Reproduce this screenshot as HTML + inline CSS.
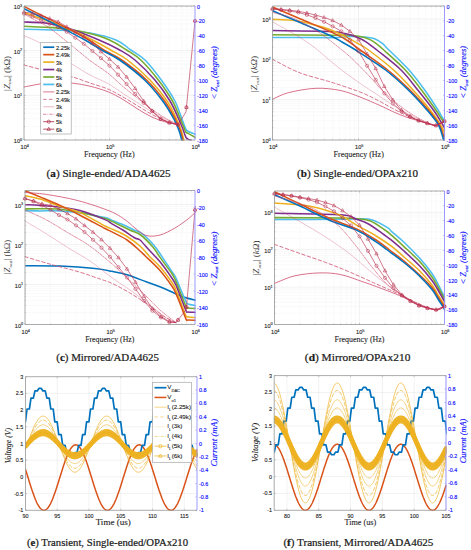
<!DOCTYPE html>
<html><head><meta charset="utf-8"><style>
html,body{margin:0;padding:0;background:#fff;width:471px;height:550px;overflow:hidden}
svg{display:block}
</style></head><body>
<svg width="471" height="550" viewBox="0 0 471 550">
<rect width="471" height="550" fill="#fff"/>
<line x1="49.74" y1="6" x2="49.74" y2="140" stroke="#f4f4f4" stroke-width="0.5"/>
<line x1="64.79" y1="6" x2="64.79" y2="140" stroke="#f4f4f4" stroke-width="0.5"/>
<line x1="75.48" y1="6" x2="75.48" y2="140" stroke="#f4f4f4" stroke-width="0.5"/>
<line x1="83.76" y1="6" x2="83.76" y2="140" stroke="#f4f4f4" stroke-width="0.5"/>
<line x1="90.53" y1="6" x2="90.53" y2="140" stroke="#f4f4f4" stroke-width="0.5"/>
<line x1="96.26" y1="6" x2="96.26" y2="140" stroke="#f4f4f4" stroke-width="0.5"/>
<line x1="101.21" y1="6" x2="101.21" y2="140" stroke="#f4f4f4" stroke-width="0.5"/>
<line x1="105.59" y1="6" x2="105.59" y2="140" stroke="#f4f4f4" stroke-width="0.5"/>
<line x1="135.24" y1="6" x2="135.24" y2="140" stroke="#f4f4f4" stroke-width="0.5"/>
<line x1="150.29" y1="6" x2="150.29" y2="140" stroke="#f4f4f4" stroke-width="0.5"/>
<line x1="160.98" y1="6" x2="160.98" y2="140" stroke="#f4f4f4" stroke-width="0.5"/>
<line x1="169.26" y1="6" x2="169.26" y2="140" stroke="#f4f4f4" stroke-width="0.5"/>
<line x1="176.03" y1="6" x2="176.03" y2="140" stroke="#f4f4f4" stroke-width="0.5"/>
<line x1="181.76" y1="6" x2="181.76" y2="140" stroke="#f4f4f4" stroke-width="0.5"/>
<line x1="186.71" y1="6" x2="186.71" y2="140" stroke="#f4f4f4" stroke-width="0.5"/>
<line x1="191.09" y1="6" x2="191.09" y2="140" stroke="#f4f4f4" stroke-width="0.5"/>
<line x1="24" y1="126.55" x2="195" y2="126.55" stroke="#f4f4f4" stroke-width="0.5"/>
<line x1="24" y1="118.69" x2="195" y2="118.69" stroke="#f4f4f4" stroke-width="0.5"/>
<line x1="24" y1="113.11" x2="195" y2="113.11" stroke="#f4f4f4" stroke-width="0.5"/>
<line x1="24" y1="108.78" x2="195" y2="108.78" stroke="#f4f4f4" stroke-width="0.5"/>
<line x1="24" y1="105.24" x2="195" y2="105.24" stroke="#f4f4f4" stroke-width="0.5"/>
<line x1="24" y1="102.25" x2="195" y2="102.25" stroke="#f4f4f4" stroke-width="0.5"/>
<line x1="24" y1="99.66" x2="195" y2="99.66" stroke="#f4f4f4" stroke-width="0.5"/>
<line x1="24" y1="97.38" x2="195" y2="97.38" stroke="#f4f4f4" stroke-width="0.5"/>
<line x1="24" y1="81.89" x2="195" y2="81.89" stroke="#f4f4f4" stroke-width="0.5"/>
<line x1="24" y1="74.02" x2="195" y2="74.02" stroke="#f4f4f4" stroke-width="0.5"/>
<line x1="24" y1="68.44" x2="195" y2="68.44" stroke="#f4f4f4" stroke-width="0.5"/>
<line x1="24" y1="64.11" x2="195" y2="64.11" stroke="#f4f4f4" stroke-width="0.5"/>
<line x1="24" y1="60.58" x2="195" y2="60.58" stroke="#f4f4f4" stroke-width="0.5"/>
<line x1="24" y1="57.59" x2="195" y2="57.59" stroke="#f4f4f4" stroke-width="0.5"/>
<line x1="24" y1="55" x2="195" y2="55" stroke="#f4f4f4" stroke-width="0.5"/>
<line x1="24" y1="52.71" x2="195" y2="52.71" stroke="#f4f4f4" stroke-width="0.5"/>
<line x1="24" y1="37.22" x2="195" y2="37.22" stroke="#f4f4f4" stroke-width="0.5"/>
<line x1="24" y1="29.36" x2="195" y2="29.36" stroke="#f4f4f4" stroke-width="0.5"/>
<line x1="24" y1="23.77" x2="195" y2="23.77" stroke="#f4f4f4" stroke-width="0.5"/>
<line x1="24" y1="19.45" x2="195" y2="19.45" stroke="#f4f4f4" stroke-width="0.5"/>
<line x1="24" y1="15.91" x2="195" y2="15.91" stroke="#f4f4f4" stroke-width="0.5"/>
<line x1="24" y1="12.92" x2="195" y2="12.92" stroke="#f4f4f4" stroke-width="0.5"/>
<line x1="24" y1="10.33" x2="195" y2="10.33" stroke="#f4f4f4" stroke-width="0.5"/>
<line x1="24" y1="8.04" x2="195" y2="8.04" stroke="#f4f4f4" stroke-width="0.5"/>
<line x1="109.5" y1="6" x2="109.5" y2="140" stroke="#e9e9e9" stroke-width="0.6"/>
<line x1="24" y1="95.33" x2="195" y2="95.33" stroke="#e9e9e9" stroke-width="0.6"/>
<line x1="24" y1="50.67" x2="195" y2="50.67" stroke="#e9e9e9" stroke-width="0.6"/>
<line x1="298.39" y1="6" x2="298.39" y2="140" stroke="#f4f4f4" stroke-width="0.5"/>
<line x1="313.53" y1="6" x2="313.53" y2="140" stroke="#f4f4f4" stroke-width="0.5"/>
<line x1="324.28" y1="6" x2="324.28" y2="140" stroke="#f4f4f4" stroke-width="0.5"/>
<line x1="332.61" y1="6" x2="332.61" y2="140" stroke="#f4f4f4" stroke-width="0.5"/>
<line x1="339.42" y1="6" x2="339.42" y2="140" stroke="#f4f4f4" stroke-width="0.5"/>
<line x1="345.18" y1="6" x2="345.18" y2="140" stroke="#f4f4f4" stroke-width="0.5"/>
<line x1="350.17" y1="6" x2="350.17" y2="140" stroke="#f4f4f4" stroke-width="0.5"/>
<line x1="354.56" y1="6" x2="354.56" y2="140" stroke="#f4f4f4" stroke-width="0.5"/>
<line x1="384.39" y1="6" x2="384.39" y2="140" stroke="#f4f4f4" stroke-width="0.5"/>
<line x1="399.53" y1="6" x2="399.53" y2="140" stroke="#f4f4f4" stroke-width="0.5"/>
<line x1="410.28" y1="6" x2="410.28" y2="140" stroke="#f4f4f4" stroke-width="0.5"/>
<line x1="418.61" y1="6" x2="418.61" y2="140" stroke="#f4f4f4" stroke-width="0.5"/>
<line x1="425.42" y1="6" x2="425.42" y2="140" stroke="#f4f4f4" stroke-width="0.5"/>
<line x1="431.18" y1="6" x2="431.18" y2="140" stroke="#f4f4f4" stroke-width="0.5"/>
<line x1="436.17" y1="6" x2="436.17" y2="140" stroke="#f4f4f4" stroke-width="0.5"/>
<line x1="440.56" y1="6" x2="440.56" y2="140" stroke="#f4f4f4" stroke-width="0.5"/>
<line x1="272.5" y1="127.85" x2="444.5" y2="127.85" stroke="#f4f4f4" stroke-width="0.5"/>
<line x1="272.5" y1="120.74" x2="444.5" y2="120.74" stroke="#f4f4f4" stroke-width="0.5"/>
<line x1="272.5" y1="115.7" x2="444.5" y2="115.7" stroke="#f4f4f4" stroke-width="0.5"/>
<line x1="272.5" y1="111.79" x2="444.5" y2="111.79" stroke="#f4f4f4" stroke-width="0.5"/>
<line x1="272.5" y1="108.59" x2="444.5" y2="108.59" stroke="#f4f4f4" stroke-width="0.5"/>
<line x1="272.5" y1="105.89" x2="444.5" y2="105.89" stroke="#f4f4f4" stroke-width="0.5"/>
<line x1="272.5" y1="103.55" x2="444.5" y2="103.55" stroke="#f4f4f4" stroke-width="0.5"/>
<line x1="272.5" y1="101.49" x2="444.5" y2="101.49" stroke="#f4f4f4" stroke-width="0.5"/>
<line x1="272.5" y1="87.49" x2="444.5" y2="87.49" stroke="#f4f4f4" stroke-width="0.5"/>
<line x1="272.5" y1="80.38" x2="444.5" y2="80.38" stroke="#f4f4f4" stroke-width="0.5"/>
<line x1="272.5" y1="75.34" x2="444.5" y2="75.34" stroke="#f4f4f4" stroke-width="0.5"/>
<line x1="272.5" y1="71.43" x2="444.5" y2="71.43" stroke="#f4f4f4" stroke-width="0.5"/>
<line x1="272.5" y1="68.23" x2="444.5" y2="68.23" stroke="#f4f4f4" stroke-width="0.5"/>
<line x1="272.5" y1="65.53" x2="444.5" y2="65.53" stroke="#f4f4f4" stroke-width="0.5"/>
<line x1="272.5" y1="63.19" x2="444.5" y2="63.19" stroke="#f4f4f4" stroke-width="0.5"/>
<line x1="272.5" y1="61.12" x2="444.5" y2="61.12" stroke="#f4f4f4" stroke-width="0.5"/>
<line x1="272.5" y1="47.13" x2="444.5" y2="47.13" stroke="#f4f4f4" stroke-width="0.5"/>
<line x1="272.5" y1="40.02" x2="444.5" y2="40.02" stroke="#f4f4f4" stroke-width="0.5"/>
<line x1="272.5" y1="34.98" x2="444.5" y2="34.98" stroke="#f4f4f4" stroke-width="0.5"/>
<line x1="272.5" y1="31.07" x2="444.5" y2="31.07" stroke="#f4f4f4" stroke-width="0.5"/>
<line x1="272.5" y1="27.87" x2="444.5" y2="27.87" stroke="#f4f4f4" stroke-width="0.5"/>
<line x1="272.5" y1="25.17" x2="444.5" y2="25.17" stroke="#f4f4f4" stroke-width="0.5"/>
<line x1="272.5" y1="22.83" x2="444.5" y2="22.83" stroke="#f4f4f4" stroke-width="0.5"/>
<line x1="272.5" y1="20.76" x2="444.5" y2="20.76" stroke="#f4f4f4" stroke-width="0.5"/>
<line x1="272.5" y1="6.77" x2="444.5" y2="6.77" stroke="#f4f4f4" stroke-width="0.5"/>
<line x1="358.5" y1="6" x2="358.5" y2="140" stroke="#e9e9e9" stroke-width="0.6"/>
<line x1="272.5" y1="99.64" x2="444.5" y2="99.64" stroke="#e9e9e9" stroke-width="0.6"/>
<line x1="272.5" y1="59.28" x2="444.5" y2="59.28" stroke="#e9e9e9" stroke-width="0.6"/>
<line x1="272.5" y1="18.92" x2="444.5" y2="18.92" stroke="#e9e9e9" stroke-width="0.6"/>
<line x1="50.59" y1="190.5" x2="50.59" y2="324.5" stroke="#f4f4f4" stroke-width="0.5"/>
<line x1="65.56" y1="190.5" x2="65.56" y2="324.5" stroke="#f4f4f4" stroke-width="0.5"/>
<line x1="76.18" y1="190.5" x2="76.18" y2="324.5" stroke="#f4f4f4" stroke-width="0.5"/>
<line x1="84.41" y1="190.5" x2="84.41" y2="324.5" stroke="#f4f4f4" stroke-width="0.5"/>
<line x1="91.14" y1="190.5" x2="91.14" y2="324.5" stroke="#f4f4f4" stroke-width="0.5"/>
<line x1="96.83" y1="190.5" x2="96.83" y2="324.5" stroke="#f4f4f4" stroke-width="0.5"/>
<line x1="101.76" y1="190.5" x2="101.76" y2="324.5" stroke="#f4f4f4" stroke-width="0.5"/>
<line x1="106.11" y1="190.5" x2="106.11" y2="324.5" stroke="#f4f4f4" stroke-width="0.5"/>
<line x1="135.59" y1="190.5" x2="135.59" y2="324.5" stroke="#f4f4f4" stroke-width="0.5"/>
<line x1="150.56" y1="190.5" x2="150.56" y2="324.5" stroke="#f4f4f4" stroke-width="0.5"/>
<line x1="161.18" y1="190.5" x2="161.18" y2="324.5" stroke="#f4f4f4" stroke-width="0.5"/>
<line x1="169.41" y1="190.5" x2="169.41" y2="324.5" stroke="#f4f4f4" stroke-width="0.5"/>
<line x1="176.14" y1="190.5" x2="176.14" y2="324.5" stroke="#f4f4f4" stroke-width="0.5"/>
<line x1="181.83" y1="190.5" x2="181.83" y2="324.5" stroke="#f4f4f4" stroke-width="0.5"/>
<line x1="186.76" y1="190.5" x2="186.76" y2="324.5" stroke="#f4f4f4" stroke-width="0.5"/>
<line x1="191.11" y1="190.5" x2="191.11" y2="324.5" stroke="#f4f4f4" stroke-width="0.5"/>
<line x1="25" y1="312.46" x2="195" y2="312.46" stroke="#f4f4f4" stroke-width="0.5"/>
<line x1="25" y1="305.42" x2="195" y2="305.42" stroke="#f4f4f4" stroke-width="0.5"/>
<line x1="25" y1="300.42" x2="195" y2="300.42" stroke="#f4f4f4" stroke-width="0.5"/>
<line x1="25" y1="296.54" x2="195" y2="296.54" stroke="#f4f4f4" stroke-width="0.5"/>
<line x1="25" y1="293.37" x2="195" y2="293.37" stroke="#f4f4f4" stroke-width="0.5"/>
<line x1="25" y1="290.7" x2="195" y2="290.7" stroke="#f4f4f4" stroke-width="0.5"/>
<line x1="25" y1="288.38" x2="195" y2="288.38" stroke="#f4f4f4" stroke-width="0.5"/>
<line x1="25" y1="286.33" x2="195" y2="286.33" stroke="#f4f4f4" stroke-width="0.5"/>
<line x1="25" y1="272.46" x2="195" y2="272.46" stroke="#f4f4f4" stroke-width="0.5"/>
<line x1="25" y1="265.42" x2="195" y2="265.42" stroke="#f4f4f4" stroke-width="0.5"/>
<line x1="25" y1="260.42" x2="195" y2="260.42" stroke="#f4f4f4" stroke-width="0.5"/>
<line x1="25" y1="256.54" x2="195" y2="256.54" stroke="#f4f4f4" stroke-width="0.5"/>
<line x1="25" y1="253.37" x2="195" y2="253.37" stroke="#f4f4f4" stroke-width="0.5"/>
<line x1="25" y1="250.7" x2="195" y2="250.7" stroke="#f4f4f4" stroke-width="0.5"/>
<line x1="25" y1="248.38" x2="195" y2="248.38" stroke="#f4f4f4" stroke-width="0.5"/>
<line x1="25" y1="246.33" x2="195" y2="246.33" stroke="#f4f4f4" stroke-width="0.5"/>
<line x1="25" y1="232.46" x2="195" y2="232.46" stroke="#f4f4f4" stroke-width="0.5"/>
<line x1="25" y1="225.42" x2="195" y2="225.42" stroke="#f4f4f4" stroke-width="0.5"/>
<line x1="25" y1="220.42" x2="195" y2="220.42" stroke="#f4f4f4" stroke-width="0.5"/>
<line x1="25" y1="216.54" x2="195" y2="216.54" stroke="#f4f4f4" stroke-width="0.5"/>
<line x1="25" y1="213.37" x2="195" y2="213.37" stroke="#f4f4f4" stroke-width="0.5"/>
<line x1="25" y1="210.7" x2="195" y2="210.7" stroke="#f4f4f4" stroke-width="0.5"/>
<line x1="25" y1="208.38" x2="195" y2="208.38" stroke="#f4f4f4" stroke-width="0.5"/>
<line x1="25" y1="206.33" x2="195" y2="206.33" stroke="#f4f4f4" stroke-width="0.5"/>
<line x1="25" y1="192.46" x2="195" y2="192.46" stroke="#f4f4f4" stroke-width="0.5"/>
<line x1="110" y1="190.5" x2="110" y2="324.5" stroke="#e9e9e9" stroke-width="0.6"/>
<line x1="25" y1="284.5" x2="195" y2="284.5" stroke="#e9e9e9" stroke-width="0.6"/>
<line x1="25" y1="244.5" x2="195" y2="244.5" stroke="#e9e9e9" stroke-width="0.6"/>
<line x1="25" y1="204.5" x2="195" y2="204.5" stroke="#e9e9e9" stroke-width="0.6"/>
<line x1="300.09" y1="191" x2="300.09" y2="324.5" stroke="#f4f4f4" stroke-width="0.5"/>
<line x1="315.06" y1="191" x2="315.06" y2="324.5" stroke="#f4f4f4" stroke-width="0.5"/>
<line x1="325.68" y1="191" x2="325.68" y2="324.5" stroke="#f4f4f4" stroke-width="0.5"/>
<line x1="333.91" y1="191" x2="333.91" y2="324.5" stroke="#f4f4f4" stroke-width="0.5"/>
<line x1="340.64" y1="191" x2="340.64" y2="324.5" stroke="#f4f4f4" stroke-width="0.5"/>
<line x1="346.33" y1="191" x2="346.33" y2="324.5" stroke="#f4f4f4" stroke-width="0.5"/>
<line x1="351.26" y1="191" x2="351.26" y2="324.5" stroke="#f4f4f4" stroke-width="0.5"/>
<line x1="355.61" y1="191" x2="355.61" y2="324.5" stroke="#f4f4f4" stroke-width="0.5"/>
<line x1="385.09" y1="191" x2="385.09" y2="324.5" stroke="#f4f4f4" stroke-width="0.5"/>
<line x1="400.06" y1="191" x2="400.06" y2="324.5" stroke="#f4f4f4" stroke-width="0.5"/>
<line x1="410.68" y1="191" x2="410.68" y2="324.5" stroke="#f4f4f4" stroke-width="0.5"/>
<line x1="418.91" y1="191" x2="418.91" y2="324.5" stroke="#f4f4f4" stroke-width="0.5"/>
<line x1="425.64" y1="191" x2="425.64" y2="324.5" stroke="#f4f4f4" stroke-width="0.5"/>
<line x1="431.33" y1="191" x2="431.33" y2="324.5" stroke="#f4f4f4" stroke-width="0.5"/>
<line x1="436.26" y1="191" x2="436.26" y2="324.5" stroke="#f4f4f4" stroke-width="0.5"/>
<line x1="440.61" y1="191" x2="440.61" y2="324.5" stroke="#f4f4f4" stroke-width="0.5"/>
<line x1="274.5" y1="313.24" x2="444.5" y2="313.24" stroke="#f4f4f4" stroke-width="0.5"/>
<line x1="274.5" y1="306.66" x2="444.5" y2="306.66" stroke="#f4f4f4" stroke-width="0.5"/>
<line x1="274.5" y1="301.99" x2="444.5" y2="301.99" stroke="#f4f4f4" stroke-width="0.5"/>
<line x1="274.5" y1="298.36" x2="444.5" y2="298.36" stroke="#f4f4f4" stroke-width="0.5"/>
<line x1="274.5" y1="295.4" x2="444.5" y2="295.4" stroke="#f4f4f4" stroke-width="0.5"/>
<line x1="274.5" y1="292.9" x2="444.5" y2="292.9" stroke="#f4f4f4" stroke-width="0.5"/>
<line x1="274.5" y1="290.73" x2="444.5" y2="290.73" stroke="#f4f4f4" stroke-width="0.5"/>
<line x1="274.5" y1="288.82" x2="444.5" y2="288.82" stroke="#f4f4f4" stroke-width="0.5"/>
<line x1="274.5" y1="275.85" x2="444.5" y2="275.85" stroke="#f4f4f4" stroke-width="0.5"/>
<line x1="274.5" y1="269.26" x2="444.5" y2="269.26" stroke="#f4f4f4" stroke-width="0.5"/>
<line x1="274.5" y1="264.59" x2="444.5" y2="264.59" stroke="#f4f4f4" stroke-width="0.5"/>
<line x1="274.5" y1="260.97" x2="444.5" y2="260.97" stroke="#f4f4f4" stroke-width="0.5"/>
<line x1="274.5" y1="258.01" x2="444.5" y2="258.01" stroke="#f4f4f4" stroke-width="0.5"/>
<line x1="274.5" y1="255.5" x2="444.5" y2="255.5" stroke="#f4f4f4" stroke-width="0.5"/>
<line x1="274.5" y1="253.33" x2="444.5" y2="253.33" stroke="#f4f4f4" stroke-width="0.5"/>
<line x1="274.5" y1="251.42" x2="444.5" y2="251.42" stroke="#f4f4f4" stroke-width="0.5"/>
<line x1="274.5" y1="238.45" x2="444.5" y2="238.45" stroke="#f4f4f4" stroke-width="0.5"/>
<line x1="274.5" y1="231.87" x2="444.5" y2="231.87" stroke="#f4f4f4" stroke-width="0.5"/>
<line x1="274.5" y1="227.2" x2="444.5" y2="227.2" stroke="#f4f4f4" stroke-width="0.5"/>
<line x1="274.5" y1="223.57" x2="444.5" y2="223.57" stroke="#f4f4f4" stroke-width="0.5"/>
<line x1="274.5" y1="220.61" x2="444.5" y2="220.61" stroke="#f4f4f4" stroke-width="0.5"/>
<line x1="274.5" y1="218.11" x2="444.5" y2="218.11" stroke="#f4f4f4" stroke-width="0.5"/>
<line x1="274.5" y1="215.94" x2="444.5" y2="215.94" stroke="#f4f4f4" stroke-width="0.5"/>
<line x1="274.5" y1="214.03" x2="444.5" y2="214.03" stroke="#f4f4f4" stroke-width="0.5"/>
<line x1="274.5" y1="201.06" x2="444.5" y2="201.06" stroke="#f4f4f4" stroke-width="0.5"/>
<line x1="274.5" y1="194.47" x2="444.5" y2="194.47" stroke="#f4f4f4" stroke-width="0.5"/>
<line x1="359.5" y1="191" x2="359.5" y2="324.5" stroke="#e9e9e9" stroke-width="0.6"/>
<line x1="274.5" y1="287.11" x2="444.5" y2="287.11" stroke="#e9e9e9" stroke-width="0.6"/>
<line x1="274.5" y1="249.71" x2="444.5" y2="249.71" stroke="#e9e9e9" stroke-width="0.6"/>
<line x1="274.5" y1="212.32" x2="444.5" y2="212.32" stroke="#e9e9e9" stroke-width="0.6"/>
<line x1="57.26" y1="376.7" x2="57.26" y2="510.3" stroke="#e9e9e9" stroke-width="0.6"/>
<line x1="89.02" y1="376.7" x2="89.02" y2="510.3" stroke="#e9e9e9" stroke-width="0.6"/>
<line x1="120.78" y1="376.7" x2="120.78" y2="510.3" stroke="#e9e9e9" stroke-width="0.6"/>
<line x1="152.54" y1="376.7" x2="152.54" y2="510.3" stroke="#e9e9e9" stroke-width="0.6"/>
<line x1="184.3" y1="376.7" x2="184.3" y2="510.3" stroke="#e9e9e9" stroke-width="0.6"/>
<line x1="25.5" y1="393.4" x2="197" y2="393.4" stroke="#e9e9e9" stroke-width="0.6"/>
<line x1="25.5" y1="410.1" x2="197" y2="410.1" stroke="#e9e9e9" stroke-width="0.6"/>
<line x1="25.5" y1="426.8" x2="197" y2="426.8" stroke="#e9e9e9" stroke-width="0.6"/>
<line x1="25.5" y1="443.5" x2="197" y2="443.5" stroke="#e9e9e9" stroke-width="0.6"/>
<line x1="25.5" y1="460.2" x2="197" y2="460.2" stroke="#e9e9e9" stroke-width="0.6"/>
<line x1="25.5" y1="476.9" x2="197" y2="476.9" stroke="#e9e9e9" stroke-width="0.6"/>
<line x1="25.5" y1="493.6" x2="197" y2="493.6" stroke="#e9e9e9" stroke-width="0.6"/>
<line x1="286.93" y1="375.6" x2="286.93" y2="510.3" stroke="#e9e9e9" stroke-width="0.6"/>
<line x1="318.74" y1="375.6" x2="318.74" y2="510.3" stroke="#e9e9e9" stroke-width="0.6"/>
<line x1="350.56" y1="375.6" x2="350.56" y2="510.3" stroke="#e9e9e9" stroke-width="0.6"/>
<line x1="382.37" y1="375.6" x2="382.37" y2="510.3" stroke="#e9e9e9" stroke-width="0.6"/>
<line x1="414.19" y1="375.6" x2="414.19" y2="510.3" stroke="#e9e9e9" stroke-width="0.6"/>
<line x1="446" y1="375.6" x2="446" y2="510.3" stroke="#e9e9e9" stroke-width="0.6"/>
<line x1="274.2" y1="392.44" x2="446" y2="392.44" stroke="#e9e9e9" stroke-width="0.6"/>
<line x1="274.2" y1="409.28" x2="446" y2="409.28" stroke="#e9e9e9" stroke-width="0.6"/>
<line x1="274.2" y1="426.11" x2="446" y2="426.11" stroke="#e9e9e9" stroke-width="0.6"/>
<line x1="274.2" y1="442.95" x2="446" y2="442.95" stroke="#e9e9e9" stroke-width="0.6"/>
<line x1="274.2" y1="459.79" x2="446" y2="459.79" stroke="#e9e9e9" stroke-width="0.6"/>
<line x1="274.2" y1="476.62" x2="446" y2="476.62" stroke="#e9e9e9" stroke-width="0.6"/>
<line x1="274.2" y1="493.46" x2="446" y2="493.46" stroke="#e9e9e9" stroke-width="0.6"/>
<clipPath id="ca"><rect x="24" y="5.5" width="171.6" height="135"/></clipPath>
<g clip-path="url(#ca)">
<path d="M24 29.2 C27.5 29.3 38 29.58 45 29.8 C52 30.02 58.5 29.97 66 30.5 C73.5 31.03 81.67 31.42 90 33 C98.33 34.58 109.18 37.17 116 40 C122.82 42.83 126.07 46.67 130.9 50 C135.73 53.33 139.93 55 145 60 C150.07 65 156.32 73.17 161.3 80 C166.28 86.83 171.4 94.33 174.9 101 C178.4 107.67 180.58 115.58 182.3 120 C184.02 124.42 184.5 125.83 185.2 127.5 C185.9 129.17 186.03 129.37 186.5 130 C186.97 130.63 186.42 130.55 188 131.3 C189.58 132.05 194.67 133.97 196 134.5" fill="none" stroke="#4DBEEE" stroke-width="1.55" stroke-linejoin="round" stroke-linecap="round" />
<path d="M24 26.3 C27.5 26.45 38 26.75 45 27.2 C52 27.65 58.5 27.95 66 29 C73.5 30.05 82.75 31.67 90 33.5 C97.25 35.33 103.4 37.25 109.5 40 C115.6 42.75 121.38 46.67 126.6 50 C131.82 53.33 135.52 55 140.8 60 C146.08 65 153.02 73.17 158.3 80 C163.58 86.83 168.75 94.33 172.5 101 C176.25 107.67 178.85 115.5 180.8 120 C182.75 124.5 183.37 126 184.2 128 C185.03 130 185.17 131.1 185.8 132 C186.43 132.9 186.3 132.43 188 133.4 C189.7 134.37 194.67 137.07 196 137.8" fill="none" stroke="#77AC30" stroke-width="1.55" stroke-linejoin="round" stroke-linecap="round" />
<path d="M24 22 C27.5 22.17 38 22.07 45 23 C52 23.93 57 24.77 66 27.6 C75 30.43 90.05 36.27 99 40 C107.95 43.73 113.72 46.67 119.7 50 C125.68 53.33 129.03 55 134.9 60 C140.77 65 149.05 73.17 154.9 80 C160.75 86.83 165.97 94.33 170 101 C174.03 107.67 176.9 115.17 179.1 120 C181.3 124.83 182.08 127.15 183.2 130 C184.32 132.85 185 135.58 185.8 137.1 C186.6 138.62 187.13 138.57 188 139.1 C188.87 139.63 190.5 140.1 191 140.3" fill="none" stroke="#7E2F8E" stroke-width="1.55" stroke-linejoin="round" stroke-linecap="round" />
<path d="M24 12.5 C27.5 13.75 38 17.5 45 20 C52 22.5 58.08 24.17 66 27.5 C73.92 30.83 85.05 36.25 92.5 40 C99.95 43.75 104.87 46.67 110.7 50 C116.53 53.33 120.95 55 127.5 60 C134.05 65 143.4 73.17 150 80 C156.6 86.83 162.6 94.33 167.1 101 C171.6 107.67 174.6 115 177 120 C179.4 125 180.33 127.5 181.5 131 C182.67 134.5 183.53 139 184 141 C184.47 143 184.25 142.67 184.3 143" fill="none" stroke="#EDB120" stroke-width="1.55" stroke-linejoin="round" stroke-linecap="round" />
<path d="M24 6.5 C27.5 8.25 38 13.5 45 17 C52 20.5 58.67 23.67 66 27.5 C73.33 31.33 82.7 36.25 89 40 C95.3 43.75 98.35 46.67 103.8 50 C109.25 53.33 114.57 55 121.7 60 C128.83 65 139.45 73.17 146.6 80 C153.75 86.83 159.75 94.33 164.6 101 C169.45 107.67 173.05 115 175.7 120 C178.35 125 179.28 127.5 180.5 131 C181.72 134.5 182.53 139 183 141 C183.47 143 183.25 142.67 183.3 143" fill="none" stroke="#D95319" stroke-width="1.55" stroke-linejoin="round" stroke-linecap="round" />
<path d="M24 8.7 C27.5 10.45 38 15.65 45 19.2 C52 22.75 59.33 26.53 66 30 C72.67 33.47 79.05 36.67 85 40 C90.95 43.33 95.93 46.67 101.7 50 C107.47 53.33 112.45 55 119.6 60 C126.75 65 137.42 73.17 144.6 80 C151.78 86.83 157.73 94.33 162.7 101 C167.67 107.67 171.6 114.83 174.4 120 C177.2 125.17 178.25 128.5 179.5 132 C180.75 135.5 181.45 139.17 181.9 141 C182.35 142.83 182.15 142.67 182.2 143" fill="none" stroke="#0072BD" stroke-width="1.55" stroke-linejoin="round" stroke-linecap="round" />
</g>
<clipPath id="caw"><rect x="21" y="3" width="177" height="140"/></clipPath>
<g clip-path="url(#caw)">
<path d="M24 35.6 C26.77 36.88 34.6 39.9 40.6 43.3 C46.6 46.7 54.65 52.47 60 56 C65.35 59.53 67.7 61.33 72.7 64.5 C77.7 67.67 84.12 71.82 90 75 C95.88 78.18 102.5 80.52 108 83.6 C113.5 86.68 118 90.27 123 93.5 C128 96.73 133.17 99.92 138 103 C142.83 106.08 147.33 109.25 152 112 C156.67 114.75 161.63 117.4 166 119.5 C170.37 121.6 176.17 123.75 178.2 124.6" fill="none" stroke="#cc4466" stroke-width="0.7" stroke-linejoin="round" stroke-linecap="round" opacity="0.45"/>
<path d="M24 87 C26.67 86.5 34.83 84.73 40 84 C45.17 83.27 49.55 82.73 55 82.6 C60.45 82.47 66.87 82.6 72.7 83.2 C78.53 83.8 84.12 84.77 90 86.2 C95.88 87.63 102.5 89.58 108 91.8 C113.5 94.02 118 96.6 123 99.5 C128 102.4 133.17 106.27 138 109.2 C142.83 112.13 147.33 114.93 152 117.1 C156.67 119.27 161.63 120.95 166 122.2 C170.37 123.45 176.17 124.2 178.2 124.6" fill="none" stroke="#cc4466" stroke-width="0.9" stroke-linejoin="round" stroke-linecap="round" opacity="0.85"/>
<path d="M24 65 C26.83 65.75 35 67.92 41 69.5 C47 71.08 54.57 73.2 60 74.5 C65.43 75.8 68.6 75.88 73.6 77.3 C78.6 78.72 84.27 81.03 90 83 C95.73 84.97 102.5 86.77 108 89.1 C113.5 91.43 118 94.18 123 97 C128 99.82 133.17 103.08 138 106 C142.83 108.92 147.33 112 152 114.5 C156.67 117 161.63 119.32 166 121 C170.37 122.68 176.17 124 178.2 124.6" fill="none" stroke="#cc4466" stroke-width="0.9" stroke-linejoin="round" stroke-linecap="round" opacity="0.85" stroke-dasharray="3.4 2.4"/>
<path d="M24 14 C25.83 15 30.75 17.67 35 20 C39.25 22.33 43.22 23.6 49.5 28 C55.78 32.4 65.95 40.98 72.7 46.4 C79.45 51.82 84.12 56.03 90 60.5 C95.88 64.97 102.5 68.87 108 73.2 C113.5 77.53 118 82.28 123 86.5 C128 90.72 133.17 94.67 138 98.5 C142.83 102.33 147.33 106.17 152 109.5 C156.67 112.83 161.63 115.98 166 118.5 C170.37 121.02 176.17 123.58 178.2 124.6" fill="none" stroke="#cc4466" stroke-width="0.8" stroke-linejoin="round" stroke-linecap="round" opacity="0.75" stroke-dasharray="3 1.2 0.8 1.2"/>
<path d="M24 13.6 L32.8 16.7 L41.1 20.3 L49.4 23.7 L57.7 26.9 L66.9 31.9 L75 37.5 L83.6 43.6 L91.8 50.5 L100 57.3 L109.4 65.5 L117.5 74.1 L126.6 84.1 L134.8 93.6 L143.3 102.5 L152 111 L160.4 118.5 L169.3 122.7 L178.2 124.6 L186 111.8 L195 20.9" fill="none" stroke="#b8304f" stroke-width="0.75" stroke-linejoin="round" stroke-linecap="round" opacity="0.85"/>
<path d="M24 12 L33 13.5 L41 15.7 L49.5 18.5 L57.7 21.5 L66.7 26.7 L75 31.9 L83.8 36.8 L92 42.8 L100 50.9 L108.8 58.5 L117.5 66.4 L126.2 76.4 L135.3 88.6 L143.5 100.9 L152 110.6 L160.4 119 L169.3 122.7 L178.2 124.6" fill="none" stroke="#b8304f" stroke-width="0.75" stroke-linejoin="round" stroke-linecap="round" opacity="0.85"/>
<circle cx="24.00" cy="13.60" r="1.6" fill="none" stroke="#b8304f" stroke-width="0.6" opacity="0.9"/>
<circle cx="32.55" cy="16.61" r="1.6" fill="none" stroke="#b8304f" stroke-width="0.6" opacity="0.9"/>
<circle cx="41.10" cy="20.30" r="1.6" fill="none" stroke="#b8304f" stroke-width="0.6" opacity="0.9"/>
<circle cx="49.65" cy="23.80" r="1.6" fill="none" stroke="#b8304f" stroke-width="0.6" opacity="0.9"/>
<circle cx="58.20" cy="27.17" r="1.6" fill="none" stroke="#b8304f" stroke-width="0.6" opacity="0.9"/>
<circle cx="66.75" cy="31.82" r="1.6" fill="none" stroke="#b8304f" stroke-width="0.6" opacity="0.9"/>
<circle cx="75.30" cy="37.71" r="1.6" fill="none" stroke="#b8304f" stroke-width="0.6" opacity="0.9"/>
<circle cx="83.85" cy="43.81" r="1.6" fill="none" stroke="#b8304f" stroke-width="0.6" opacity="0.9"/>
<circle cx="92.40" cy="51.00" r="1.6" fill="none" stroke="#b8304f" stroke-width="0.6" opacity="0.9"/>
<circle cx="100.95" cy="58.13" r="1.6" fill="none" stroke="#b8304f" stroke-width="0.6" opacity="0.9"/>
<circle cx="109.50" cy="65.61" r="1.6" fill="none" stroke="#b8304f" stroke-width="0.6" opacity="0.9"/>
<circle cx="118.05" cy="74.70" r="1.6" fill="none" stroke="#b8304f" stroke-width="0.6" opacity="0.9"/>
<circle cx="126.60" cy="84.10" r="1.6" fill="none" stroke="#b8304f" stroke-width="0.6" opacity="0.9"/>
<circle cx="135.15" cy="93.97" r="1.6" fill="none" stroke="#b8304f" stroke-width="0.6" opacity="0.9"/>
<circle cx="143.70" cy="102.89" r="1.6" fill="none" stroke="#b8304f" stroke-width="0.6" opacity="0.9"/>
<circle cx="152.25" cy="111.22" r="1.6" fill="none" stroke="#b8304f" stroke-width="0.6" opacity="0.9"/>
<circle cx="160.80" cy="118.69" r="1.6" fill="none" stroke="#b8304f" stroke-width="0.6" opacity="0.9"/>
<circle cx="169.35" cy="122.71" r="1.6" fill="none" stroke="#b8304f" stroke-width="0.6" opacity="0.9"/>
<circle cx="177.90" cy="124.54" r="1.6" fill="none" stroke="#b8304f" stroke-width="0.6" opacity="0.9"/>
<circle cx="186.45" cy="107.26" r="1.6" fill="none" stroke="#b8304f" stroke-width="0.6" opacity="0.9"/>
<circle cx="195.00" cy="20.90" r="1.6" fill="none" stroke="#b8304f" stroke-width="0.6" opacity="0.9"/>
<path d="M24.00 10.10 L22.29 13.14 L25.71 13.14 Z" fill="none" stroke="#b8304f" stroke-width="0.6" opacity="0.9"/>
<path d="M32.55 11.52 L30.84 14.56 L34.26 14.56 Z" fill="none" stroke="#b8304f" stroke-width="0.6" opacity="0.9"/>
<path d="M41.10 13.83 L39.39 16.87 L42.81 16.87 Z" fill="none" stroke="#b8304f" stroke-width="0.6" opacity="0.9"/>
<path d="M49.65 16.65 L47.94 19.69 L51.36 19.69 Z" fill="none" stroke="#b8304f" stroke-width="0.6" opacity="0.9"/>
<path d="M58.20 19.89 L56.49 22.93 L59.91 22.93 Z" fill="none" stroke="#b8304f" stroke-width="0.6" opacity="0.9"/>
<path d="M66.75 24.83 L65.04 27.87 L68.46 27.87 Z" fill="none" stroke="#b8304f" stroke-width="0.6" opacity="0.9"/>
<path d="M75.30 30.17 L73.59 33.21 L77.01 33.21 Z" fill="none" stroke="#b8304f" stroke-width="0.6" opacity="0.9"/>
<path d="M83.85 34.94 L82.14 37.98 L85.56 37.98 Z" fill="none" stroke="#b8304f" stroke-width="0.6" opacity="0.9"/>
<path d="M92.40 41.31 L90.69 44.35 L94.11 44.35 Z" fill="none" stroke="#b8304f" stroke-width="0.6" opacity="0.9"/>
<path d="M100.95 49.82 L99.24 52.86 L102.66 52.86 Z" fill="none" stroke="#b8304f" stroke-width="0.6" opacity="0.9"/>
<path d="M109.50 57.24 L107.79 60.28 L111.21 60.28 Z" fill="none" stroke="#b8304f" stroke-width="0.6" opacity="0.9"/>
<path d="M118.05 65.13 L116.34 68.17 L119.76 68.17 Z" fill="none" stroke="#b8304f" stroke-width="0.6" opacity="0.9"/>
<path d="M126.60 75.04 L124.89 78.08 L128.31 78.08 Z" fill="none" stroke="#b8304f" stroke-width="0.6" opacity="0.9"/>
<path d="M135.15 86.50 L133.44 89.54 L136.86 89.54 Z" fill="none" stroke="#b8304f" stroke-width="0.6" opacity="0.9"/>
<path d="M143.70 99.23 L141.99 102.27 L145.41 102.27 Z" fill="none" stroke="#b8304f" stroke-width="0.6" opacity="0.9"/>
<path d="M152.25 108.95 L150.54 111.99 L153.96 111.99 Z" fill="none" stroke="#b8304f" stroke-width="0.6" opacity="0.9"/>
<path d="M160.80 117.27 L159.09 120.31 L162.51 120.31 Z" fill="none" stroke="#b8304f" stroke-width="0.6" opacity="0.9"/>
<path d="M169.35 120.81 L167.64 123.85 L171.06 123.85 Z" fill="none" stroke="#b8304f" stroke-width="0.6" opacity="0.9"/>
<path d="M177.90 122.64 L176.19 125.68 L179.61 125.68 Z" fill="none" stroke="#b8304f" stroke-width="0.6" opacity="0.9"/>
<path d="M186.45 105.36 L184.74 108.40 L188.16 108.40 Z" fill="none" stroke="#b8304f" stroke-width="0.6" opacity="0.9"/>
<path d="M195.00 19.00 L193.29 22.04 L196.71 22.04 Z" fill="none" stroke="#b8304f" stroke-width="0.6" opacity="0.9"/>
</g>
<clipPath id="cb"><rect x="272.5" y="5.5" width="172.6" height="135"/></clipPath>
<g clip-path="url(#cb)">
<path d="M272.5 37.4 C282.08 37.43 317.08 37.73 330 37.6 C342.92 37.47 344.17 36.7 350 36.6 C355.83 36.5 361 36.67 365 37 C369 37.33 371.17 37.57 374 38.6 C376.83 39.63 379.52 41.3 382 43.2 C384.48 45.1 384.4 45.53 388.9 50 C393.4 54.47 403.03 63.33 409 70 C414.97 76.67 419.87 83.33 424.7 90 C429.53 96.67 435.12 105.5 438 110 C440.88 114.5 440.9 115.17 442 117 C443.1 118.83 444.02 120 444.6 121 C445.18 122 445.35 122.67 445.5 123" fill="none" stroke="#4DBEEE" stroke-width="1.55" stroke-linejoin="round" stroke-linecap="round" />
<path d="M272.5 34.7 C282.08 34.78 317.75 35.15 330 35.2 C342.25 35.25 341 34.77 346 35 C351 35.23 356 35.83 360 36.6 C364 37.37 367.17 38.33 370 39.6 C372.83 40.87 374.7 42.47 377 44.2 C379.3 45.93 379.08 45.7 383.8 50 C388.52 54.3 399.02 63.33 405.3 70 C411.58 76.67 416.42 83.33 421.5 90 C426.58 96.67 432.55 105.33 435.8 110 C439.05 114.67 439.55 115.83 441 118 C442.45 120.17 443.75 121.83 444.5 123 C445.25 124.17 445.33 124.67 445.5 125" fill="none" stroke="#77AC30" stroke-width="1.55" stroke-linejoin="round" stroke-linecap="round" />
<path d="M272.5 30.6 C282.08 30.73 317.92 30.9 330 31.4 C342.08 31.9 340.5 32.63 345 33.6 C349.5 34.57 353.5 35.83 357 37.2 C360.5 38.57 362.7 39.67 366 41.8 C369.3 43.93 370.97 45.3 376.8 50 C382.63 54.7 394.17 63.33 401 70 C407.83 76.67 412.4 83.33 417.8 90 C423.2 96.67 429.22 104.17 433.4 110 C437.58 115.83 440.97 121.83 442.9 125 C444.83 128.17 444.57 128.17 445 129 C445.43 129.83 445.42 129.83 445.5 130" fill="none" stroke="#7E2F8E" stroke-width="1.55" stroke-linejoin="round" stroke-linecap="round" />
<path d="M272.5 19.4 C276.33 19.63 288.42 19.87 295.5 20.8 C302.58 21.73 309.25 23.55 315 25 C320.75 26.45 325 27.6 330 29.5 C335 31.4 340.5 34.15 345 36.4 C349.5 38.65 353.08 40.73 357 43 C360.92 45.27 362.4 45.5 368.5 50 C374.6 54.5 386.18 63.33 393.6 70 C401.02 76.67 406.9 83.33 413 90 C419.1 96.67 425.58 104.17 430.2 110 C434.82 115.83 438.23 121 440.7 125 C443.17 129 444.2 132.33 445 134 C445.8 135.67 445.42 134.83 445.5 135" fill="none" stroke="#EDB120" stroke-width="1.55" stroke-linejoin="round" stroke-linecap="round" />
<path d="M272.5 7 C277.08 8.97 290.42 14.72 300 18.8 C309.58 22.88 322.5 28.13 330 31.5 C337.5 34.87 339.97 35.92 345 39 C350.03 42.08 353.08 44.83 360.2 50 C367.32 55.17 379.42 63.33 387.7 70 C395.98 76.67 403.12 83.33 409.9 90 C416.68 96.67 423.48 104.17 428.4 110 C433.32 115.83 436.75 120.33 439.4 125 C442.05 129.67 443.37 135.33 444.3 138 C445.23 140.67 444.88 140.5 445 141" fill="none" stroke="#D95319" stroke-width="1.55" stroke-linejoin="round" stroke-linecap="round" />
<path d="M272.5 10.8 C277.08 12.75 290.42 18.38 300 22.5 C309.58 26.62 323 32.25 330 35.5 C337 38.75 337.72 39.58 342 42 C346.28 44.42 348.43 45.33 355.7 50 C362.97 54.67 376.83 63.33 385.6 70 C394.37 76.67 401.42 83.33 408.3 90 C415.18 96.67 421.87 104.17 426.9 110 C431.93 115.83 435.82 120.33 438.5 125 C441.18 129.67 442.08 135.33 443 138 C443.92 140.67 443.83 140.5 444 141" fill="none" stroke="#0072BD" stroke-width="1.55" stroke-linejoin="round" stroke-linecap="round" />
</g>
<clipPath id="cbw"><rect x="269.5" y="3" width="178.0" height="140"/></clipPath>
<g clip-path="url(#cbw)">
<path d="M272.5 21.8 C276.97 24.35 292.07 32.63 299.3 37.1 C306.53 41.57 310.92 44.78 315.9 48.6 C320.88 52.42 324.75 56.3 329.2 60 C333.65 63.7 337.05 66.63 342.6 70.8 C348.15 74.97 356.27 80.72 362.5 85 C368.73 89.28 374.97 93.17 380 96.5 C385.03 99.83 388.45 102.33 392.7 105 C396.95 107.67 401.25 110.17 405.5 112.5 C409.75 114.83 414.28 117.15 418.2 119 C422.12 120.85 426.03 122.52 429 123.6 C431.97 124.68 433.4 125.93 436 125.5 C438.6 125.07 443.17 121.75 444.6 121" fill="none" stroke="#cc4466" stroke-width="0.7" stroke-linejoin="round" stroke-linecap="round" opacity="0.45"/>
<path d="M272.5 99.2 C275.27 98.08 281.87 94.32 289.1 92.5 C296.33 90.68 307.42 88.65 315.9 88.3 C324.38 87.95 332.65 88.95 340 90.4 C347.35 91.85 353.33 94.48 360 97 C366.67 99.52 374.55 103.08 380 105.5 C385.45 107.92 388.45 109.62 392.7 111.5 C396.95 113.38 401.25 115.27 405.5 116.8 C409.75 118.33 414.28 119.5 418.2 120.7 C422.12 121.9 426.03 123.2 429 124 C431.97 124.8 433.4 126 436 125.5 C438.6 125 443.17 121.75 444.6 121" fill="none" stroke="#cc4466" stroke-width="0.9" stroke-linejoin="round" stroke-linecap="round" opacity="0.85"/>
<path d="M272.5 59.3 C276.87 61.48 289.57 68.78 298.7 72.4 C307.83 76.02 320.42 78.9 327.3 81 C334.18 83.1 334.13 83 340 85 C345.87 87 355.83 90.25 362.5 93 C369.17 95.75 374.97 98.92 380 101.5 C385.03 104.08 388.45 106.25 392.7 108.5 C396.95 110.75 401.25 113.08 405.5 115 C409.75 116.92 414.28 118.53 418.2 120 C422.12 121.47 426.03 122.88 429 123.8 C431.97 124.72 433.4 125.97 436 125.5 C438.6 125.03 443.17 121.75 444.6 121" fill="none" stroke="#cc4466" stroke-width="0.9" stroke-linejoin="round" stroke-linecap="round" opacity="0.85" stroke-dasharray="3.4 2.4"/>
<path d="M272.5 12.5 C275.42 13.25 284.58 15.08 290 17 C295.42 18.92 300 21.33 305 24 C310 26.67 314.67 29.33 320 33 C325.33 36.67 331.42 41.5 337 46 C342.58 50.5 347.37 54.17 353.5 60 C359.63 65.83 369.38 76.3 373.8 81 C378.22 85.7 376.85 85.03 380 88.2 C383.15 91.37 388.45 96.37 392.7 100 C396.95 103.63 401.25 107 405.5 110 C409.75 113 414.28 115.78 418.2 118 C422.12 120.22 426.03 122.05 429 123.3 C431.97 124.55 433.4 125.88 436 125.5 C438.6 125.12 443.17 121.75 444.6 121" fill="none" stroke="#cc4466" stroke-width="0.8" stroke-linejoin="round" stroke-linecap="round" opacity="0.75" stroke-dasharray="3 1.2 0.8 1.2"/>
<path d="M272.5 9.1 L281.5 9.9 L290 11 L298.7 12.5 L307.3 15 L315.9 18.2 L324.5 22 L333.1 26.5 L341.7 31.6 L350.3 40.2 L358.9 51.8 L367 65.6 L376 80.3 L384.6 93.8 L393.3 103.9 L401.9 111.8 L410.9 117.4 L418.8 120.8 L427.8 123.5 L436 125.5 L444.6 121" fill="none" stroke="#b8304f" stroke-width="0.75" stroke-linejoin="round" stroke-linecap="round" opacity="0.85"/>
<path d="M272.5 8.7 L281.5 9.4 L290 10.2 L298.7 11.4 L307.3 13 L315.9 15.2 L324.5 17.6 L333.1 20.7 L341.7 25.3 L350.3 31.6 L358.9 40.2 L367 53.8 L376 69 L384.6 87 L393.3 100.5 L401.9 110.6 L410.9 116.8 L418.8 120.5 L427.8 123.3 L436 125.5 L444.6 121" fill="none" stroke="#b8304f" stroke-width="0.75" stroke-linejoin="round" stroke-linecap="round" opacity="0.85"/>
<circle cx="272.50" cy="9.10" r="1.6" fill="none" stroke="#b8304f" stroke-width="0.6" opacity="0.9"/>
<circle cx="281.10" cy="9.86" r="1.6" fill="none" stroke="#b8304f" stroke-width="0.6" opacity="0.9"/>
<circle cx="289.70" cy="10.96" r="1.6" fill="none" stroke="#b8304f" stroke-width="0.6" opacity="0.9"/>
<circle cx="298.30" cy="12.43" r="1.6" fill="none" stroke="#b8304f" stroke-width="0.6" opacity="0.9"/>
<circle cx="306.90" cy="14.88" r="1.6" fill="none" stroke="#b8304f" stroke-width="0.6" opacity="0.9"/>
<circle cx="315.50" cy="18.05" r="1.6" fill="none" stroke="#b8304f" stroke-width="0.6" opacity="0.9"/>
<circle cx="324.10" cy="21.82" r="1.6" fill="none" stroke="#b8304f" stroke-width="0.6" opacity="0.9"/>
<circle cx="332.70" cy="26.29" r="1.6" fill="none" stroke="#b8304f" stroke-width="0.6" opacity="0.9"/>
<circle cx="341.30" cy="31.36" r="1.6" fill="none" stroke="#b8304f" stroke-width="0.6" opacity="0.9"/>
<circle cx="349.90" cy="39.80" r="1.6" fill="none" stroke="#b8304f" stroke-width="0.6" opacity="0.9"/>
<circle cx="358.50" cy="51.26" r="1.6" fill="none" stroke="#b8304f" stroke-width="0.6" opacity="0.9"/>
<circle cx="367.10" cy="65.76" r="1.6" fill="none" stroke="#b8304f" stroke-width="0.6" opacity="0.9"/>
<circle cx="375.70" cy="79.81" r="1.6" fill="none" stroke="#b8304f" stroke-width="0.6" opacity="0.9"/>
<circle cx="384.30" cy="93.33" r="1.6" fill="none" stroke="#b8304f" stroke-width="0.6" opacity="0.9"/>
<circle cx="392.90" cy="103.44" r="1.6" fill="none" stroke="#b8304f" stroke-width="0.6" opacity="0.9"/>
<circle cx="401.50" cy="111.43" r="1.6" fill="none" stroke="#b8304f" stroke-width="0.6" opacity="0.9"/>
<circle cx="410.10" cy="116.90" r="1.6" fill="none" stroke="#b8304f" stroke-width="0.6" opacity="0.9"/>
<circle cx="418.70" cy="120.76" r="1.6" fill="none" stroke="#b8304f" stroke-width="0.6" opacity="0.9"/>
<circle cx="427.30" cy="123.35" r="1.6" fill="none" stroke="#b8304f" stroke-width="0.6" opacity="0.9"/>
<circle cx="435.90" cy="125.48" r="1.6" fill="none" stroke="#b8304f" stroke-width="0.6" opacity="0.9"/>
<circle cx="444.50" cy="121.05" r="1.6" fill="none" stroke="#b8304f" stroke-width="0.6" opacity="0.9"/>
<path d="M272.50 6.80 L270.79 9.84 L274.21 9.84 Z" fill="none" stroke="#b8304f" stroke-width="0.6" opacity="0.9"/>
<path d="M281.10 7.47 L279.39 10.51 L282.81 10.51 Z" fill="none" stroke="#b8304f" stroke-width="0.6" opacity="0.9"/>
<path d="M289.70 8.27 L287.99 11.31 L291.41 11.31 Z" fill="none" stroke="#b8304f" stroke-width="0.6" opacity="0.9"/>
<path d="M298.30 9.44 L296.59 12.48 L300.01 12.48 Z" fill="none" stroke="#b8304f" stroke-width="0.6" opacity="0.9"/>
<path d="M306.90 11.03 L305.19 14.07 L308.61 14.07 Z" fill="none" stroke="#b8304f" stroke-width="0.6" opacity="0.9"/>
<path d="M315.50 13.20 L313.79 16.24 L317.21 16.24 Z" fill="none" stroke="#b8304f" stroke-width="0.6" opacity="0.9"/>
<path d="M324.10 15.59 L322.39 18.63 L325.81 18.63 Z" fill="none" stroke="#b8304f" stroke-width="0.6" opacity="0.9"/>
<path d="M332.70 18.66 L330.99 21.70 L334.41 21.70 Z" fill="none" stroke="#b8304f" stroke-width="0.6" opacity="0.9"/>
<path d="M341.30 23.19 L339.59 26.23 L343.01 26.23 Z" fill="none" stroke="#b8304f" stroke-width="0.6" opacity="0.9"/>
<path d="M349.90 29.41 L348.19 32.45 L351.61 32.45 Z" fill="none" stroke="#b8304f" stroke-width="0.6" opacity="0.9"/>
<path d="M358.50 37.90 L356.79 40.94 L360.21 40.94 Z" fill="none" stroke="#b8304f" stroke-width="0.6" opacity="0.9"/>
<path d="M367.10 52.07 L365.39 55.11 L368.81 55.11 Z" fill="none" stroke="#b8304f" stroke-width="0.6" opacity="0.9"/>
<path d="M375.70 66.59 L373.99 69.63 L377.41 69.63 Z" fill="none" stroke="#b8304f" stroke-width="0.6" opacity="0.9"/>
<path d="M384.30 84.47 L382.59 87.51 L386.01 87.51 Z" fill="none" stroke="#b8304f" stroke-width="0.6" opacity="0.9"/>
<path d="M392.90 97.98 L391.19 101.02 L394.61 101.02 Z" fill="none" stroke="#b8304f" stroke-width="0.6" opacity="0.9"/>
<path d="M401.50 108.23 L399.79 111.27 L403.21 111.27 Z" fill="none" stroke="#b8304f" stroke-width="0.6" opacity="0.9"/>
<path d="M410.10 114.35 L408.39 117.39 L411.81 117.39 Z" fill="none" stroke="#b8304f" stroke-width="0.6" opacity="0.9"/>
<path d="M418.70 118.55 L416.99 121.59 L420.41 121.59 Z" fill="none" stroke="#b8304f" stroke-width="0.6" opacity="0.9"/>
<path d="M427.30 121.24 L425.59 124.28 L429.01 124.28 Z" fill="none" stroke="#b8304f" stroke-width="0.6" opacity="0.9"/>
<path d="M435.90 123.57 L434.19 126.61 L437.61 126.61 Z" fill="none" stroke="#b8304f" stroke-width="0.6" opacity="0.9"/>
<path d="M444.50 119.15 L442.79 122.19 L446.21 122.19 Z" fill="none" stroke="#b8304f" stroke-width="0.6" opacity="0.9"/>
</g>
<clipPath id="cc"><rect x="25" y="190.0" width="170.6" height="135.0"/></clipPath>
<g clip-path="url(#cc)">
<path d="M25 265.7 C30.83 265.77 48.33 265.63 60 266.1 C71.67 266.57 86.33 267.63 95 268.5 C103.67 269.37 106.65 270.25 112 271.3 C117.35 272.35 121.4 273.05 127.1 274.8 C132.8 276.55 139.83 279.43 146.2 281.8 C152.57 284.17 160.2 286.92 165.3 289 C170.4 291.08 173.35 292.83 176.8 294.3 C180.25 295.77 182.88 296.8 186 297.8 C189.12 298.8 193.92 299.88 195.5 300.3" fill="none" stroke="#0072BD" stroke-width="1.55" stroke-linejoin="round" stroke-linecap="round" />
<path d="M25 210.8 C27.5 210.82 34.17 210.88 40 210.9 C45.83 210.92 53.33 210.55 60 210.9 C66.67 211.25 72.5 211.88 80 213 C87.5 214.12 99.67 216.37 105 217.6 C110.33 218.83 108.67 219.08 112 220.4 C115.33 221.72 121.33 223.9 125 225.5 C128.67 227.1 131.1 228.62 134 230 C136.9 231.38 139.08 231.27 142.4 233.8 C145.72 236.33 150.72 241.5 153.9 245.2 C157.08 248.9 158.48 251.6 161.5 256 C164.52 260.4 169.58 267.93 172 271.6 C174.42 275.27 174.5 274.93 176 278 C177.5 281.07 179.3 286 181 290 C182.7 294 185.03 299.67 186.2 302 C187.37 304.33 186.45 303.4 188 304 C189.55 304.6 194.25 305.33 195.5 305.6" fill="none" stroke="#4DBEEE" stroke-width="1.55" stroke-linejoin="round" stroke-linecap="round" />
<path d="M25 208.9 C27.5 208.88 34.17 208.75 40 208.8 C45.83 208.85 53.33 208.63 60 209.2 C66.67 209.77 72.5 210.65 80 212.2 C87.5 213.75 99.67 216.97 105 218.5 C110.33 220.03 107.88 219.48 112 221.4 C116.12 223.32 125.03 227.82 129.7 230 C134.37 232.18 136.13 231.67 140 234.5 C143.87 237.33 149.57 243.18 152.9 247 C156.23 250.82 156.82 252.93 160 257.4 C163.18 261.87 169.33 269.77 172 273.8 C174.67 277.83 174.5 278.23 176 281.6 C177.5 284.97 179.3 289.8 181 294 C182.7 298.2 185.03 304.47 186.2 306.8 C187.37 309.13 186.45 307.72 188 308 C189.55 308.28 194.25 308.42 195.5 308.5" fill="none" stroke="#77AC30" stroke-width="1.55" stroke-linejoin="round" stroke-linecap="round" />
<path d="M25 204.7 C27.5 204.82 34.17 205 40 205.4 C45.83 205.8 53.33 206.25 60 207.1 C66.67 207.95 72.5 208.42 80 210.5 C87.5 212.58 99.67 217.38 105 219.6 C110.33 221.82 109.03 222.07 112 223.8 C114.97 225.53 118.97 227.63 122.8 230 C126.63 232.37 132.13 236.33 135 238 C137.87 239.67 137.65 238 140 240 C142.35 242 145.77 246.37 149.1 250 C152.43 253.63 156.18 257.1 160 261.8 C163.82 266.5 169.33 274.3 172 278.2 C174.67 282.1 174.5 281.9 176 285.2 C177.5 288.5 179.3 293.7 181 298 C182.7 302.3 185.03 308.67 186.2 311 C187.37 313.33 186.45 311.77 188 312 C189.55 312.23 194.25 312.33 195.5 312.4" fill="none" stroke="#7E2F8E" stroke-width="1.55" stroke-linejoin="round" stroke-linecap="round" />
<path d="M25 195.6 C27.5 196.17 34.17 197.22 40 199 C45.83 200.78 53.33 204.03 60 206.3 C66.67 208.57 72.5 209.32 80 212.6 C87.5 215.88 99.28 223.1 105 226 C110.72 228.9 110.62 228.25 114.3 230 C117.98 231.75 122.82 233.83 127.1 236.5 C131.38 239.17 136.33 242.75 140 246 C143.67 249.25 145.77 252.55 149.1 256 C152.43 259.45 156.18 262.28 160 266.7 C163.82 271.12 169.33 278.62 172 282.5 C174.67 286.38 174.5 286.58 176 290 C177.5 293.42 179.4 298.8 181 303 C182.6 307.2 184.43 312.87 185.6 315.2 C186.77 317.53 186.35 316.6 188 317 C189.65 317.4 194.25 317.5 195.5 317.6" fill="none" stroke="#EDB120" stroke-width="1.55" stroke-linejoin="round" stroke-linecap="round" />
<path d="M25 190.8 C27.5 191.82 34.17 194.47 40 196.9 C45.83 199.33 53.33 202.35 60 205.4 C66.67 208.45 72.5 211.35 80 215.2 C87.5 219.05 99.67 225.72 105 228.5 C110.33 231.28 108.32 229.98 112 231.9 C115.68 233.82 122.52 236.9 127.1 240 C131.68 243.1 136.47 247.83 139.5 250.5 C142.53 253.17 141.88 252.67 145.3 256 C148.72 259.33 155.55 265.45 160 270.5 C164.45 275.55 169.33 282.45 172 286.3 C174.67 290.15 174.5 290.32 176 293.6 C177.5 296.88 179.3 301.7 181 306 C182.7 310.3 185.03 317.07 186.2 319.4 C187.37 321.73 186.45 319.85 188 320 C189.55 320.15 194.25 320.25 195.5 320.3" fill="none" stroke="#D95319" stroke-width="1.55" stroke-linejoin="round" stroke-linecap="round" />
</g>
<clipPath id="ccw"><rect x="22" y="187.5" width="176" height="140.0"/></clipPath>
<g clip-path="url(#ccw)">
<path d="M25 221 C28.33 223 37.5 228.33 45 233 C52.5 237.67 62.5 244.33 70 249 C77.5 253.67 83 256.22 90 261 C97 265.78 105.33 272.87 112 277.7 C118.67 282.53 123.67 285.45 130 290 C136.33 294.55 144.17 300.5 150 305 C155.83 309.5 160.67 314.07 165 317 C169.33 319.93 174.17 321.67 176 322.6" fill="none" stroke="#cc4466" stroke-width="0.7" stroke-linejoin="round" stroke-linecap="round" opacity="0.45"/>
<path d="M25 192.5 C28.53 192.82 37.37 193.05 46.2 194.4 C55.03 195.75 67.37 197.8 78 200.6 C88.63 203.4 102.17 208.02 110 211.2 C117.83 214.38 120.83 216.9 125 219.7 C129.17 222.5 131.5 225.37 135 228 C138.5 230.63 141.83 234.33 146 235.5 C150.17 236.67 155.17 236.25 160 235 C164.83 233.75 170.33 230.67 175 228 C179.67 225.33 184.62 221.58 188 219 C191.38 216.42 194.08 213.58 195.3 212.5" fill="none" stroke="#cc4466" stroke-width="0.9" stroke-linejoin="round" stroke-linecap="round" opacity="0.85"/>
<path d="M25 256.7 C29.28 257.97 41.65 261.75 50.7 264.3 C59.75 266.85 71.08 269.55 79.3 272 C87.52 274.45 94.55 277.1 100 279 C105.45 280.9 107 281.07 112 283.4 C117 285.73 123.67 289.23 130 293 C136.33 296.77 144.17 302 150 306 C155.83 310 160.67 314.23 165 317 C169.33 319.77 174.17 321.67 176 322.6" fill="none" stroke="#cc4466" stroke-width="0.9" stroke-linejoin="round" stroke-linecap="round" opacity="0.85" stroke-dasharray="3.4 2.4"/>
<path d="M25 210 C28.5 211.62 38.92 215.95 46 219.7 C53.08 223.45 60.38 228.25 67.5 232.5 C74.62 236.75 81.62 240.25 88.7 245.2 C95.78 250.15 103.95 257.07 110 262.2 C116.05 267.33 119.17 270.53 125 276 C130.83 281.47 139.17 289.33 145 295 C150.83 300.67 154.83 305.4 160 310 C165.17 314.6 173.33 320.5 176 322.6" fill="none" stroke="#cc4466" stroke-width="0.8" stroke-linejoin="round" stroke-linecap="round" opacity="0.75" stroke-dasharray="3 1.2 0.8 1.2"/>
<path d="M25 198.6 L33.5 201.3 L42.1 205.5 L50.7 209.9 L58.3 214.7 L66.9 219.1 L75.5 225 L84.1 231.7 L92.7 239.5 L101.3 247.5 L109.9 256.7 L118.5 267.2 L127.1 277.7 L135.7 289.2 L144.3 301.2 L152.9 311.2 L161.5 317.8 L169.5 322.2 L176 322.6 L186.3 309.2 L195.3 206.5" fill="none" stroke="#b8304f" stroke-width="0.75" stroke-linejoin="round" stroke-linecap="round" opacity="0.85"/>
<path d="M25 198.5 L33.5 201 L42.1 203.8 L50.7 205.5 L58.3 208.9 L66.9 213.2 L75.5 218.5 L84.1 225.2 L92.7 231.9 L101.3 239.5 L109.9 248.1 L118.5 257.6 L127.1 269.1 L135.7 282.5 L144.3 296.8 L152.9 309.2 L161.5 316.9 L169.5 321.5 L176 322.6" fill="none" stroke="#b8304f" stroke-width="0.75" stroke-linejoin="round" stroke-linecap="round" opacity="0.85"/>
<circle cx="25.00" cy="198.60" r="1.6" fill="none" stroke="#b8304f" stroke-width="0.6" opacity="0.9"/>
<circle cx="33.50" cy="201.30" r="1.6" fill="none" stroke="#b8304f" stroke-width="0.6" opacity="0.9"/>
<circle cx="42.00" cy="205.45" r="1.6" fill="none" stroke="#b8304f" stroke-width="0.6" opacity="0.9"/>
<circle cx="50.50" cy="209.80" r="1.6" fill="none" stroke="#b8304f" stroke-width="0.6" opacity="0.9"/>
<circle cx="59.00" cy="215.06" r="1.6" fill="none" stroke="#b8304f" stroke-width="0.6" opacity="0.9"/>
<circle cx="67.50" cy="219.51" r="1.6" fill="none" stroke="#b8304f" stroke-width="0.6" opacity="0.9"/>
<circle cx="76.00" cy="225.39" r="1.6" fill="none" stroke="#b8304f" stroke-width="0.6" opacity="0.9"/>
<circle cx="84.50" cy="232.06" r="1.6" fill="none" stroke="#b8304f" stroke-width="0.6" opacity="0.9"/>
<circle cx="93.00" cy="239.78" r="1.6" fill="none" stroke="#b8304f" stroke-width="0.6" opacity="0.9"/>
<circle cx="101.50" cy="247.71" r="1.6" fill="none" stroke="#b8304f" stroke-width="0.6" opacity="0.9"/>
<circle cx="110.00" cy="256.82" r="1.6" fill="none" stroke="#b8304f" stroke-width="0.6" opacity="0.9"/>
<circle cx="118.50" cy="267.20" r="1.6" fill="none" stroke="#b8304f" stroke-width="0.6" opacity="0.9"/>
<circle cx="127.00" cy="277.58" r="1.6" fill="none" stroke="#b8304f" stroke-width="0.6" opacity="0.9"/>
<circle cx="135.50" cy="288.93" r="1.6" fill="none" stroke="#b8304f" stroke-width="0.6" opacity="0.9"/>
<circle cx="144.00" cy="300.78" r="1.6" fill="none" stroke="#b8304f" stroke-width="0.6" opacity="0.9"/>
<circle cx="152.50" cy="310.73" r="1.6" fill="none" stroke="#b8304f" stroke-width="0.6" opacity="0.9"/>
<circle cx="161.00" cy="317.42" r="1.6" fill="none" stroke="#b8304f" stroke-width="0.6" opacity="0.9"/>
<circle cx="169.50" cy="322.20" r="1.6" fill="none" stroke="#b8304f" stroke-width="0.6" opacity="0.9"/>
<circle cx="178.00" cy="320.00" r="1.6" fill="none" stroke="#b8304f" stroke-width="0.6" opacity="0.9"/>
<circle cx="186.50" cy="306.92" r="1.6" fill="none" stroke="#b8304f" stroke-width="0.6" opacity="0.9"/>
<circle cx="195.00" cy="209.92" r="1.6" fill="none" stroke="#b8304f" stroke-width="0.6" opacity="0.9"/>
<path d="M25.00 196.60 L23.29 199.64 L26.71 199.64 Z" fill="none" stroke="#b8304f" stroke-width="0.6" opacity="0.9"/>
<path d="M33.50 199.10 L31.79 202.14 L35.21 202.14 Z" fill="none" stroke="#b8304f" stroke-width="0.6" opacity="0.9"/>
<path d="M42.00 201.87 L40.29 204.91 L43.71 204.91 Z" fill="none" stroke="#b8304f" stroke-width="0.6" opacity="0.9"/>
<path d="M50.50 203.56 L48.79 206.60 L52.21 206.60 Z" fill="none" stroke="#b8304f" stroke-width="0.6" opacity="0.9"/>
<path d="M59.00 207.35 L57.29 210.39 L60.71 210.39 Z" fill="none" stroke="#b8304f" stroke-width="0.6" opacity="0.9"/>
<path d="M67.50 211.67 L65.79 214.71 L69.21 214.71 Z" fill="none" stroke="#b8304f" stroke-width="0.6" opacity="0.9"/>
<path d="M76.00 216.99 L74.29 220.03 L77.71 220.03 Z" fill="none" stroke="#b8304f" stroke-width="0.6" opacity="0.9"/>
<path d="M84.50 223.61 L82.79 226.65 L86.21 226.65 Z" fill="none" stroke="#b8304f" stroke-width="0.6" opacity="0.9"/>
<path d="M93.00 230.27 L91.29 233.31 L94.71 233.31 Z" fill="none" stroke="#b8304f" stroke-width="0.6" opacity="0.9"/>
<path d="M101.50 237.80 L99.79 240.84 L103.21 240.84 Z" fill="none" stroke="#b8304f" stroke-width="0.6" opacity="0.9"/>
<path d="M110.00 246.31 L108.29 249.35 L111.71 249.35 Z" fill="none" stroke="#b8304f" stroke-width="0.6" opacity="0.9"/>
<path d="M118.50 255.70 L116.79 258.74 L120.21 258.74 Z" fill="none" stroke="#b8304f" stroke-width="0.6" opacity="0.9"/>
<path d="M127.00 267.07 L125.29 270.11 L128.71 270.11 Z" fill="none" stroke="#b8304f" stroke-width="0.6" opacity="0.9"/>
<path d="M135.50 280.29 L133.79 283.33 L137.21 283.33 Z" fill="none" stroke="#b8304f" stroke-width="0.6" opacity="0.9"/>
<path d="M144.00 294.40 L142.29 297.44 L145.71 297.44 Z" fill="none" stroke="#b8304f" stroke-width="0.6" opacity="0.9"/>
<path d="M152.50 306.72 L150.79 309.76 L154.21 309.76 Z" fill="none" stroke="#b8304f" stroke-width="0.6" opacity="0.9"/>
<path d="M161.00 314.55 L159.29 317.59 L162.71 317.59 Z" fill="none" stroke="#b8304f" stroke-width="0.6" opacity="0.9"/>
<path d="M169.50 319.60 L167.79 322.64 L171.21 322.64 Z" fill="none" stroke="#b8304f" stroke-width="0.6" opacity="0.9"/>
<path d="M178.00 318.10 L176.29 321.14 L179.71 321.14 Z" fill="none" stroke="#b8304f" stroke-width="0.6" opacity="0.9"/>
<path d="M186.50 305.02 L184.79 308.06 L188.21 308.06 Z" fill="none" stroke="#b8304f" stroke-width="0.6" opacity="0.9"/>
<path d="M195.00 208.02 L193.29 211.06 L196.71 211.06 Z" fill="none" stroke="#b8304f" stroke-width="0.6" opacity="0.9"/>
</g>
<clipPath id="cd"><rect x="274.5" y="190.5" width="170.6" height="134.5"/></clipPath>
<g clip-path="url(#cd)">
<path d="M274.5 219.5 C285.42 219.47 326.25 219.42 340 219.3 C353.75 219.18 351.62 218.7 357 218.8 C362.38 218.9 367.2 218.43 372.3 219.9 C377.4 221.37 384.32 225.6 387.6 227.6 C390.88 229.6 389.27 229.45 392 231.9 C394.73 234.35 399.33 237.85 404 242.3 C408.67 246.75 415.33 253.4 420 258.6 C424.67 263.8 429 269.27 432 273.5 C435 277.73 435.92 280.08 438 284 C440.08 287.92 443.17 294.33 444.5 297 C445.83 299.67 445.75 299.5 446 300" fill="none" stroke="#4DBEEE" stroke-width="1.55" stroke-linejoin="round" stroke-linecap="round" />
<path d="M274.5 217.6 C285.42 217.67 326.25 217.8 340 218 C353.75 218.2 351.93 218.3 357 218.8 C362.07 219.3 365.62 219.05 370.4 221 C375.18 222.95 382.1 228.05 385.7 230.5 C389.3 232.95 388.95 233.02 392 235.7 C395.05 238.38 399.33 242.23 404 246.6 C408.67 250.97 415.33 256.83 420 261.9 C424.67 266.97 429 272.82 432 277 C435 281.18 435.92 283.33 438 287 C440.08 290.67 443.17 296.5 444.5 299 C445.83 301.5 445.75 301.5 446 302" fill="none" stroke="#77AC30" stroke-width="1.55" stroke-linejoin="round" stroke-linecap="round" />
<path d="M274.5 213.2 C285.55 213.47 327.05 213.75 340.8 214.8 C354.55 215.85 352.38 217.97 357 219.5 C361.62 221.03 364.03 221.5 368.5 224 C372.97 226.5 379.88 231.73 383.8 234.5 C387.72 237.27 388.63 237.85 392 240.6 C395.37 243.35 399.33 246.72 404 251 C408.67 255.28 415.33 261.38 420 266.3 C424.67 271.22 429 276.55 432 280.5 C435 284.45 435.92 286.5 438 290 C440.08 293.5 443.17 299.17 444.5 301.5 C445.83 303.83 445.75 303.58 446 304" fill="none" stroke="#7E2F8E" stroke-width="1.55" stroke-linejoin="round" stroke-linecap="round" />
<path d="M274.5 202.9 C280.45 203.45 299.47 204.22 310.2 206.2 C320.93 208.18 331.1 211.62 338.9 214.8 C346.7 217.98 350.8 221.77 357 225.3 C363.2 228.83 370.27 232.45 376.1 236 C381.93 239.55 387.35 243.1 392 246.6 C396.65 250.1 399.33 252.9 404 257 C408.67 261.1 415.33 266.53 420 271.2 C424.67 275.87 429 281.03 432 285 C435 288.97 435.92 291.67 438 295 C440.08 298.33 443.17 302.83 444.5 305 C445.83 307.17 445.75 307.5 446 308" fill="none" stroke="#EDB120" stroke-width="1.55" stroke-linejoin="round" stroke-linecap="round" />
<path d="M274.5 191.8 C278.75 193.83 290.75 199.55 300 204 C309.25 208.45 320.5 214.32 330 218.5 C339.5 222.68 349.32 225.52 357 229.1 C364.68 232.68 370.67 236.52 376.1 240 C381.53 243.48 384.95 246.5 389.6 250 C394.25 253.5 398.98 256.83 404 261 C409.02 265.17 415.03 270.58 419.7 275 C424.37 279.42 428.95 283.83 432 287.5 C435.05 291.17 435.92 293.75 438 297 C440.08 300.25 443.17 304.83 444.5 307 C445.83 309.17 445.75 309.5 446 310" fill="none" stroke="#D95319" stroke-width="1.55" stroke-linejoin="round" stroke-linecap="round" />
<path d="M274.5 194.7 C278.75 196.58 290.75 201.7 300 206 C309.25 210.3 320.5 216.43 330 220.5 C339.5 224.57 349.32 226.85 357 230.4 C364.68 233.95 371.03 238.53 376.1 241.8 C381.17 245.07 382.75 246.55 387.4 250 C392.05 253.45 398.83 258.33 404 262.5 C409.17 266.67 413.73 270.5 418.4 275 C423.07 279.5 428.73 285.5 432 289.5 C435.27 293.5 435.92 295.75 438 299 C440.08 302.25 443.17 306.83 444.5 309 C445.83 311.17 445.75 311.5 446 312" fill="none" stroke="#0072BD" stroke-width="1.55" stroke-linejoin="round" stroke-linecap="round" />
</g>
<clipPath id="cdw"><rect x="271.5" y="188" width="176.0" height="139.5"/></clipPath>
<g clip-path="url(#cdw)">
<path d="M274.5 207.1 C278.75 209.53 291.5 216.73 300 221.7 C308.5 226.67 317 231.38 325.5 236.9 C334 242.42 342.52 248.22 351 254.8 C359.48 261.38 368.33 270.03 376.4 276.4 C384.47 282.77 392.47 288.48 399.4 293 C406.33 297.52 411.85 300.7 418 303.5 C424.15 306.3 431.82 309.38 436.3 309.8 C440.78 310.22 443.47 306.63 444.9 306" fill="none" stroke="#cc4466" stroke-width="0.7" stroke-linejoin="round" stroke-linecap="round" opacity="0.45"/>
<path d="M274.5 283.4 C277.9 282.13 287.35 277.55 294.9 275.8 C302.45 274.05 312.15 273.1 319.8 272.9 C327.45 272.7 333.77 273.17 340.8 274.6 C347.83 276.03 356.07 279.5 362 281.5 C367.93 283.5 370.17 284.27 376.4 286.6 C382.63 288.93 392.47 292.52 399.4 295.5 C406.33 298.48 411.85 302.12 418 304.5 C424.15 306.88 431.82 309.55 436.3 309.8 C440.78 310.05 443.47 306.63 444.9 306" fill="none" stroke="#cc4466" stroke-width="0.9" stroke-linejoin="round" stroke-linecap="round" opacity="0.85"/>
<path d="M274.5 244.4 C278.75 245.92 291.5 250.5 300 253.5 C308.5 256.5 317 259.22 325.5 262.4 C334 265.58 342.52 269 351 272.6 C359.48 276.2 368.33 280.38 376.4 284 C384.47 287.62 392.47 290.97 399.4 294.3 C406.33 297.63 411.85 301.42 418 304 C424.15 306.58 431.82 309.47 436.3 309.8 C440.78 310.13 443.47 306.63 444.9 306" fill="none" stroke="#cc4466" stroke-width="0.9" stroke-linejoin="round" stroke-linecap="round" opacity="0.85" stroke-dasharray="3.4 2.4"/>
<path d="M274.5 196 C278.75 197.25 293.25 201.25 300 203.5 C306.75 205.75 310.33 207.12 315 209.5 C319.67 211.88 323.7 214.72 328 217.8 C332.3 220.88 336.13 223.32 340.8 228 C345.47 232.68 350.92 239.53 356 245.9 C361.08 252.27 366.2 259.85 371.3 266.2 C376.4 272.55 381.82 279.37 386.6 284 C391.38 288.63 394.77 290.75 400 294 C405.23 297.25 411.95 300.87 418 303.5 C424.05 306.13 431.82 309.38 436.3 309.8 C440.78 310.22 443.47 306.63 444.9 306" fill="none" stroke="#cc4466" stroke-width="0.8" stroke-linejoin="round" stroke-linecap="round" opacity="0.75" stroke-dasharray="3 1.2 0.8 1.2"/>
<path d="M274.5 193.7 L291.1 195.8 L308.3 199.5 L316.9 202.3 L325.5 206.4 L334.4 211.5 L342 217.8 L351 225.5 L359.9 236.9 L367.5 250 L376.1 265.3 L385.3 278.3 L393.3 288 L401.9 295.5 L410.5 301.2 L419.1 305.8 L427.7 308.3 L436.3 309.8 L444.9 306" fill="none" stroke="#b8304f" stroke-width="0.75" stroke-linejoin="round" stroke-linecap="round" opacity="0.85"/>
<path d="M274.5 193.5 L291.1 195.6 L308.3 198.5 L316.9 200 L325.5 202.5 L333.1 205.1 L342 210.2 L351 216.6 L359.9 225.5 L367.5 238.2 L376.4 253.5 L385.4 271.5 L393.3 284.4 L401.9 294.9 L410.5 301 L419.1 305.5 L427.7 308.2 L436.3 309.8 L444.9 306" fill="none" stroke="#b8304f" stroke-width="0.75" stroke-linejoin="round" stroke-linecap="round" opacity="0.85"/>
<circle cx="274.50" cy="193.70" r="1.6" fill="none" stroke="#b8304f" stroke-width="0.6" opacity="0.9"/>
<circle cx="283.00" cy="194.78" r="1.6" fill="none" stroke="#b8304f" stroke-width="0.6" opacity="0.9"/>
<circle cx="291.50" cy="195.89" r="1.6" fill="none" stroke="#b8304f" stroke-width="0.6" opacity="0.9"/>
<circle cx="300.00" cy="197.71" r="1.6" fill="none" stroke="#b8304f" stroke-width="0.6" opacity="0.9"/>
<circle cx="308.50" cy="199.57" r="1.6" fill="none" stroke="#b8304f" stroke-width="0.6" opacity="0.9"/>
<circle cx="317.00" cy="202.35" r="1.6" fill="none" stroke="#b8304f" stroke-width="0.6" opacity="0.9"/>
<circle cx="325.50" cy="206.40" r="1.6" fill="none" stroke="#b8304f" stroke-width="0.6" opacity="0.9"/>
<circle cx="334.00" cy="211.27" r="1.6" fill="none" stroke="#b8304f" stroke-width="0.6" opacity="0.9"/>
<circle cx="342.50" cy="218.23" r="1.6" fill="none" stroke="#b8304f" stroke-width="0.6" opacity="0.9"/>
<circle cx="351.00" cy="225.50" r="1.6" fill="none" stroke="#b8304f" stroke-width="0.6" opacity="0.9"/>
<circle cx="359.50" cy="236.39" r="1.6" fill="none" stroke="#b8304f" stroke-width="0.6" opacity="0.9"/>
<circle cx="368.00" cy="250.89" r="1.6" fill="none" stroke="#b8304f" stroke-width="0.6" opacity="0.9"/>
<circle cx="376.50" cy="265.87" r="1.6" fill="none" stroke="#b8304f" stroke-width="0.6" opacity="0.9"/>
<circle cx="385.00" cy="277.88" r="1.6" fill="none" stroke="#b8304f" stroke-width="0.6" opacity="0.9"/>
<circle cx="393.50" cy="288.17" r="1.6" fill="none" stroke="#b8304f" stroke-width="0.6" opacity="0.9"/>
<circle cx="402.00" cy="295.57" r="1.6" fill="none" stroke="#b8304f" stroke-width="0.6" opacity="0.9"/>
<circle cx="410.50" cy="301.20" r="1.6" fill="none" stroke="#b8304f" stroke-width="0.6" opacity="0.9"/>
<circle cx="419.00" cy="305.75" r="1.6" fill="none" stroke="#b8304f" stroke-width="0.6" opacity="0.9"/>
<circle cx="427.50" cy="308.24" r="1.6" fill="none" stroke="#b8304f" stroke-width="0.6" opacity="0.9"/>
<circle cx="436.00" cy="309.75" r="1.6" fill="none" stroke="#b8304f" stroke-width="0.6" opacity="0.9"/>
<circle cx="444.50" cy="306.18" r="1.6" fill="none" stroke="#b8304f" stroke-width="0.6" opacity="0.9"/>
<path d="M274.50 191.60 L272.79 194.64 L276.21 194.64 Z" fill="none" stroke="#b8304f" stroke-width="0.6" opacity="0.9"/>
<path d="M283.00 192.68 L281.29 195.72 L284.71 195.72 Z" fill="none" stroke="#b8304f" stroke-width="0.6" opacity="0.9"/>
<path d="M291.50 193.77 L289.79 196.81 L293.21 196.81 Z" fill="none" stroke="#b8304f" stroke-width="0.6" opacity="0.9"/>
<path d="M300.00 195.20 L298.29 198.24 L301.71 198.24 Z" fill="none" stroke="#b8304f" stroke-width="0.6" opacity="0.9"/>
<path d="M308.50 196.63 L306.79 199.67 L310.21 199.67 Z" fill="none" stroke="#b8304f" stroke-width="0.6" opacity="0.9"/>
<path d="M317.00 198.13 L315.29 201.17 L318.71 201.17 Z" fill="none" stroke="#b8304f" stroke-width="0.6" opacity="0.9"/>
<path d="M325.50 200.60 L323.79 203.64 L327.21 203.64 Z" fill="none" stroke="#b8304f" stroke-width="0.6" opacity="0.9"/>
<path d="M334.00 203.72 L332.29 206.76 L335.71 206.76 Z" fill="none" stroke="#b8304f" stroke-width="0.6" opacity="0.9"/>
<path d="M342.50 208.66 L340.79 211.70 L344.21 211.70 Z" fill="none" stroke="#b8304f" stroke-width="0.6" opacity="0.9"/>
<path d="M351.00 214.70 L349.29 217.74 L352.71 217.74 Z" fill="none" stroke="#b8304f" stroke-width="0.6" opacity="0.9"/>
<path d="M359.50 223.20 L357.79 226.24 L361.21 226.24 Z" fill="none" stroke="#b8304f" stroke-width="0.6" opacity="0.9"/>
<path d="M368.00 237.16 L366.29 240.20 L369.71 240.20 Z" fill="none" stroke="#b8304f" stroke-width="0.6" opacity="0.9"/>
<path d="M376.50 251.80 L374.79 254.84 L378.21 254.84 Z" fill="none" stroke="#b8304f" stroke-width="0.6" opacity="0.9"/>
<path d="M385.00 268.80 L383.29 271.84 L386.71 271.84 Z" fill="none" stroke="#b8304f" stroke-width="0.6" opacity="0.9"/>
<path d="M393.50 282.74 L391.79 285.78 L395.21 285.78 Z" fill="none" stroke="#b8304f" stroke-width="0.6" opacity="0.9"/>
<path d="M402.00 293.07 L400.29 296.11 L403.71 296.11 Z" fill="none" stroke="#b8304f" stroke-width="0.6" opacity="0.9"/>
<path d="M410.50 299.10 L408.79 302.14 L412.21 302.14 Z" fill="none" stroke="#b8304f" stroke-width="0.6" opacity="0.9"/>
<path d="M419.00 303.55 L417.29 306.59 L420.71 306.59 Z" fill="none" stroke="#b8304f" stroke-width="0.6" opacity="0.9"/>
<path d="M427.50 306.24 L425.79 309.28 L429.21 309.28 Z" fill="none" stroke="#b8304f" stroke-width="0.6" opacity="0.9"/>
<path d="M436.00 307.84 L434.29 310.88 L437.71 310.88 Z" fill="none" stroke="#b8304f" stroke-width="0.6" opacity="0.9"/>
<path d="M444.50 304.28 L442.79 307.32 L446.21 307.32 Z" fill="none" stroke="#b8304f" stroke-width="0.6" opacity="0.9"/>
</g>
<clipPath id="ce"><rect x="25.5" y="376.2" width="172.1" height="134.60000000000002"/></clipPath>
<g clip-path="url(#ce)">
<path d="M25.5 469.43 L26.14 471.43 L26.77 473.47 L27.41 475.51 L28.04 477.57 L28.68 479.62 L29.31 481.67 L29.95 483.7 L30.58 485.71 L31.22 487.68 L31.85 489.62 L32.49 491.5 L33.12 493.34 L33.76 495.11 L34.39 496.81 L35.03 498.43 L35.66 499.97 L36.3 501.43 L36.93 502.79 L37.57 504.05 L38.2 505.2 L38.84 506.25 L39.47 507.18 L40.11 508 L40.74 508.7 L41.38 509.27 L42.01 509.72 L42.65 510.04 L43.29 510.24 L43.92 510.3 L44.56 510.24 L45.19 510.04 L45.83 509.72 L46.46 509.27 L47.1 508.7 L47.73 508 L48.37 507.18 L49 506.25 L49.64 505.2 L50.27 504.05 L50.91 502.79 L51.54 501.43 L52.18 499.97 L52.81 498.43 L53.45 496.81 L54.08 495.11 L54.72 493.34 L55.35 491.5 L55.99 489.62 L56.62 487.68 L57.26 485.71 L57.89 483.7 L58.53 481.67 L59.16 479.62 L59.8 477.57 L60.44 475.51 L61.07 473.47 L61.71 471.43 L62.34 469.43 L62.98 467.45 L63.61 465.52 L64.25 463.63 L64.88 461.8 L65.52 460.03 L66.15 458.33 L66.79 456.7 L67.42 455.16 L68.06 453.71 L68.69 452.35 L69.33 451.09 L69.96 449.93 L70.6 448.88 L71.23 447.95 L71.87 447.13 L72.5 446.44 L73.14 445.86 L73.77 445.42 L74.41 445.09 L75.04 444.9 L75.68 444.84 L76.31 444.9 L76.95 445.09 L77.59 445.42 L78.22 445.86 L78.86 446.44 L79.49 447.13 L80.13 447.95 L80.76 448.88 L81.4 449.93 L82.03 451.09 L82.67 452.35 L83.3 453.71 L83.94 455.16 L84.57 456.7 L85.21 458.33 L85.84 460.03 L86.48 461.8 L87.11 463.63 L87.75 465.52 L88.38 467.45 L89.02 469.43 L89.65 471.43 L90.29 473.47 L90.92 475.51 L91.56 477.57 L92.19 479.62 L92.83 481.67 L93.46 483.7 L94.1 485.71 L94.74 487.68 L95.37 489.62 L96.01 491.5 L96.64 493.34 L97.28 495.11 L97.91 496.81 L98.55 498.43 L99.18 499.97 L99.82 501.43 L100.45 502.79 L101.09 504.05 L101.72 505.2 L102.36 506.25 L102.99 507.18 L103.63 508 L104.26 508.7 L104.9 509.27 L105.53 509.72 L106.17 510.04 L106.8 510.24 L107.44 510.3 L108.07 510.24 L108.71 510.04 L109.34 509.72 L109.98 509.27 L110.61 508.7 L111.25 508 L111.89 507.18 L112.52 506.25 L113.16 505.2 L113.79 504.05 L114.43 502.79 L115.06 501.43 L115.7 499.97 L116.33 498.43 L116.97 496.81 L117.6 495.11 L118.24 493.34 L118.87 491.5 L119.51 489.62 L120.14 487.68 L120.78 485.71 L121.41 483.7 L122.05 481.67 L122.68 479.62 L123.32 477.57 L123.95 475.51 L124.59 473.47 L125.22 471.43 L125.86 469.43 L126.49 467.45 L127.13 465.52 L127.76 463.63 L128.4 461.8 L129.04 460.03 L129.67 458.33 L130.31 456.7 L130.94 455.16 L131.58 453.71 L132.21 452.35 L132.85 451.09 L133.48 449.93 L134.12 448.88 L134.75 447.95 L135.39 447.13 L136.02 446.44 L136.66 445.86 L137.29 445.42 L137.93 445.09 L138.56 444.9 L139.2 444.84 L139.83 444.9 L140.47 445.09 L141.1 445.42 L141.74 445.86 L142.37 446.44 L143.01 447.13 L143.64 447.95 L144.28 448.88 L144.91 449.93 L145.55 451.09 L146.19 452.35 L146.82 453.71 L147.46 455.16 L148.09 456.7 L148.73 458.33 L149.36 460.03 L150 461.8 L150.63 463.63 L151.27 465.52 L151.9 467.45 L152.54 469.43 L153.17 471.43 L153.81 473.47 L154.44 475.51 L155.08 477.57 L155.71 479.62 L156.35 481.67 L156.98 483.7 L157.62 485.71 L158.25 487.68 L158.89 489.62 L159.52 491.5 L160.16 493.34 L160.79 495.11 L161.43 496.81 L162.06 498.43 L162.7 499.97 L163.34 501.43 L163.97 502.79 L164.61 504.05 L165.24 505.2 L165.88 506.25 L166.51 507.18 L167.15 508 L167.78 508.7 L168.42 509.27 L169.05 509.72 L169.69 510.04 L170.32 510.24 L170.96 510.3 L171.59 510.24 L172.23 510.04 L172.86 509.72 L173.5 509.27 L174.13 508.7 L174.77 508 L175.4 507.18 L176.04 506.25 L176.67 505.2 L177.31 504.05 L177.94 502.79 L178.58 501.43 L179.21 499.97 L179.85 498.43 L180.49 496.81 L181.12 495.11 L181.76 493.34 L182.39 491.5 L183.03 489.62 L183.66 487.68 L184.3 485.71 L184.93 483.7 L185.57 481.67 L186.2 479.62 L186.84 477.57 L187.47 475.51 L188.11 473.47 L188.74 471.43 L189.38 469.43 L190.01 467.45 L190.65 465.52 L191.28 463.63 L191.92 461.8 L192.55 460.03 L193.19 458.33 L193.82 456.7 L194.46 455.16 L195.09 453.71 L195.73 452.35 L196.36 451.09 L197 449.93" fill="none" stroke="#D95319" stroke-width="1.5" stroke-linejoin="round" stroke-linecap="round" />
<path d="M19.07 434.57 L21.45 434.57 L23.04 421.79 L25.42 421.79 L27.01 409.01 L29.39 409.01 L30.98 398.17 L33.36 398.17 L34.95 390.93 L37.33 390.93 L38.92 388.39 L41.3 388.39 L42.89 390.93 L45.27 390.93 L46.86 398.17 L49.24 398.17 L50.83 409.01 L53.21 409.01 L54.8 421.79 L57.18 421.79 L58.77 434.57 L61.15 434.57 L62.74 445.41 L65.12 445.41 L66.71 452.65 L69.09 452.65 L70.68 455.19 L73.06 455.19 L74.65 452.65 L77.03 452.65 L78.62 445.41 L81 445.41 L82.59 434.57 L84.97 434.57 L86.56 421.79 L88.94 421.79 L90.53 409.01 L92.91 409.01 L94.5 398.17 L96.88 398.17 L98.47 390.93 L100.85 390.93 L102.44 388.39 L104.82 388.39 L106.41 390.93 L108.79 390.93 L110.38 398.17 L112.76 398.17 L114.35 409.01 L116.73 409.01 L118.32 421.79 L120.7 421.79 L122.29 434.57 L124.67 434.57 L126.26 445.41 L128.64 445.41 L130.23 452.65 L132.61 452.65 L134.2 455.19 L136.58 455.19 L138.17 452.65 L140.55 452.65 L142.14 445.41 L144.52 445.41 L146.11 434.57 L148.49 434.57 L150.08 421.79 L152.46 421.79 L154.05 409.01 L156.43 409.01 L158.02 398.17 L160.4 398.17 L161.99 390.93 L164.37 390.93 L165.96 388.39 L168.34 388.39 L169.93 390.93 L172.31 390.93 L173.9 398.17 L176.28 398.17 L177.87 409.01 L180.25 409.01 L181.83 421.79 L184.22 421.79 L185.8 434.57 L188.19 434.57 L189.77 445.41 L192.16 445.41 L193.74 452.65 L196.13 452.65 L197.71 455.19 L200.1 455.19 L201.68 452.65 L204.07 452.65" fill="none" stroke="#0072BD" stroke-width="1.7" stroke-linejoin="round" stroke-linecap="round" stroke-linejoin="miter"/>
<path d="M25.5 448.9 L26.14 447.16 L26.77 445.4 L27.41 443.64 L28.04 441.88 L28.68 440.13 L29.31 438.39 L29.95 436.68 L30.58 435 L31.22 433.35 L31.85 431.75 L32.49 430.19 L33.12 428.69 L33.76 427.25 L34.39 425.88 L35.03 424.58 L35.66 423.36 L36.3 422.22 L36.93 421.16 L37.57 420.2 L38.2 419.33 L38.84 418.56 L39.47 417.89 L40.11 417.33 L40.74 416.87 L41.38 416.51 L42.01 416.27 L42.65 416.14 L43.29 416.12 L43.92 416.21 L44.56 416.4 L45.19 416.71 L45.83 417.13 L46.46 417.65 L47.1 418.28 L47.73 419.01 L48.37 419.84 L49 420.77 L49.64 421.79 L50.27 422.89 L50.91 424.08 L51.54 425.35 L52.18 426.7 L52.81 428.11 L53.45 429.58 L54.08 431.12 L54.72 432.7 L55.35 434.33 L55.99 436 L56.62 437.7 L57.26 439.43 L57.89 441.18 L58.53 442.93 L59.16 444.7 L59.8 446.46 L60.44 448.21 L61.07 449.94 L61.71 451.66 L62.34 453.34 L62.98 454.99 L63.61 456.59 L64.25 458.15 L64.88 459.64 L65.52 461.08 L66.15 462.46 L66.79 463.76 L67.42 464.98 L68.06 466.12 L68.69 467.17 L69.33 468.14 L69.96 469 L70.6 469.77 L71.23 470.44 L71.87 471.01 L72.5 471.47 L73.14 471.82 L73.77 472.06 L74.41 472.2 L75.04 472.22 L75.68 472.13 L76.31 471.93 L76.95 471.62 L77.59 471.21 L78.22 470.68 L78.86 470.05 L79.49 469.32 L80.13 468.49 L80.76 467.57 L81.4 466.55 L82.03 465.44 L82.67 464.25 L83.3 462.98 L83.94 461.64 L84.57 460.23 L85.21 458.75 L85.84 457.22 L86.48 455.63 L87.11 454 L87.75 452.33 L88.38 450.63 L89.02 448.9 L89.65 447.16 L90.29 445.4 L90.92 443.64 L91.56 441.88 L92.19 440.13 L92.83 438.39 L93.46 436.68 L94.1 435 L94.74 433.35 L95.37 431.75 L96.01 430.19 L96.64 428.69 L97.28 427.25 L97.91 425.88 L98.55 424.58 L99.18 423.36 L99.82 422.22 L100.45 421.16 L101.09 420.2 L101.72 419.33 L102.36 418.56 L102.99 417.89 L103.63 417.33 L104.26 416.87 L104.9 416.51 L105.53 416.27 L106.17 416.14 L106.8 416.12 L107.44 416.21 L108.07 416.4 L108.71 416.71 L109.34 417.13 L109.98 417.65 L110.61 418.28 L111.25 419.01 L111.89 419.84 L112.52 420.77 L113.16 421.79 L113.79 422.89 L114.43 424.08 L115.06 425.35 L115.7 426.7 L116.33 428.11 L116.97 429.58 L117.6 431.12 L118.24 432.7 L118.87 434.33 L119.51 436 L120.14 437.7 L120.78 439.43 L121.41 441.18 L122.05 442.93 L122.68 444.7 L123.32 446.46 L123.95 448.21 L124.59 449.94 L125.22 451.66 L125.86 453.34 L126.49 454.99 L127.13 456.59 L127.76 458.15 L128.4 459.64 L129.04 461.08 L129.67 462.46 L130.31 463.76 L130.94 464.98 L131.58 466.12 L132.21 467.17 L132.85 468.14 L133.48 469 L134.12 469.77 L134.75 470.44 L135.39 471.01 L136.02 471.47 L136.66 471.82 L137.29 472.06 L137.93 472.2 L138.56 472.22 L139.2 472.13 L139.83 471.93 L140.47 471.62 L141.1 471.21 L141.74 470.68 L142.37 470.05 L143.01 469.32 L143.64 468.49 L144.28 467.57 L144.91 466.55 L145.55 465.44 L146.19 464.25 L146.82 462.98 L147.46 461.64 L148.09 460.23 L148.73 458.75 L149.36 457.22 L150 455.63 L150.63 454 L151.27 452.33 L151.9 450.63 L152.54 448.9 L153.17 447.16 L153.81 445.4 L154.44 443.64 L155.08 441.88 L155.71 440.13 L156.35 438.39 L156.98 436.68 L157.62 435 L158.25 433.35 L158.89 431.75 L159.52 430.19 L160.16 428.69 L160.79 427.25 L161.43 425.88 L162.06 424.58 L162.7 423.36 L163.34 422.22 L163.97 421.16 L164.61 420.2 L165.24 419.33 L165.88 418.56 L166.51 417.89 L167.15 417.33 L167.78 416.87 L168.42 416.51 L169.05 416.27 L169.69 416.14 L170.32 416.12 L170.96 416.21 L171.59 416.4 L172.23 416.71 L172.86 417.13 L173.5 417.65 L174.13 418.28 L174.77 419.01 L175.4 419.84 L176.04 420.77 L176.67 421.79 L177.31 422.89 L177.94 424.08 L178.58 425.35 L179.21 426.7 L179.85 428.11 L180.49 429.58 L181.12 431.12 L181.76 432.7 L182.39 434.33 L183.03 436 L183.66 437.7 L184.3 439.43 L184.93 441.18 L185.57 442.93 L186.2 444.7 L186.84 446.46 L187.47 448.21 L188.11 449.94 L188.74 451.66 L189.38 453.34 L190.01 454.99 L190.65 456.59 L191.28 458.15 L191.92 459.64 L192.55 461.08 L193.19 462.46 L193.82 463.76 L194.46 464.98 L195.09 466.12 L195.73 467.17 L196.36 468.14 L197 469" fill="none" stroke="#EDB120" stroke-width="0.85" stroke-linejoin="round" stroke-linecap="round" opacity="0.8"/>
<path d="M25.5 448.23 L26.14 446.73 L26.77 445.23 L27.41 443.71 L28.04 442.21 L28.68 440.7 L29.31 439.22 L29.95 437.75 L30.58 436.31 L31.22 434.9 L31.85 433.52 L32.49 432.19 L33.12 430.9 L33.76 429.67 L34.39 428.49 L35.03 427.38 L35.66 426.33 L36.3 425.35 L36.93 424.45 L37.57 423.62 L38.2 422.88 L38.84 422.22 L39.47 421.65 L40.11 421.16 L40.74 420.77 L41.38 420.47 L42.01 420.26 L42.65 420.14 L43.29 420.12 L43.92 420.2 L44.56 420.37 L45.19 420.64 L45.83 420.99 L46.46 421.44 L47.1 421.98 L47.73 422.61 L48.37 423.32 L49 424.11 L49.64 424.98 L50.27 425.93 L50.91 426.95 L51.54 428.04 L52.18 429.19 L52.81 430.4 L53.45 431.67 L54.08 432.98 L54.72 434.34 L55.35 435.74 L55.99 437.17 L56.62 438.63 L57.26 440.11 L57.89 441.6 L58.53 443.11 L59.16 444.62 L59.8 446.13 L60.44 447.63 L61.07 449.12 L61.71 450.59 L62.34 452.03 L62.98 453.44 L63.61 454.82 L64.25 456.15 L64.88 457.43 L65.52 458.67 L66.15 459.84 L66.79 460.96 L67.42 462.01 L68.06 462.98 L68.69 463.89 L69.33 464.71 L69.96 465.46 L70.6 466.12 L71.23 466.69 L71.87 467.18 L72.5 467.57 L73.14 467.87 L73.77 468.08 L74.41 468.19 L75.04 468.21 L75.68 468.14 L76.31 467.97 L76.95 467.7 L77.59 467.34 L78.22 466.89 L78.86 466.36 L79.49 465.73 L80.13 465.02 L80.76 464.23 L81.4 463.35 L82.03 462.41 L82.67 461.38 L83.3 460.3 L83.94 459.14 L84.57 457.93 L85.21 456.67 L85.84 455.35 L86.48 454 L87.11 452.6 L87.75 451.17 L88.38 449.71 L89.02 448.23 L89.65 446.73 L90.29 445.23 L90.92 443.71 L91.56 442.21 L92.19 440.7 L92.83 439.22 L93.46 437.75 L94.1 436.31 L94.74 434.9 L95.37 433.52 L96.01 432.19 L96.64 430.9 L97.28 429.67 L97.91 428.49 L98.55 427.38 L99.18 426.33 L99.82 425.35 L100.45 424.45 L101.09 423.62 L101.72 422.88 L102.36 422.22 L102.99 421.65 L103.63 421.16 L104.26 420.77 L104.9 420.47 L105.53 420.26 L106.17 420.14 L106.8 420.12 L107.44 420.2 L108.07 420.37 L108.71 420.64 L109.34 420.99 L109.98 421.44 L110.61 421.98 L111.25 422.61 L111.89 423.32 L112.52 424.11 L113.16 424.98 L113.79 425.93 L114.43 426.95 L115.06 428.04 L115.7 429.19 L116.33 430.4 L116.97 431.67 L117.6 432.98 L118.24 434.34 L118.87 435.74 L119.51 437.17 L120.14 438.63 L120.78 440.11 L121.41 441.6 L122.05 443.11 L122.68 444.62 L123.32 446.13 L123.95 447.63 L124.59 449.12 L125.22 450.59 L125.86 452.03 L126.49 453.44 L127.13 454.82 L127.76 456.15 L128.4 457.43 L129.04 458.67 L129.67 459.84 L130.31 460.96 L130.94 462.01 L131.58 462.98 L132.21 463.89 L132.85 464.71 L133.48 465.46 L134.12 466.12 L134.75 466.69 L135.39 467.18 L136.02 467.57 L136.66 467.87 L137.29 468.08 L137.93 468.19 L138.56 468.21 L139.2 468.14 L139.83 467.97 L140.47 467.7 L141.1 467.34 L141.74 466.89 L142.37 466.36 L143.01 465.73 L143.64 465.02 L144.28 464.23 L144.91 463.35 L145.55 462.41 L146.19 461.38 L146.82 460.3 L147.46 459.14 L148.09 457.93 L148.73 456.67 L149.36 455.35 L150 454 L150.63 452.6 L151.27 451.17 L151.9 449.71 L152.54 448.23 L153.17 446.73 L153.81 445.23 L154.44 443.71 L155.08 442.21 L155.71 440.7 L156.35 439.22 L156.98 437.75 L157.62 436.31 L158.25 434.9 L158.89 433.52 L159.52 432.19 L160.16 430.9 L160.79 429.67 L161.43 428.49 L162.06 427.38 L162.7 426.33 L163.34 425.35 L163.97 424.45 L164.61 423.62 L165.24 422.88 L165.88 422.22 L166.51 421.65 L167.15 421.16 L167.78 420.77 L168.42 420.47 L169.05 420.26 L169.69 420.14 L170.32 420.12 L170.96 420.2 L171.59 420.37 L172.23 420.64 L172.86 420.99 L173.5 421.44 L174.13 421.98 L174.77 422.61 L175.4 423.32 L176.04 424.11 L176.67 424.98 L177.31 425.93 L177.94 426.95 L178.58 428.04 L179.21 429.19 L179.85 430.4 L180.49 431.67 L181.12 432.98 L181.76 434.34 L182.39 435.74 L183.03 437.17 L183.66 438.63 L184.3 440.11 L184.93 441.6 L185.57 443.11 L186.2 444.62 L186.84 446.13 L187.47 447.63 L188.11 449.12 L188.74 450.59 L189.38 452.03 L190.01 453.44 L190.65 454.82 L191.28 456.15 L191.92 457.43 L192.55 458.67 L193.19 459.84 L193.82 460.96 L194.46 462.01 L195.09 462.98 L195.73 463.89 L196.36 464.71 L197 465.46" fill="none" stroke="#EDB120" stroke-width="0.85" stroke-linejoin="round" stroke-linecap="round" opacity="0.8" stroke-dasharray="3.4 2.4"/>
<path d="M25.5 447.44 L26.14 446.23 L26.77 445.02 L27.41 443.8 L28.04 442.59 L28.68 441.38 L29.31 440.18 L29.95 439 L30.58 437.84 L31.22 436.7 L31.85 435.59 L32.49 434.52 L33.12 433.48 L33.76 432.49 L34.39 431.54 L35.03 430.64 L35.66 429.8 L36.3 429.01 L36.93 428.28 L37.57 427.62 L38.2 427.02 L38.84 426.49 L39.47 426.03 L40.11 425.63 L40.74 425.32 L41.38 425.07 L42.01 424.91 L42.65 424.81 L43.29 424.8 L43.92 424.86 L44.56 425 L45.19 425.21 L45.83 425.5 L46.46 425.86 L47.1 426.29 L47.73 426.8 L48.37 427.37 L49 428.01 L49.64 428.71 L50.27 429.48 L50.91 430.3 L51.54 431.18 L52.18 432.1 L52.81 433.08 L53.45 434.1 L54.08 435.16 L54.72 436.25 L55.35 437.38 L55.99 438.53 L56.62 439.7 L57.26 440.9 L57.89 442.1 L58.53 443.32 L59.16 444.53 L59.8 445.75 L60.44 446.96 L61.07 448.16 L61.71 449.34 L62.34 450.5 L62.98 451.64 L63.61 452.75 L64.25 453.82 L64.88 454.85 L65.52 455.85 L66.15 456.8 L66.79 457.69 L67.42 458.54 L68.06 459.32 L68.69 460.05 L69.33 460.72 L69.96 461.32 L70.6 461.85 L71.23 462.31 L71.87 462.7 L72.5 463.02 L73.14 463.26 L73.77 463.43 L74.41 463.52 L75.04 463.54 L75.68 463.48 L76.31 463.34 L76.95 463.13 L77.59 462.84 L78.22 462.48 L78.86 462.04 L79.49 461.54 L80.13 460.96 L80.76 460.33 L81.4 459.62 L82.03 458.86 L82.67 458.04 L83.3 457.16 L83.94 456.23 L84.57 455.26 L85.21 454.24 L85.84 453.18 L86.48 452.08 L87.11 450.96 L87.75 449.81 L88.38 448.63 L89.02 447.44 L89.65 446.23 L90.29 445.02 L90.92 443.8 L91.56 442.59 L92.19 441.38 L92.83 440.18 L93.46 439 L94.1 437.84 L94.74 436.7 L95.37 435.59 L96.01 434.52 L96.64 433.48 L97.28 432.49 L97.91 431.54 L98.55 430.64 L99.18 429.8 L99.82 429.01 L100.45 428.28 L101.09 427.62 L101.72 427.02 L102.36 426.49 L102.99 426.03 L103.63 425.63 L104.26 425.32 L104.9 425.07 L105.53 424.91 L106.17 424.81 L106.8 424.8 L107.44 424.86 L108.07 425 L108.71 425.21 L109.34 425.5 L109.98 425.86 L110.61 426.29 L111.25 426.8 L111.89 427.37 L112.52 428.01 L113.16 428.71 L113.79 429.48 L114.43 430.3 L115.06 431.18 L115.7 432.1 L116.33 433.08 L116.97 434.1 L117.6 435.16 L118.24 436.25 L118.87 437.38 L119.51 438.53 L120.14 439.7 L120.78 440.9 L121.41 442.1 L122.05 443.32 L122.68 444.53 L123.32 445.75 L123.95 446.96 L124.59 448.16 L125.22 449.34 L125.86 450.5 L126.49 451.64 L127.13 452.75 L127.76 453.82 L128.4 454.85 L129.04 455.85 L129.67 456.8 L130.31 457.69 L130.94 458.54 L131.58 459.32 L132.21 460.05 L132.85 460.72 L133.48 461.32 L134.12 461.85 L134.75 462.31 L135.39 462.7 L136.02 463.02 L136.66 463.26 L137.29 463.43 L137.93 463.52 L138.56 463.54 L139.2 463.48 L139.83 463.34 L140.47 463.13 L141.1 462.84 L141.74 462.48 L142.37 462.04 L143.01 461.54 L143.64 460.96 L144.28 460.33 L144.91 459.62 L145.55 458.86 L146.19 458.04 L146.82 457.16 L147.46 456.23 L148.09 455.26 L148.73 454.24 L149.36 453.18 L150 452.08 L150.63 450.96 L151.27 449.81 L151.9 448.63 L152.54 447.44 L153.17 446.23 L153.81 445.02 L154.44 443.8 L155.08 442.59 L155.71 441.38 L156.35 440.18 L156.98 439 L157.62 437.84 L158.25 436.7 L158.89 435.59 L159.52 434.52 L160.16 433.48 L160.79 432.49 L161.43 431.54 L162.06 430.64 L162.7 429.8 L163.34 429.01 L163.97 428.28 L164.61 427.62 L165.24 427.02 L165.88 426.49 L166.51 426.03 L167.15 425.63 L167.78 425.32 L168.42 425.07 L169.05 424.91 L169.69 424.81 L170.32 424.8 L170.96 424.86 L171.59 425 L172.23 425.21 L172.86 425.5 L173.5 425.86 L174.13 426.29 L174.77 426.8 L175.4 427.37 L176.04 428.01 L176.67 428.71 L177.31 429.48 L177.94 430.3 L178.58 431.18 L179.21 432.1 L179.85 433.08 L180.49 434.1 L181.12 435.16 L181.76 436.25 L182.39 437.38 L183.03 438.53 L183.66 439.7 L184.3 440.9 L184.93 442.1 L185.57 443.32 L186.2 444.53 L186.84 445.75 L187.47 446.96 L188.11 448.16 L188.74 449.34 L189.38 450.5 L190.01 451.64 L190.65 452.75 L191.28 453.82 L191.92 454.85 L192.55 455.85 L193.19 456.8 L193.82 457.69 L194.46 458.54 L195.09 459.32 L195.73 460.05 L196.36 460.72 L197 461.32" fill="none" stroke="#EDB120" stroke-width="0.85" stroke-linejoin="round" stroke-linecap="round" opacity="0.7" stroke-dasharray="0.6 0.9"/>
<path d="M25.5 446.65 L26.14 445.73 L26.77 444.81 L27.41 443.89 L28.04 442.97 L28.68 442.05 L29.31 441.14 L29.95 440.25 L30.58 439.36 L31.22 438.5 L31.85 437.66 L32.49 436.85 L33.12 436.06 L33.76 435.31 L34.39 434.59 L35.03 433.91 L35.66 433.27 L36.3 432.67 L36.93 432.12 L37.57 431.61 L38.2 431.16 L38.84 430.76 L39.47 430.4 L40.11 430.11 L40.74 429.87 L41.38 429.68 L42.01 429.56 L42.65 429.49 L43.29 429.47 L43.92 429.52 L44.56 429.63 L45.19 429.79 L45.83 430.01 L46.46 430.28 L47.1 430.61 L47.73 430.99 L48.37 431.43 L49 431.91 L49.64 432.44 L50.27 433.02 L50.91 433.65 L51.54 434.31 L52.18 435.02 L52.81 435.76 L53.45 436.53 L54.08 437.33 L54.72 438.16 L55.35 439.02 L55.99 439.89 L56.62 440.78 L57.26 441.69 L57.89 442.6 L58.53 443.52 L59.16 444.44 L59.8 445.37 L60.44 446.28 L61.07 447.19 L61.71 448.09 L62.34 448.97 L62.98 449.83 L63.61 450.67 L64.25 451.49 L64.88 452.27 L65.52 453.03 L66.15 453.75 L66.79 454.43 L67.42 455.07 L68.06 455.67 L68.69 456.22 L69.33 456.72 L69.96 457.18 L70.6 457.58 L71.23 457.93 L71.87 458.23 L72.5 458.47 L73.14 458.65 L73.77 458.78 L74.41 458.85 L75.04 458.86 L75.68 458.82 L76.31 458.71 L76.95 458.55 L77.59 458.33 L78.22 458.06 L78.86 457.73 L79.49 457.35 L80.13 456.91 L80.76 456.43 L81.4 455.89 L82.03 455.31 L82.67 454.69 L83.3 454.02 L83.94 453.32 L84.57 452.58 L85.21 451.81 L85.84 451 L86.48 450.17 L87.11 449.32 L87.75 448.45 L88.38 447.55 L89.02 446.65 L89.65 445.73 L90.29 444.81 L90.92 443.89 L91.56 442.97 L92.19 442.05 L92.83 441.14 L93.46 440.25 L94.1 439.36 L94.74 438.5 L95.37 437.66 L96.01 436.85 L96.64 436.06 L97.28 435.31 L97.91 434.59 L98.55 433.91 L99.18 433.27 L99.82 432.67 L100.45 432.12 L101.09 431.61 L101.72 431.16 L102.36 430.76 L102.99 430.4 L103.63 430.11 L104.26 429.87 L104.9 429.68 L105.53 429.56 L106.17 429.49 L106.8 429.47 L107.44 429.52 L108.07 429.63 L108.71 429.79 L109.34 430.01 L109.98 430.28 L110.61 430.61 L111.25 430.99 L111.89 431.43 L112.52 431.91 L113.16 432.44 L113.79 433.02 L114.43 433.65 L115.06 434.31 L115.7 435.02 L116.33 435.76 L116.97 436.53 L117.6 437.33 L118.24 438.16 L118.87 439.02 L119.51 439.89 L120.14 440.78 L120.78 441.69 L121.41 442.6 L122.05 443.52 L122.68 444.44 L123.32 445.37 L123.95 446.28 L124.59 447.19 L125.22 448.09 L125.86 448.97 L126.49 449.83 L127.13 450.67 L127.76 451.49 L128.4 452.27 L129.04 453.03 L129.67 453.75 L130.31 454.43 L130.94 455.07 L131.58 455.67 L132.21 456.22 L132.85 456.72 L133.48 457.18 L134.12 457.58 L134.75 457.93 L135.39 458.23 L136.02 458.47 L136.66 458.65 L137.29 458.78 L137.93 458.85 L138.56 458.86 L139.2 458.82 L139.83 458.71 L140.47 458.55 L141.1 458.33 L141.74 458.06 L142.37 457.73 L143.01 457.35 L143.64 456.91 L144.28 456.43 L144.91 455.89 L145.55 455.31 L146.19 454.69 L146.82 454.02 L147.46 453.32 L148.09 452.58 L148.73 451.81 L149.36 451 L150 450.17 L150.63 449.32 L151.27 448.45 L151.9 447.55 L152.54 446.65 L153.17 445.73 L153.81 444.81 L154.44 443.89 L155.08 442.97 L155.71 442.05 L156.35 441.14 L156.98 440.25 L157.62 439.36 L158.25 438.5 L158.89 437.66 L159.52 436.85 L160.16 436.06 L160.79 435.31 L161.43 434.59 L162.06 433.91 L162.7 433.27 L163.34 432.67 L163.97 432.12 L164.61 431.61 L165.24 431.16 L165.88 430.76 L166.51 430.4 L167.15 430.11 L167.78 429.87 L168.42 429.68 L169.05 429.56 L169.69 429.49 L170.32 429.47 L170.96 429.52 L171.59 429.63 L172.23 429.79 L172.86 430.01 L173.5 430.28 L174.13 430.61 L174.77 430.99 L175.4 431.43 L176.04 431.91 L176.67 432.44 L177.31 433.02 L177.94 433.65 L178.58 434.31 L179.21 435.02 L179.85 435.76 L180.49 436.53 L181.12 437.33 L181.76 438.16 L182.39 439.02 L183.03 439.89 L183.66 440.78 L184.3 441.69 L184.93 442.6 L185.57 443.52 L186.2 444.44 L186.84 445.37 L187.47 446.28 L188.11 447.19 L188.74 448.09 L189.38 448.97 L190.01 449.83 L190.65 450.67 L191.28 451.49 L191.92 452.27 L192.55 453.03 L193.19 453.75 L193.82 454.43 L194.46 455.07 L195.09 455.67 L195.73 456.22 L196.36 456.72 L197 457.18" fill="none" stroke="#EDB120" stroke-width="0.85" stroke-linejoin="round" stroke-linecap="round" opacity="0.75" stroke-dasharray="3 1.2 0.8 1.2"/>
<path d="M25.5 446.31 L26.14 445.52 L26.77 444.73 L27.41 443.93 L28.04 443.13 L28.68 442.34 L29.31 441.56 L29.95 440.78 L30.58 440.02 L31.22 439.27 L31.85 438.55 L32.49 437.85 L33.12 437.17 L33.76 436.52 L34.39 435.89 L35.03 435.31 L35.66 434.75 L36.3 434.24 L36.93 433.76 L37.57 433.33 L38.2 432.93 L38.84 432.58 L39.47 432.28 L40.11 432.03 L40.74 431.82 L41.38 431.66 L42.01 431.55 L42.65 431.49 L43.29 431.48 L43.92 431.52 L44.56 431.61 L45.19 431.75 L45.83 431.94 L46.46 432.17 L47.1 432.46 L47.73 432.79 L48.37 433.16 L49 433.58 L49.64 434.04 L50.27 434.54 L50.91 435.08 L51.54 435.66 L52.18 436.26 L52.81 436.9 L53.45 437.57 L54.08 438.26 L54.72 438.98 L55.35 439.72 L55.99 440.47 L56.62 441.24 L57.26 442.03 L57.89 442.81 L58.53 443.61 L59.16 444.41 L59.8 445.2 L60.44 446 L61.07 446.78 L61.71 447.56 L62.34 448.32 L62.98 449.06 L63.61 449.79 L64.25 450.49 L64.88 451.17 L65.52 451.82 L66.15 452.44 L66.79 453.03 L67.42 453.58 L68.06 454.1 L68.69 454.57 L69.33 455.01 L69.96 455.4 L70.6 455.75 L71.23 456.05 L71.87 456.31 L72.5 456.52 L73.14 456.68 L73.77 456.79 L74.41 456.85 L75.04 456.86 L75.68 456.82 L76.31 456.73 L76.95 456.59 L77.59 456.4 L78.22 456.16 L78.86 455.88 L79.49 455.55 L80.13 455.17 L80.76 454.75 L81.4 454.29 L82.03 453.79 L82.67 453.25 L83.3 452.68 L83.94 452.07 L84.57 451.43 L85.21 450.77 L85.84 450.07 L86.48 449.35 L87.11 448.62 L87.75 447.86 L88.38 447.09 L89.02 446.31 L89.65 445.52 L90.29 444.73 L90.92 443.93 L91.56 443.13 L92.19 442.34 L92.83 441.56 L93.46 440.78 L94.1 440.02 L94.74 439.27 L95.37 438.55 L96.01 437.85 L96.64 437.17 L97.28 436.52 L97.91 435.89 L98.55 435.31 L99.18 434.75 L99.82 434.24 L100.45 433.76 L101.09 433.33 L101.72 432.93 L102.36 432.58 L102.99 432.28 L103.63 432.03 L104.26 431.82 L104.9 431.66 L105.53 431.55 L106.17 431.49 L106.8 431.48 L107.44 431.52 L108.07 431.61 L108.71 431.75 L109.34 431.94 L109.98 432.17 L110.61 432.46 L111.25 432.79 L111.89 433.16 L112.52 433.58 L113.16 434.04 L113.79 434.54 L114.43 435.08 L115.06 435.66 L115.7 436.26 L116.33 436.9 L116.97 437.57 L117.6 438.26 L118.24 438.98 L118.87 439.72 L119.51 440.47 L120.14 441.24 L120.78 442.03 L121.41 442.81 L122.05 443.61 L122.68 444.41 L123.32 445.2 L123.95 446 L124.59 446.78 L125.22 447.56 L125.86 448.32 L126.49 449.06 L127.13 449.79 L127.76 450.49 L128.4 451.17 L129.04 451.82 L129.67 452.44 L130.31 453.03 L130.94 453.58 L131.58 454.1 L132.21 454.57 L132.85 455.01 L133.48 455.4 L134.12 455.75 L134.75 456.05 L135.39 456.31 L136.02 456.52 L136.66 456.68 L137.29 456.79 L137.93 456.85 L138.56 456.86 L139.2 456.82 L139.83 456.73 L140.47 456.59 L141.1 456.4 L141.74 456.16 L142.37 455.88 L143.01 455.55 L143.64 455.17 L144.28 454.75 L144.91 454.29 L145.55 453.79 L146.19 453.25 L146.82 452.68 L147.46 452.07 L148.09 451.43 L148.73 450.77 L149.36 450.07 L150 449.35 L150.63 448.62 L151.27 447.86 L151.9 447.09 L152.54 446.31 L153.17 445.52 L153.81 444.73 L154.44 443.93 L155.08 443.13 L155.71 442.34 L156.35 441.56 L156.98 440.78 L157.62 440.02 L158.25 439.27 L158.89 438.55 L159.52 437.85 L160.16 437.17 L160.79 436.52 L161.43 435.89 L162.06 435.31 L162.7 434.75 L163.34 434.24 L163.97 433.76 L164.61 433.33 L165.24 432.93 L165.88 432.58 L166.51 432.28 L167.15 432.03 L167.78 431.82 L168.42 431.66 L169.05 431.55 L169.69 431.49 L170.32 431.48 L170.96 431.52 L171.59 431.61 L172.23 431.75 L172.86 431.94 L173.5 432.17 L174.13 432.46 L174.77 432.79 L175.4 433.16 L176.04 433.58 L176.67 434.04 L177.31 434.54 L177.94 435.08 L178.58 435.66 L179.21 436.26 L179.85 436.9 L180.49 437.57 L181.12 438.26 L181.76 438.98 L182.39 439.72 L183.03 440.47 L183.66 441.24 L184.3 442.03 L184.93 442.81 L185.57 443.61 L186.2 444.41 L186.84 445.2 L187.47 446 L188.11 446.78 L188.74 447.56 L189.38 448.32 L190.01 449.06 L190.65 449.79 L191.28 450.49 L191.92 451.17 L192.55 451.82 L193.19 452.44 L193.82 453.03 L194.46 453.58 L195.09 454.1 L195.73 454.57 L196.36 455.01 L197 455.4" fill="none" stroke="#EDB120" stroke-width="4.6" stroke-linejoin="round" stroke-linecap="round" opacity="0.95"/>
<path d="M25.5 445.88 L26.14 445.25 L26.77 444.61 L27.41 443.98 L28.04 443.34 L28.68 442.71 L29.31 442.08 L29.95 441.46 L30.58 440.85 L31.22 440.25 L31.85 439.67 L32.49 439.11 L33.12 438.57 L33.76 438.05 L34.39 437.55 L35.03 437.08 L35.66 436.64 L36.3 436.22 L36.93 435.84 L37.57 435.49 L38.2 435.18 L38.84 434.9 L39.47 434.66 L40.11 434.45 L40.74 434.29 L41.38 434.16 L42.01 434.07 L42.65 434.02 L43.29 434.02 L43.92 434.05 L44.56 434.12 L45.19 434.23 L45.83 434.38 L46.46 434.57 L47.1 434.8 L47.73 435.06 L48.37 435.36 L49 435.7 L49.64 436.07 L50.27 436.47 L50.91 436.9 L51.54 437.36 L52.18 437.84 L52.81 438.36 L53.45 438.89 L54.08 439.45 L54.72 440.02 L55.35 440.61 L55.99 441.21 L56.62 441.83 L57.26 442.45 L57.89 443.09 L58.53 443.72 L59.16 444.36 L59.8 445 L60.44 445.63 L61.07 446.26 L61.71 446.88 L62.34 447.49 L62.98 448.08 L63.61 448.66 L64.25 449.23 L64.88 449.77 L65.52 450.29 L66.15 450.79 L66.79 451.26 L67.42 451.7 L68.06 452.11 L68.69 452.49 L69.33 452.84 L69.96 453.16 L70.6 453.44 L71.23 453.68 L71.87 453.88 L72.5 454.05 L73.14 454.18 L73.77 454.26 L74.41 454.31 L75.04 454.32 L75.68 454.29 L76.31 454.22 L76.95 454.1 L77.59 453.95 L78.22 453.76 L78.86 453.54 L79.49 453.27 L80.13 452.97 L80.76 452.64 L81.4 452.27 L82.03 451.87 L82.67 451.44 L83.3 450.98 L83.94 450.49 L84.57 449.98 L85.21 449.45 L85.84 448.89 L86.48 448.32 L87.11 447.73 L87.75 447.12 L88.38 446.51 L89.02 445.88 L89.65 445.25 L90.29 444.61 L90.92 443.98 L91.56 443.34 L92.19 442.71 L92.83 442.08 L93.46 441.46 L94.1 440.85 L94.74 440.25 L95.37 439.67 L96.01 439.11 L96.64 438.57 L97.28 438.05 L97.91 437.55 L98.55 437.08 L99.18 436.64 L99.82 436.22 L100.45 435.84 L101.09 435.49 L101.72 435.18 L102.36 434.9 L102.99 434.66 L103.63 434.45 L104.26 434.29 L104.9 434.16 L105.53 434.07 L106.17 434.02 L106.8 434.02 L107.44 434.05 L108.07 434.12 L108.71 434.23 L109.34 434.38 L109.98 434.57 L110.61 434.8 L111.25 435.06 L111.89 435.36 L112.52 435.7 L113.16 436.07 L113.79 436.47 L114.43 436.9 L115.06 437.36 L115.7 437.84 L116.33 438.36 L116.97 438.89 L117.6 439.45 L118.24 440.02 L118.87 440.61 L119.51 441.21 L120.14 441.83 L120.78 442.45 L121.41 443.09 L122.05 443.72 L122.68 444.36 L123.32 445 L123.95 445.63 L124.59 446.26 L125.22 446.88 L125.86 447.49 L126.49 448.08 L127.13 448.66 L127.76 449.23 L128.4 449.77 L129.04 450.29 L129.67 450.79 L130.31 451.26 L130.94 451.7 L131.58 452.11 L132.21 452.49 L132.85 452.84 L133.48 453.16 L134.12 453.44 L134.75 453.68 L135.39 453.88 L136.02 454.05 L136.66 454.18 L137.29 454.26 L137.93 454.31 L138.56 454.32 L139.2 454.29 L139.83 454.22 L140.47 454.1 L141.1 453.95 L141.74 453.76 L142.37 453.54 L143.01 453.27 L143.64 452.97 L144.28 452.64 L144.91 452.27 L145.55 451.87 L146.19 451.44 L146.82 450.98 L147.46 450.49 L148.09 449.98 L148.73 449.45 L149.36 448.89 L150 448.32 L150.63 447.73 L151.27 447.12 L151.9 446.51 L152.54 445.88 L153.17 445.25 L153.81 444.61 L154.44 443.98 L155.08 443.34 L155.71 442.71 L156.35 442.08 L156.98 441.46 L157.62 440.85 L158.25 440.25 L158.89 439.67 L159.52 439.11 L160.16 438.57 L160.79 438.05 L161.43 437.55 L162.06 437.08 L162.7 436.64 L163.34 436.22 L163.97 435.84 L164.61 435.49 L165.24 435.18 L165.88 434.9 L166.51 434.66 L167.15 434.45 L167.78 434.29 L168.42 434.16 L169.05 434.07 L169.69 434.02 L170.32 434.02 L170.96 434.05 L171.59 434.12 L172.23 434.23 L172.86 434.38 L173.5 434.57 L174.13 434.8 L174.77 435.06 L175.4 435.36 L176.04 435.7 L176.67 436.07 L177.31 436.47 L177.94 436.9 L178.58 437.36 L179.21 437.84 L179.85 438.36 L180.49 438.89 L181.12 439.45 L181.76 440.02 L182.39 440.61 L183.03 441.21 L183.66 441.83 L184.3 442.45 L184.93 443.09 L185.57 443.72 L186.2 444.36 L186.84 445 L187.47 445.63 L188.11 446.26 L188.74 446.88 L189.38 447.49 L190.01 448.08 L190.65 448.66 L191.28 449.23 L191.92 449.77 L192.55 450.29 L193.19 450.79 L193.82 451.26 L194.46 451.7 L195.09 452.11 L195.73 452.49 L196.36 452.84 L197 453.16" fill="none" stroke="#EDB120" stroke-width="4.6" stroke-linejoin="round" stroke-linecap="round" opacity="0.95"/>
</g>
<clipPath id="cf"><rect x="274.2" y="375.1" width="172.4" height="135.7"/></clipPath>
<g clip-path="url(#cf)">
<path d="M274.2 444.36 L274.84 444.56 L275.47 444.88 L276.11 445.33 L276.75 445.91 L277.38 446.61 L278.02 447.44 L278.65 448.38 L279.29 449.43 L279.93 450.6 L280.56 451.87 L281.2 453.24 L281.84 454.71 L282.47 456.26 L283.11 457.9 L283.74 459.62 L284.38 461.4 L285.02 463.25 L285.65 465.15 L286.29 467.1 L286.93 469.09 L287.56 471.11 L288.2 473.16 L288.83 475.23 L289.47 477.3 L290.11 479.37 L290.74 481.43 L291.38 483.48 L292.02 485.51 L292.65 487.5 L293.29 489.45 L293.93 491.35 L294.56 493.2 L295.2 494.98 L295.83 496.7 L296.47 498.33 L297.11 499.89 L297.74 501.36 L298.38 502.73 L299.02 504 L299.65 505.16 L300.29 506.22 L300.92 507.16 L301.56 507.98 L302.2 508.68 L302.83 509.26 L303.47 509.72 L304.11 510.04 L304.74 510.23 L305.38 510.3 L306.01 510.23 L306.65 510.04 L307.29 509.72 L307.92 509.26 L308.56 508.68 L309.2 507.98 L309.83 507.16 L310.47 506.22 L311.11 505.16 L311.74 504 L312.38 502.73 L313.01 501.36 L313.65 499.89 L314.29 498.33 L314.92 496.7 L315.56 494.98 L316.2 493.2 L316.83 491.35 L317.47 489.45 L318.1 487.5 L318.74 485.51 L319.38 483.48 L320.01 481.43 L320.65 479.37 L321.29 477.3 L321.92 475.23 L322.56 473.16 L323.19 471.11 L323.83 469.09 L324.47 467.1 L325.1 465.15 L325.74 463.25 L326.38 461.4 L327.01 459.62 L327.65 457.9 L328.29 456.26 L328.92 454.71 L329.56 453.24 L330.19 451.87 L330.83 450.6 L331.47 449.43 L332.1 448.38 L332.74 447.44 L333.38 446.61 L334.01 445.91 L334.65 445.33 L335.28 444.88 L335.92 444.56 L336.56 444.36 L337.19 444.3 L337.83 444.36 L338.47 444.56 L339.1 444.88 L339.74 445.33 L340.37 445.91 L341.01 446.61 L341.65 447.44 L342.28 448.38 L342.92 449.43 L343.56 450.6 L344.19 451.87 L344.83 453.24 L345.47 454.71 L346.1 456.26 L346.74 457.9 L347.37 459.62 L348.01 461.4 L348.65 463.25 L349.28 465.15 L349.92 467.1 L350.56 469.09 L351.19 471.11 L351.83 473.16 L352.46 475.23 L353.1 477.3 L353.74 479.37 L354.37 481.43 L355.01 483.48 L355.65 485.51 L356.28 487.5 L356.92 489.45 L357.55 491.35 L358.19 493.2 L358.83 494.98 L359.46 496.7 L360.1 498.33 L360.74 499.89 L361.37 501.36 L362.01 502.73 L362.65 504 L363.28 505.16 L363.92 506.22 L364.55 507.16 L365.19 507.98 L365.83 508.68 L366.46 509.26 L367.1 509.72 L367.74 510.04 L368.37 510.23 L369.01 510.3 L369.64 510.23 L370.28 510.04 L370.92 509.72 L371.55 509.26 L372.19 508.68 L372.83 507.98 L373.46 507.16 L374.1 506.22 L374.73 505.16 L375.37 504 L376.01 502.73 L376.64 501.36 L377.28 499.89 L377.92 498.33 L378.55 496.7 L379.19 494.98 L379.83 493.2 L380.46 491.35 L381.1 489.45 L381.73 487.5 L382.37 485.51 L383.01 483.48 L383.64 481.43 L384.28 479.37 L384.92 477.3 L385.55 475.23 L386.19 473.16 L386.82 471.11 L387.46 469.09 L388.1 467.1 L388.73 465.15 L389.37 463.25 L390.01 461.4 L390.64 459.62 L391.28 457.9 L391.91 456.26 L392.55 454.71 L393.19 453.24 L393.82 451.87 L394.46 450.6 L395.1 449.43 L395.73 448.38 L396.37 447.44 L397.01 446.61 L397.64 445.91 L398.28 445.33 L398.91 444.88 L399.55 444.56 L400.19 444.36 L400.82 444.3 L401.46 444.36 L402.1 444.56 L402.73 444.88 L403.37 445.33 L404 445.91 L404.64 446.61 L405.28 447.44 L405.91 448.38 L406.55 449.43 L407.19 450.6 L407.82 451.87 L408.46 453.24 L409.09 454.71 L409.73 456.26 L410.37 457.9 L411 459.62 L411.64 461.4 L412.28 463.25 L412.91 465.15 L413.55 467.1 L414.19 469.09 L414.82 471.11 L415.46 473.16 L416.09 475.23 L416.73 477.3 L417.37 479.37 L418 481.43 L418.64 483.48 L419.28 485.51 L419.91 487.5 L420.55 489.45 L421.18 491.35 L421.82 493.2 L422.46 494.98 L423.09 496.7 L423.73 498.33 L424.37 499.89 L425 501.36 L425.64 502.73 L426.27 504 L426.91 505.16 L427.55 506.22 L428.18 507.16 L428.82 507.98 L429.46 508.68 L430.09 509.26 L430.73 509.72 L431.37 510.04 L432 510.23 L432.64 510.3 L433.27 510.23 L433.91 510.04 L434.55 509.72 L435.18 509.26 L435.82 508.68 L436.46 507.98 L437.09 507.16 L437.73 506.22 L438.36 505.16 L439 504 L439.64 502.73 L440.27 501.36 L440.91 499.89 L441.55 498.33 L442.18 496.7 L442.82 494.98 L443.45 493.2 L444.09 491.35 L444.73 489.45 L445.36 487.5 L446 485.51" fill="none" stroke="#D95319" stroke-width="1.5" stroke-linejoin="round" stroke-linecap="round" />
<path d="M267.92 454.74 L270.3 454.74 L271.89 452.17 L274.28 452.17 L275.87 444.87 L278.26 444.87 L279.85 433.95 L282.23 433.95 L283.82 421.06 L286.21 421.06 L287.8 408.17 L290.19 408.17 L291.78 397.25 L294.16 397.25 L295.75 389.95 L298.14 389.95 L299.73 387.39 L302.12 387.39 L303.71 389.95 L306.09 389.95 L307.69 397.25 L310.07 397.25 L311.66 408.17 L314.05 408.17 L315.64 421.06 L318.02 421.06 L319.62 433.95 L322 433.95 L323.59 444.87 L325.98 444.87 L327.57 452.17 L329.96 452.17 L331.55 454.74 L333.93 454.74 L335.52 452.17 L337.91 452.17 L339.5 444.87 L341.89 444.87 L343.48 433.95 L345.86 433.95 L347.45 421.06 L349.84 421.06 L351.43 408.17 L353.82 408.17 L355.41 397.25 L357.79 397.25 L359.38 389.95 L361.77 389.95 L363.36 387.39 L365.75 387.39 L367.34 389.95 L369.72 389.95 L371.31 397.25 L373.7 397.25 L375.29 408.17 L377.68 408.17 L379.27 421.06 L381.65 421.06 L383.25 433.95 L385.63 433.95 L387.22 444.87 L389.61 444.87 L391.2 452.17 L393.59 452.17 L395.18 454.74 L397.56 454.74 L399.15 452.17 L401.54 452.17 L403.13 444.87 L405.52 444.87 L407.11 433.95 L409.49 433.95 L411.08 421.06 L413.47 421.06 L415.06 408.17 L417.45 408.17 L419.04 397.25 L421.42 397.25 L423.01 389.95 L425.4 389.95 L426.99 387.39 L429.38 387.39 L430.97 389.95 L433.35 389.95 L434.94 397.25 L437.33 397.25 L438.92 408.17 L441.31 408.17 L442.9 421.06 L445.28 421.06 L446.87 433.95 L449.26 433.95 L450.85 444.87 L453.24 444.87" fill="none" stroke="#0072BD" stroke-width="1.7" stroke-linejoin="round" stroke-linecap="round" stroke-linejoin="miter"/>
<path d="M274.2 383.13 L274.84 383.48 L275.47 384.07 L276.11 384.89 L276.75 385.94 L277.38 387.22 L278.02 388.71 L278.65 390.42 L279.29 392.34 L279.93 394.46 L280.56 396.76 L281.2 399.25 L281.84 401.92 L282.47 404.74 L283.11 407.72 L283.74 410.83 L284.38 414.07 L285.02 417.43 L285.65 420.88 L286.29 424.43 L286.93 428.04 L287.56 431.72 L288.2 435.44 L288.83 439.19 L289.47 442.95 L290.11 446.71 L290.74 450.46 L291.38 454.18 L292.02 457.86 L292.65 461.47 L293.29 465.02 L293.93 468.47 L294.56 471.83 L295.2 475.07 L295.83 478.18 L296.47 481.16 L297.11 483.98 L297.74 486.65 L298.38 489.14 L299.02 491.44 L299.65 493.56 L300.29 495.48 L300.92 497.19 L301.56 498.68 L302.2 499.96 L302.83 501.01 L303.47 501.83 L304.11 502.42 L304.74 502.77 L305.38 502.89 L306.01 502.77 L306.65 502.42 L307.29 501.83 L307.92 501.01 L308.56 499.96 L309.2 498.68 L309.83 497.19 L310.47 495.48 L311.11 493.56 L311.74 491.44 L312.38 489.14 L313.01 486.65 L313.65 483.98 L314.29 481.16 L314.92 478.18 L315.56 475.07 L316.2 471.83 L316.83 468.47 L317.47 465.02 L318.1 461.47 L318.74 457.86 L319.38 454.18 L320.01 450.46 L320.65 446.71 L321.29 442.95 L321.92 439.19 L322.56 435.44 L323.19 431.72 L323.83 428.04 L324.47 424.43 L325.1 420.88 L325.74 417.43 L326.38 414.07 L327.01 410.83 L327.65 407.72 L328.29 404.74 L328.92 401.92 L329.56 399.25 L330.19 396.76 L330.83 394.46 L331.47 392.34 L332.1 390.42 L332.74 388.71 L333.38 387.22 L334.01 385.94 L334.65 384.89 L335.28 384.07 L335.92 383.48 L336.56 383.13 L337.19 383.01 L337.83 383.13 L338.47 383.48 L339.1 384.07 L339.74 384.89 L340.37 385.94 L341.01 387.22 L341.65 388.71 L342.28 390.42 L342.92 392.34 L343.56 394.46 L344.19 396.76 L344.83 399.25 L345.47 401.92 L346.1 404.74 L346.74 407.72 L347.37 410.83 L348.01 414.07 L348.65 417.43 L349.28 420.88 L349.92 424.43 L350.56 428.04 L351.19 431.72 L351.83 435.44 L352.46 439.19 L353.1 442.95 L353.74 446.71 L354.37 450.46 L355.01 454.18 L355.65 457.86 L356.28 461.47 L356.92 465.02 L357.55 468.47 L358.19 471.83 L358.83 475.07 L359.46 478.18 L360.1 481.16 L360.74 483.98 L361.37 486.65 L362.01 489.14 L362.65 491.44 L363.28 493.56 L363.92 495.48 L364.55 497.19 L365.19 498.68 L365.83 499.96 L366.46 501.01 L367.1 501.83 L367.74 502.42 L368.37 502.77 L369.01 502.89 L369.64 502.77 L370.28 502.42 L370.92 501.83 L371.55 501.01 L372.19 499.96 L372.83 498.68 L373.46 497.19 L374.1 495.48 L374.73 493.56 L375.37 491.44 L376.01 489.14 L376.64 486.65 L377.28 483.98 L377.92 481.16 L378.55 478.18 L379.19 475.07 L379.83 471.83 L380.46 468.47 L381.1 465.02 L381.73 461.47 L382.37 457.86 L383.01 454.18 L383.64 450.46 L384.28 446.71 L384.92 442.95 L385.55 439.19 L386.19 435.44 L386.82 431.72 L387.46 428.04 L388.1 424.43 L388.73 420.88 L389.37 417.43 L390.01 414.07 L390.64 410.83 L391.28 407.72 L391.91 404.74 L392.55 401.92 L393.19 399.25 L393.82 396.76 L394.46 394.46 L395.1 392.34 L395.73 390.42 L396.37 388.71 L397.01 387.22 L397.64 385.94 L398.28 384.89 L398.91 384.07 L399.55 383.48 L400.19 383.13 L400.82 383.01 L401.46 383.13 L402.1 383.48 L402.73 384.07 L403.37 384.89 L404 385.94 L404.64 387.22 L405.28 388.71 L405.91 390.42 L406.55 392.34 L407.19 394.46 L407.82 396.76 L408.46 399.25 L409.09 401.92 L409.73 404.74 L410.37 407.72 L411 410.83 L411.64 414.07 L412.28 417.43 L412.91 420.88 L413.55 424.43 L414.19 428.04 L414.82 431.72 L415.46 435.44 L416.09 439.19 L416.73 442.95 L417.37 446.71 L418 450.46 L418.64 454.18 L419.28 457.86 L419.91 461.47 L420.55 465.02 L421.18 468.47 L421.82 471.83 L422.46 475.07 L423.09 478.18 L423.73 481.16 L424.37 483.98 L425 486.65 L425.64 489.14 L426.27 491.44 L426.91 493.56 L427.55 495.48 L428.18 497.19 L428.82 498.68 L429.46 499.96 L430.09 501.01 L430.73 501.83 L431.37 502.42 L432 502.77 L432.64 502.89 L433.27 502.77 L433.91 502.42 L434.55 501.83 L435.18 501.01 L435.82 499.96 L436.46 498.68 L437.09 497.19 L437.73 495.48 L438.36 493.56 L439 491.44 L439.64 489.14 L440.27 486.65 L440.91 483.98 L441.55 481.16 L442.18 478.18 L442.82 475.07 L443.45 471.83 L444.09 468.47 L444.73 465.02 L445.36 461.47 L446 457.86" fill="none" stroke="#EDB120" stroke-width="0.85" stroke-linejoin="round" stroke-linecap="round" opacity="0.8"/>
<path d="M274.2 390.52 L274.84 390.83 L275.47 391.35 L276.11 392.07 L276.75 392.99 L277.38 394.11 L278.02 395.42 L278.65 396.91 L279.29 398.59 L279.93 400.45 L280.56 402.47 L281.2 404.66 L281.84 406.99 L282.47 409.46 L283.11 412.07 L283.74 414.8 L284.38 417.64 L285.02 420.58 L285.65 423.61 L286.29 426.72 L286.93 429.89 L287.56 433.11 L288.2 436.37 L288.83 439.65 L289.47 442.95 L290.11 446.25 L290.74 449.53 L291.38 452.79 L292.02 456.01 L292.65 459.18 L293.29 462.29 L293.93 465.32 L294.56 468.26 L295.2 471.1 L295.83 473.83 L296.47 476.44 L297.11 478.91 L297.74 481.24 L298.38 483.43 L299.02 485.45 L299.65 487.31 L300.29 488.99 L300.92 490.48 L301.56 491.79 L302.2 492.91 L302.83 493.83 L303.47 494.55 L304.11 495.07 L304.74 495.38 L305.38 495.48 L306.01 495.38 L306.65 495.07 L307.29 494.55 L307.92 493.83 L308.56 492.91 L309.2 491.79 L309.83 490.48 L310.47 488.99 L311.11 487.31 L311.74 485.45 L312.38 483.43 L313.01 481.24 L313.65 478.91 L314.29 476.44 L314.92 473.83 L315.56 471.1 L316.2 468.26 L316.83 465.32 L317.47 462.29 L318.1 459.18 L318.74 456.01 L319.38 452.79 L320.01 449.53 L320.65 446.25 L321.29 442.95 L321.92 439.65 L322.56 436.37 L323.19 433.11 L323.83 429.89 L324.47 426.72 L325.1 423.61 L325.74 420.58 L326.38 417.64 L327.01 414.8 L327.65 412.07 L328.29 409.46 L328.92 406.99 L329.56 404.66 L330.19 402.47 L330.83 400.45 L331.47 398.59 L332.1 396.91 L332.74 395.42 L333.38 394.11 L334.01 392.99 L334.65 392.07 L335.28 391.35 L335.92 390.83 L336.56 390.52 L337.19 390.42 L337.83 390.52 L338.47 390.83 L339.1 391.35 L339.74 392.07 L340.37 392.99 L341.01 394.11 L341.65 395.42 L342.28 396.91 L342.92 398.59 L343.56 400.45 L344.19 402.47 L344.83 404.66 L345.47 406.99 L346.1 409.46 L346.74 412.07 L347.37 414.8 L348.01 417.64 L348.65 420.58 L349.28 423.61 L349.92 426.72 L350.56 429.89 L351.19 433.11 L351.83 436.37 L352.46 439.65 L353.1 442.95 L353.74 446.25 L354.37 449.53 L355.01 452.79 L355.65 456.01 L356.28 459.18 L356.92 462.29 L357.55 465.32 L358.19 468.26 L358.83 471.1 L359.46 473.83 L360.1 476.44 L360.74 478.91 L361.37 481.24 L362.01 483.43 L362.65 485.45 L363.28 487.31 L363.92 488.99 L364.55 490.48 L365.19 491.79 L365.83 492.91 L366.46 493.83 L367.1 494.55 L367.74 495.07 L368.37 495.38 L369.01 495.48 L369.64 495.38 L370.28 495.07 L370.92 494.55 L371.55 493.83 L372.19 492.91 L372.83 491.79 L373.46 490.48 L374.1 488.99 L374.73 487.31 L375.37 485.45 L376.01 483.43 L376.64 481.24 L377.28 478.91 L377.92 476.44 L378.55 473.83 L379.19 471.1 L379.83 468.26 L380.46 465.32 L381.1 462.29 L381.73 459.18 L382.37 456.01 L383.01 452.79 L383.64 449.53 L384.28 446.25 L384.92 442.95 L385.55 439.65 L386.19 436.37 L386.82 433.11 L387.46 429.89 L388.1 426.72 L388.73 423.61 L389.37 420.58 L390.01 417.64 L390.64 414.8 L391.28 412.07 L391.91 409.46 L392.55 406.99 L393.19 404.66 L393.82 402.47 L394.46 400.45 L395.1 398.59 L395.73 396.91 L396.37 395.42 L397.01 394.11 L397.64 392.99 L398.28 392.07 L398.91 391.35 L399.55 390.83 L400.19 390.52 L400.82 390.42 L401.46 390.52 L402.1 390.83 L402.73 391.35 L403.37 392.07 L404 392.99 L404.64 394.11 L405.28 395.42 L405.91 396.91 L406.55 398.59 L407.19 400.45 L407.82 402.47 L408.46 404.66 L409.09 406.99 L409.73 409.46 L410.37 412.07 L411 414.8 L411.64 417.64 L412.28 420.58 L412.91 423.61 L413.55 426.72 L414.19 429.89 L414.82 433.11 L415.46 436.37 L416.09 439.65 L416.73 442.95 L417.37 446.25 L418 449.53 L418.64 452.79 L419.28 456.01 L419.91 459.18 L420.55 462.29 L421.18 465.32 L421.82 468.26 L422.46 471.1 L423.09 473.83 L423.73 476.44 L424.37 478.91 L425 481.24 L425.64 483.43 L426.27 485.45 L426.91 487.31 L427.55 488.99 L428.18 490.48 L428.82 491.79 L429.46 492.91 L430.09 493.83 L430.73 494.55 L431.37 495.07 L432 495.38 L432.64 495.48 L433.27 495.38 L433.91 495.07 L434.55 494.55 L435.18 493.83 L435.82 492.91 L436.46 491.79 L437.09 490.48 L437.73 488.99 L438.36 487.31 L439 485.45 L439.64 483.43 L440.27 481.24 L440.91 478.91 L441.55 476.44 L442.18 473.83 L442.82 471.1 L443.45 468.26 L444.09 465.32 L444.73 462.29 L445.36 459.18 L446 456.01" fill="none" stroke="#EDB120" stroke-width="0.85" stroke-linejoin="round" stroke-linecap="round" opacity="0.8" stroke-dasharray="3.4 2.4"/>
<path d="M274.2 399.93 L274.84 400.19 L275.47 400.61 L276.11 401.2 L276.75 401.96 L277.38 402.87 L278.02 403.95 L278.65 405.18 L279.29 406.56 L279.93 408.08 L280.56 409.74 L281.2 411.53 L281.84 413.44 L282.47 415.47 L283.11 417.61 L283.74 419.85 L284.38 422.18 L285.02 424.6 L285.65 427.08 L286.29 429.63 L286.93 432.23 L287.56 434.87 L288.2 437.55 L288.83 440.24 L289.47 442.95 L290.11 445.66 L290.74 448.35 L291.38 451.03 L292.02 453.67 L292.65 456.27 L293.29 458.82 L293.93 461.3 L294.56 463.72 L295.2 466.05 L295.83 468.29 L296.47 470.43 L297.11 472.46 L297.74 474.37 L298.38 476.16 L299.02 477.82 L299.65 479.34 L300.29 480.72 L300.92 481.95 L301.56 483.03 L302.2 483.94 L302.83 484.7 L303.47 485.29 L304.11 485.71 L304.74 485.97 L305.38 486.05 L306.01 485.97 L306.65 485.71 L307.29 485.29 L307.92 484.7 L308.56 483.94 L309.2 483.03 L309.83 481.95 L310.47 480.72 L311.11 479.34 L311.74 477.82 L312.38 476.16 L313.01 474.37 L313.65 472.46 L314.29 470.43 L314.92 468.29 L315.56 466.05 L316.2 463.72 L316.83 461.3 L317.47 458.82 L318.1 456.27 L318.74 453.67 L319.38 451.03 L320.01 448.35 L320.65 445.66 L321.29 442.95 L321.92 440.24 L322.56 437.55 L323.19 434.87 L323.83 432.23 L324.47 429.63 L325.1 427.08 L325.74 424.6 L326.38 422.18 L327.01 419.85 L327.65 417.61 L328.29 415.47 L328.92 413.44 L329.56 411.53 L330.19 409.74 L330.83 408.08 L331.47 406.56 L332.1 405.18 L332.74 403.95 L333.38 402.87 L334.01 401.96 L334.65 401.2 L335.28 400.61 L335.92 400.19 L336.56 399.93 L337.19 399.85 L337.83 399.93 L338.47 400.19 L339.1 400.61 L339.74 401.2 L340.37 401.96 L341.01 402.87 L341.65 403.95 L342.28 405.18 L342.92 406.56 L343.56 408.08 L344.19 409.74 L344.83 411.53 L345.47 413.44 L346.1 415.47 L346.74 417.61 L347.37 419.85 L348.01 422.18 L348.65 424.6 L349.28 427.08 L349.92 429.63 L350.56 432.23 L351.19 434.87 L351.83 437.55 L352.46 440.24 L353.1 442.95 L353.74 445.66 L354.37 448.35 L355.01 451.03 L355.65 453.67 L356.28 456.27 L356.92 458.82 L357.55 461.3 L358.19 463.72 L358.83 466.05 L359.46 468.29 L360.1 470.43 L360.74 472.46 L361.37 474.37 L362.01 476.16 L362.65 477.82 L363.28 479.34 L363.92 480.72 L364.55 481.95 L365.19 483.03 L365.83 483.94 L366.46 484.7 L367.1 485.29 L367.74 485.71 L368.37 485.97 L369.01 486.05 L369.64 485.97 L370.28 485.71 L370.92 485.29 L371.55 484.7 L372.19 483.94 L372.83 483.03 L373.46 481.95 L374.1 480.72 L374.73 479.34 L375.37 477.82 L376.01 476.16 L376.64 474.37 L377.28 472.46 L377.92 470.43 L378.55 468.29 L379.19 466.05 L379.83 463.72 L380.46 461.3 L381.1 458.82 L381.73 456.27 L382.37 453.67 L383.01 451.03 L383.64 448.35 L384.28 445.66 L384.92 442.95 L385.55 440.24 L386.19 437.55 L386.82 434.87 L387.46 432.23 L388.1 429.63 L388.73 427.08 L389.37 424.6 L390.01 422.18 L390.64 419.85 L391.28 417.61 L391.91 415.47 L392.55 413.44 L393.19 411.53 L393.82 409.74 L394.46 408.08 L395.1 406.56 L395.73 405.18 L396.37 403.95 L397.01 402.87 L397.64 401.96 L398.28 401.2 L398.91 400.61 L399.55 400.19 L400.19 399.93 L400.82 399.85 L401.46 399.93 L402.1 400.19 L402.73 400.61 L403.37 401.2 L404 401.96 L404.64 402.87 L405.28 403.95 L405.91 405.18 L406.55 406.56 L407.19 408.08 L407.82 409.74 L408.46 411.53 L409.09 413.44 L409.73 415.47 L410.37 417.61 L411 419.85 L411.64 422.18 L412.28 424.6 L412.91 427.08 L413.55 429.63 L414.19 432.23 L414.82 434.87 L415.46 437.55 L416.09 440.24 L416.73 442.95 L417.37 445.66 L418 448.35 L418.64 451.03 L419.28 453.67 L419.91 456.27 L420.55 458.82 L421.18 461.3 L421.82 463.72 L422.46 466.05 L423.09 468.29 L423.73 470.43 L424.37 472.46 L425 474.37 L425.64 476.16 L426.27 477.82 L426.91 479.34 L427.55 480.72 L428.18 481.95 L428.82 483.03 L429.46 483.94 L430.09 484.7 L430.73 485.29 L431.37 485.71 L432 485.97 L432.64 486.05 L433.27 485.97 L433.91 485.71 L434.55 485.29 L435.18 484.7 L435.82 483.94 L436.46 483.03 L437.09 481.95 L437.73 480.72 L438.36 479.34 L439 477.82 L439.64 476.16 L440.27 474.37 L440.91 472.46 L441.55 470.43 L442.18 468.29 L442.82 466.05 L443.45 463.72 L444.09 461.3 L444.73 458.82 L445.36 456.27 L446 453.67" fill="none" stroke="#EDB120" stroke-width="0.85" stroke-linejoin="round" stroke-linecap="round" opacity="0.7" stroke-dasharray="0.6 0.9"/>
<path d="M274.2 408 L274.84 408.2 L275.47 408.55 L276.11 409.03 L276.75 409.64 L277.38 410.39 L278.02 411.26 L278.65 412.26 L279.29 413.38 L279.93 414.62 L280.56 415.97 L281.2 417.42 L281.84 418.98 L282.47 420.63 L283.11 422.36 L283.74 424.18 L284.38 426.08 L285.02 428.04 L285.65 430.06 L286.29 432.13 L286.93 434.24 L287.56 436.39 L288.2 438.56 L288.83 440.75 L289.47 442.95 L290.11 445.15 L290.74 447.34 L291.38 449.51 L292.02 451.66 L292.65 453.77 L293.29 455.84 L293.93 457.86 L294.56 459.82 L295.2 461.72 L295.83 463.54 L296.47 465.27 L297.11 466.92 L297.74 468.48 L298.38 469.93 L299.02 471.28 L299.65 472.52 L300.29 473.64 L300.92 474.64 L301.56 475.51 L302.2 476.26 L302.83 476.87 L303.47 477.35 L304.11 477.7 L304.74 477.9 L305.38 477.97 L306.01 477.9 L306.65 477.7 L307.29 477.35 L307.92 476.87 L308.56 476.26 L309.2 475.51 L309.83 474.64 L310.47 473.64 L311.11 472.52 L311.74 471.28 L312.38 469.93 L313.01 468.48 L313.65 466.92 L314.29 465.27 L314.92 463.54 L315.56 461.72 L316.2 459.82 L316.83 457.86 L317.47 455.84 L318.1 453.77 L318.74 451.66 L319.38 449.51 L320.01 447.34 L320.65 445.15 L321.29 442.95 L321.92 440.75 L322.56 438.56 L323.19 436.39 L323.83 434.24 L324.47 432.13 L325.1 430.06 L325.74 428.04 L326.38 426.08 L327.01 424.18 L327.65 422.36 L328.29 420.63 L328.92 418.98 L329.56 417.42 L330.19 415.97 L330.83 414.62 L331.47 413.38 L332.1 412.26 L332.74 411.26 L333.38 410.39 L334.01 409.64 L334.65 409.03 L335.28 408.55 L335.92 408.2 L336.56 408 L337.19 407.93 L337.83 408 L338.47 408.2 L339.1 408.55 L339.74 409.03 L340.37 409.64 L341.01 410.39 L341.65 411.26 L342.28 412.26 L342.92 413.38 L343.56 414.62 L344.19 415.97 L344.83 417.42 L345.47 418.98 L346.1 420.63 L346.74 422.36 L347.37 424.18 L348.01 426.08 L348.65 428.04 L349.28 430.06 L349.92 432.13 L350.56 434.24 L351.19 436.39 L351.83 438.56 L352.46 440.75 L353.1 442.95 L353.74 445.15 L354.37 447.34 L355.01 449.51 L355.65 451.66 L356.28 453.77 L356.92 455.84 L357.55 457.86 L358.19 459.82 L358.83 461.72 L359.46 463.54 L360.1 465.27 L360.74 466.92 L361.37 468.48 L362.01 469.93 L362.65 471.28 L363.28 472.52 L363.92 473.64 L364.55 474.64 L365.19 475.51 L365.83 476.26 L366.46 476.87 L367.1 477.35 L367.74 477.7 L368.37 477.9 L369.01 477.97 L369.64 477.9 L370.28 477.7 L370.92 477.35 L371.55 476.87 L372.19 476.26 L372.83 475.51 L373.46 474.64 L374.1 473.64 L374.73 472.52 L375.37 471.28 L376.01 469.93 L376.64 468.48 L377.28 466.92 L377.92 465.27 L378.55 463.54 L379.19 461.72 L379.83 459.82 L380.46 457.86 L381.1 455.84 L381.73 453.77 L382.37 451.66 L383.01 449.51 L383.64 447.34 L384.28 445.15 L384.92 442.95 L385.55 440.75 L386.19 438.56 L386.82 436.39 L387.46 434.24 L388.1 432.13 L388.73 430.06 L389.37 428.04 L390.01 426.08 L390.64 424.18 L391.28 422.36 L391.91 420.63 L392.55 418.98 L393.19 417.42 L393.82 415.97 L394.46 414.62 L395.1 413.38 L395.73 412.26 L396.37 411.26 L397.01 410.39 L397.64 409.64 L398.28 409.03 L398.91 408.55 L399.55 408.2 L400.19 408 L400.82 407.93 L401.46 408 L402.1 408.2 L402.73 408.55 L403.37 409.03 L404 409.64 L404.64 410.39 L405.28 411.26 L405.91 412.26 L406.55 413.38 L407.19 414.62 L407.82 415.97 L408.46 417.42 L409.09 418.98 L409.73 420.63 L410.37 422.36 L411 424.18 L411.64 426.08 L412.28 428.04 L412.91 430.06 L413.55 432.13 L414.19 434.24 L414.82 436.39 L415.46 438.56 L416.09 440.75 L416.73 442.95 L417.37 445.15 L418 447.34 L418.64 449.51 L419.28 451.66 L419.91 453.77 L420.55 455.84 L421.18 457.86 L421.82 459.82 L422.46 461.72 L423.09 463.54 L423.73 465.27 L424.37 466.92 L425 468.48 L425.64 469.93 L426.27 471.28 L426.91 472.52 L427.55 473.64 L428.18 474.64 L428.82 475.51 L429.46 476.26 L430.09 476.87 L430.73 477.35 L431.37 477.7 L432 477.9 L432.64 477.97 L433.27 477.9 L433.91 477.7 L434.55 477.35 L435.18 476.87 L435.82 476.26 L436.46 475.51 L437.09 474.64 L437.73 473.64 L438.36 472.52 L439 471.28 L439.64 469.93 L440.27 468.48 L440.91 466.92 L441.55 465.27 L442.18 463.54 L442.82 461.72 L443.45 459.82 L444.09 457.86 L444.73 455.84 L445.36 453.77 L446 451.66" fill="none" stroke="#EDB120" stroke-width="0.85" stroke-linejoin="round" stroke-linecap="round" opacity="0.75" stroke-dasharray="3 1.2 0.8 1.2"/>
<path d="M274.2 417.74 L274.84 417.89 L275.47 418.14 L276.11 418.49 L276.75 418.93 L277.38 419.47 L278.02 420.1 L278.65 420.82 L279.29 421.63 L279.93 422.52 L280.56 423.49 L281.2 424.54 L281.84 425.66 L282.47 426.85 L283.11 428.1 L283.74 429.42 L284.38 430.78 L285.02 432.2 L285.65 433.65 L286.29 435.15 L286.93 436.67 L287.56 438.22 L288.2 439.78 L288.83 441.36 L289.47 442.95 L290.11 444.54 L290.74 446.12 L291.38 447.68 L292.02 449.23 L292.65 450.75 L293.29 452.25 L293.93 453.7 L294.56 455.12 L295.2 456.48 L295.83 457.8 L296.47 459.05 L297.11 460.24 L297.74 461.36 L298.38 462.41 L299.02 463.38 L299.65 464.27 L300.29 465.08 L300.92 465.8 L301.56 466.43 L302.2 466.97 L302.83 467.41 L303.47 467.76 L304.11 468.01 L304.74 468.16 L305.38 468.21 L306.01 468.16 L306.65 468.01 L307.29 467.76 L307.92 467.41 L308.56 466.97 L309.2 466.43 L309.83 465.8 L310.47 465.08 L311.11 464.27 L311.74 463.38 L312.38 462.41 L313.01 461.36 L313.65 460.24 L314.29 459.05 L314.92 457.8 L315.56 456.48 L316.2 455.12 L316.83 453.7 L317.47 452.25 L318.1 450.75 L318.74 449.23 L319.38 447.68 L320.01 446.12 L320.65 444.54 L321.29 442.95 L321.92 441.36 L322.56 439.78 L323.19 438.22 L323.83 436.67 L324.47 435.15 L325.1 433.65 L325.74 432.2 L326.38 430.78 L327.01 429.42 L327.65 428.1 L328.29 426.85 L328.92 425.66 L329.56 424.54 L330.19 423.49 L330.83 422.52 L331.47 421.63 L332.1 420.82 L332.74 420.1 L333.38 419.47 L334.01 418.93 L334.65 418.49 L335.28 418.14 L335.92 417.89 L336.56 417.74 L337.19 417.69 L337.83 417.74 L338.47 417.89 L339.1 418.14 L339.74 418.49 L340.37 418.93 L341.01 419.47 L341.65 420.1 L342.28 420.82 L342.92 421.63 L343.56 422.52 L344.19 423.49 L344.83 424.54 L345.47 425.66 L346.1 426.85 L346.74 428.1 L347.37 429.42 L348.01 430.78 L348.65 432.2 L349.28 433.65 L349.92 435.15 L350.56 436.67 L351.19 438.22 L351.83 439.78 L352.46 441.36 L353.1 442.95 L353.74 444.54 L354.37 446.12 L355.01 447.68 L355.65 449.23 L356.28 450.75 L356.92 452.25 L357.55 453.7 L358.19 455.12 L358.83 456.48 L359.46 457.8 L360.1 459.05 L360.74 460.24 L361.37 461.36 L362.01 462.41 L362.65 463.38 L363.28 464.27 L363.92 465.08 L364.55 465.8 L365.19 466.43 L365.83 466.97 L366.46 467.41 L367.1 467.76 L367.74 468.01 L368.37 468.16 L369.01 468.21 L369.64 468.16 L370.28 468.01 L370.92 467.76 L371.55 467.41 L372.19 466.97 L372.83 466.43 L373.46 465.8 L374.1 465.08 L374.73 464.27 L375.37 463.38 L376.01 462.41 L376.64 461.36 L377.28 460.24 L377.92 459.05 L378.55 457.8 L379.19 456.48 L379.83 455.12 L380.46 453.7 L381.1 452.25 L381.73 450.75 L382.37 449.23 L383.01 447.68 L383.64 446.12 L384.28 444.54 L384.92 442.95 L385.55 441.36 L386.19 439.78 L386.82 438.22 L387.46 436.67 L388.1 435.15 L388.73 433.65 L389.37 432.2 L390.01 430.78 L390.64 429.42 L391.28 428.1 L391.91 426.85 L392.55 425.66 L393.19 424.54 L393.82 423.49 L394.46 422.52 L395.1 421.63 L395.73 420.82 L396.37 420.1 L397.01 419.47 L397.64 418.93 L398.28 418.49 L398.91 418.14 L399.55 417.89 L400.19 417.74 L400.82 417.69 L401.46 417.74 L402.1 417.89 L402.73 418.14 L403.37 418.49 L404 418.93 L404.64 419.47 L405.28 420.1 L405.91 420.82 L406.55 421.63 L407.19 422.52 L407.82 423.49 L408.46 424.54 L409.09 425.66 L409.73 426.85 L410.37 428.1 L411 429.42 L411.64 430.78 L412.28 432.2 L412.91 433.65 L413.55 435.15 L414.19 436.67 L414.82 438.22 L415.46 439.78 L416.09 441.36 L416.73 442.95 L417.37 444.54 L418 446.12 L418.64 447.68 L419.28 449.23 L419.91 450.75 L420.55 452.25 L421.18 453.7 L421.82 455.12 L422.46 456.48 L423.09 457.8 L423.73 459.05 L424.37 460.24 L425 461.36 L425.64 462.41 L426.27 463.38 L426.91 464.27 L427.55 465.08 L428.18 465.8 L428.82 466.43 L429.46 466.97 L430.09 467.41 L430.73 467.76 L431.37 468.01 L432 468.16 L432.64 468.21 L433.27 468.16 L433.91 468.01 L434.55 467.76 L435.18 467.41 L435.82 466.97 L436.46 466.43 L437.09 465.8 L437.73 465.08 L438.36 464.27 L439 463.38 L439.64 462.41 L440.27 461.36 L440.91 460.24 L441.55 459.05 L442.18 457.8 L442.82 456.48 L443.45 455.12 L444.09 453.7 L444.73 452.25 L445.36 450.75 L446 449.23" fill="none" stroke="#EDB120" stroke-width="4.6" stroke-linejoin="round" stroke-linecap="round" opacity="0.95"/>
<path d="M274.2 421.1 L274.84 421.23 L275.47 421.45 L276.11 421.75 L276.75 422.13 L277.38 422.6 L278.02 423.14 L278.65 423.77 L279.29 424.47 L279.93 425.24 L280.56 426.08 L281.2 426.99 L281.84 427.97 L282.47 429 L283.11 430.08 L283.74 431.22 L284.38 432.41 L285.02 433.63 L285.65 434.89 L286.29 436.19 L286.93 437.51 L287.56 438.85 L288.2 440.21 L288.83 441.58 L289.47 442.95 L290.11 444.32 L290.74 445.69 L291.38 447.05 L292.02 448.39 L292.65 449.71 L293.29 451.01 L293.93 452.27 L294.56 453.49 L295.2 454.68 L295.83 455.82 L296.47 456.9 L297.11 457.93 L297.74 458.91 L298.38 459.82 L299.02 460.66 L299.65 461.43 L300.29 462.13 L300.92 462.76 L301.56 463.3 L302.2 463.77 L302.83 464.15 L303.47 464.45 L304.11 464.67 L304.74 464.8 L305.38 464.84 L306.01 464.8 L306.65 464.67 L307.29 464.45 L307.92 464.15 L308.56 463.77 L309.2 463.3 L309.83 462.76 L310.47 462.13 L311.11 461.43 L311.74 460.66 L312.38 459.82 L313.01 458.91 L313.65 457.93 L314.29 456.9 L314.92 455.82 L315.56 454.68 L316.2 453.49 L316.83 452.27 L317.47 451.01 L318.1 449.71 L318.74 448.39 L319.38 447.05 L320.01 445.69 L320.65 444.32 L321.29 442.95 L321.92 441.58 L322.56 440.21 L323.19 438.85 L323.83 437.51 L324.47 436.19 L325.1 434.89 L325.74 433.63 L326.38 432.41 L327.01 431.22 L327.65 430.08 L328.29 429 L328.92 427.97 L329.56 426.99 L330.19 426.08 L330.83 425.24 L331.47 424.47 L332.1 423.77 L332.74 423.14 L333.38 422.6 L334.01 422.13 L334.65 421.75 L335.28 421.45 L335.92 421.23 L336.56 421.1 L337.19 421.06 L337.83 421.1 L338.47 421.23 L339.1 421.45 L339.74 421.75 L340.37 422.13 L341.01 422.6 L341.65 423.14 L342.28 423.77 L342.92 424.47 L343.56 425.24 L344.19 426.08 L344.83 426.99 L345.47 427.97 L346.1 429 L346.74 430.08 L347.37 431.22 L348.01 432.41 L348.65 433.63 L349.28 434.89 L349.92 436.19 L350.56 437.51 L351.19 438.85 L351.83 440.21 L352.46 441.58 L353.1 442.95 L353.74 444.32 L354.37 445.69 L355.01 447.05 L355.65 448.39 L356.28 449.71 L356.92 451.01 L357.55 452.27 L358.19 453.49 L358.83 454.68 L359.46 455.82 L360.1 456.9 L360.74 457.93 L361.37 458.91 L362.01 459.82 L362.65 460.66 L363.28 461.43 L363.92 462.13 L364.55 462.76 L365.19 463.3 L365.83 463.77 L366.46 464.15 L367.1 464.45 L367.74 464.67 L368.37 464.8 L369.01 464.84 L369.64 464.8 L370.28 464.67 L370.92 464.45 L371.55 464.15 L372.19 463.77 L372.83 463.3 L373.46 462.76 L374.1 462.13 L374.73 461.43 L375.37 460.66 L376.01 459.82 L376.64 458.91 L377.28 457.93 L377.92 456.9 L378.55 455.82 L379.19 454.68 L379.83 453.49 L380.46 452.27 L381.1 451.01 L381.73 449.71 L382.37 448.39 L383.01 447.05 L383.64 445.69 L384.28 444.32 L384.92 442.95 L385.55 441.58 L386.19 440.21 L386.82 438.85 L387.46 437.51 L388.1 436.19 L388.73 434.89 L389.37 433.63 L390.01 432.41 L390.64 431.22 L391.28 430.08 L391.91 429 L392.55 427.97 L393.19 426.99 L393.82 426.08 L394.46 425.24 L395.1 424.47 L395.73 423.77 L396.37 423.14 L397.01 422.6 L397.64 422.13 L398.28 421.75 L398.91 421.45 L399.55 421.23 L400.19 421.1 L400.82 421.06 L401.46 421.1 L402.1 421.23 L402.73 421.45 L403.37 421.75 L404 422.13 L404.64 422.6 L405.28 423.14 L405.91 423.77 L406.55 424.47 L407.19 425.24 L407.82 426.08 L408.46 426.99 L409.09 427.97 L409.73 429 L410.37 430.08 L411 431.22 L411.64 432.41 L412.28 433.63 L412.91 434.89 L413.55 436.19 L414.19 437.51 L414.82 438.85 L415.46 440.21 L416.09 441.58 L416.73 442.95 L417.37 444.32 L418 445.69 L418.64 447.05 L419.28 448.39 L419.91 449.71 L420.55 451.01 L421.18 452.27 L421.82 453.49 L422.46 454.68 L423.09 455.82 L423.73 456.9 L424.37 457.93 L425 458.91 L425.64 459.82 L426.27 460.66 L426.91 461.43 L427.55 462.13 L428.18 462.76 L428.82 463.3 L429.46 463.77 L430.09 464.15 L430.73 464.45 L431.37 464.67 L432 464.8 L432.64 464.84 L433.27 464.8 L433.91 464.67 L434.55 464.45 L435.18 464.15 L435.82 463.77 L436.46 463.3 L437.09 462.76 L437.73 462.13 L438.36 461.43 L439 460.66 L439.64 459.82 L440.27 458.91 L440.91 457.93 L441.55 456.9 L442.18 455.82 L442.82 454.68 L443.45 453.49 L444.09 452.27 L444.73 451.01 L445.36 449.71 L446 448.39" fill="none" stroke="#EDB120" stroke-width="4.6" stroke-linejoin="round" stroke-linecap="round" opacity="0.95"/>
</g>
<line x1="24" y1="140" x2="24" y2="138.4" stroke="#969696" stroke-width="0.5"/>
<line x1="24" y1="6" x2="24" y2="7.6" stroke="#969696" stroke-width="0.5"/>
<line x1="49.74" y1="140" x2="49.74" y2="139.04" stroke="#969696" stroke-width="0.5"/>
<line x1="49.74" y1="6" x2="49.74" y2="6.96" stroke="#969696" stroke-width="0.5"/>
<line x1="64.79" y1="140" x2="64.79" y2="139.04" stroke="#969696" stroke-width="0.5"/>
<line x1="64.79" y1="6" x2="64.79" y2="6.96" stroke="#969696" stroke-width="0.5"/>
<line x1="75.48" y1="140" x2="75.48" y2="139.04" stroke="#969696" stroke-width="0.5"/>
<line x1="75.48" y1="6" x2="75.48" y2="6.96" stroke="#969696" stroke-width="0.5"/>
<line x1="83.76" y1="140" x2="83.76" y2="139.04" stroke="#969696" stroke-width="0.5"/>
<line x1="83.76" y1="6" x2="83.76" y2="6.96" stroke="#969696" stroke-width="0.5"/>
<line x1="90.53" y1="140" x2="90.53" y2="139.04" stroke="#969696" stroke-width="0.5"/>
<line x1="90.53" y1="6" x2="90.53" y2="6.96" stroke="#969696" stroke-width="0.5"/>
<line x1="96.26" y1="140" x2="96.26" y2="139.04" stroke="#969696" stroke-width="0.5"/>
<line x1="96.26" y1="6" x2="96.26" y2="6.96" stroke="#969696" stroke-width="0.5"/>
<line x1="101.21" y1="140" x2="101.21" y2="139.04" stroke="#969696" stroke-width="0.5"/>
<line x1="101.21" y1="6" x2="101.21" y2="6.96" stroke="#969696" stroke-width="0.5"/>
<line x1="105.59" y1="140" x2="105.59" y2="139.04" stroke="#969696" stroke-width="0.5"/>
<line x1="105.59" y1="6" x2="105.59" y2="6.96" stroke="#969696" stroke-width="0.5"/>
<line x1="109.5" y1="140" x2="109.5" y2="138.4" stroke="#969696" stroke-width="0.5"/>
<line x1="109.5" y1="6" x2="109.5" y2="7.6" stroke="#969696" stroke-width="0.5"/>
<line x1="135.24" y1="140" x2="135.24" y2="139.04" stroke="#969696" stroke-width="0.5"/>
<line x1="135.24" y1="6" x2="135.24" y2="6.96" stroke="#969696" stroke-width="0.5"/>
<line x1="150.29" y1="140" x2="150.29" y2="139.04" stroke="#969696" stroke-width="0.5"/>
<line x1="150.29" y1="6" x2="150.29" y2="6.96" stroke="#969696" stroke-width="0.5"/>
<line x1="160.98" y1="140" x2="160.98" y2="139.04" stroke="#969696" stroke-width="0.5"/>
<line x1="160.98" y1="6" x2="160.98" y2="6.96" stroke="#969696" stroke-width="0.5"/>
<line x1="169.26" y1="140" x2="169.26" y2="139.04" stroke="#969696" stroke-width="0.5"/>
<line x1="169.26" y1="6" x2="169.26" y2="6.96" stroke="#969696" stroke-width="0.5"/>
<line x1="176.03" y1="140" x2="176.03" y2="139.04" stroke="#969696" stroke-width="0.5"/>
<line x1="176.03" y1="6" x2="176.03" y2="6.96" stroke="#969696" stroke-width="0.5"/>
<line x1="181.76" y1="140" x2="181.76" y2="139.04" stroke="#969696" stroke-width="0.5"/>
<line x1="181.76" y1="6" x2="181.76" y2="6.96" stroke="#969696" stroke-width="0.5"/>
<line x1="186.71" y1="140" x2="186.71" y2="139.04" stroke="#969696" stroke-width="0.5"/>
<line x1="186.71" y1="6" x2="186.71" y2="6.96" stroke="#969696" stroke-width="0.5"/>
<line x1="191.09" y1="140" x2="191.09" y2="139.04" stroke="#969696" stroke-width="0.5"/>
<line x1="191.09" y1="6" x2="191.09" y2="6.96" stroke="#969696" stroke-width="0.5"/>
<line x1="24" y1="140" x2="25.6" y2="140" stroke="#969696" stroke-width="0.5"/>
<line x1="24" y1="126.55" x2="24.96" y2="126.55" stroke="#969696" stroke-width="0.5"/>
<line x1="24" y1="118.69" x2="24.96" y2="118.69" stroke="#969696" stroke-width="0.5"/>
<line x1="24" y1="113.11" x2="24.96" y2="113.11" stroke="#969696" stroke-width="0.5"/>
<line x1="24" y1="108.78" x2="24.96" y2="108.78" stroke="#969696" stroke-width="0.5"/>
<line x1="24" y1="105.24" x2="24.96" y2="105.24" stroke="#969696" stroke-width="0.5"/>
<line x1="24" y1="102.25" x2="24.96" y2="102.25" stroke="#969696" stroke-width="0.5"/>
<line x1="24" y1="99.66" x2="24.96" y2="99.66" stroke="#969696" stroke-width="0.5"/>
<line x1="24" y1="97.38" x2="24.96" y2="97.38" stroke="#969696" stroke-width="0.5"/>
<line x1="24" y1="95.33" x2="25.6" y2="95.33" stroke="#969696" stroke-width="0.5"/>
<line x1="24" y1="81.89" x2="24.96" y2="81.89" stroke="#969696" stroke-width="0.5"/>
<line x1="24" y1="74.02" x2="24.96" y2="74.02" stroke="#969696" stroke-width="0.5"/>
<line x1="24" y1="68.44" x2="24.96" y2="68.44" stroke="#969696" stroke-width="0.5"/>
<line x1="24" y1="64.11" x2="24.96" y2="64.11" stroke="#969696" stroke-width="0.5"/>
<line x1="24" y1="60.58" x2="24.96" y2="60.58" stroke="#969696" stroke-width="0.5"/>
<line x1="24" y1="57.59" x2="24.96" y2="57.59" stroke="#969696" stroke-width="0.5"/>
<line x1="24" y1="55" x2="24.96" y2="55" stroke="#969696" stroke-width="0.5"/>
<line x1="24" y1="52.71" x2="24.96" y2="52.71" stroke="#969696" stroke-width="0.5"/>
<line x1="24" y1="50.67" x2="25.6" y2="50.67" stroke="#969696" stroke-width="0.5"/>
<line x1="24" y1="37.22" x2="24.96" y2="37.22" stroke="#969696" stroke-width="0.5"/>
<line x1="24" y1="29.36" x2="24.96" y2="29.36" stroke="#969696" stroke-width="0.5"/>
<line x1="24" y1="23.77" x2="24.96" y2="23.77" stroke="#969696" stroke-width="0.5"/>
<line x1="24" y1="19.45" x2="24.96" y2="19.45" stroke="#969696" stroke-width="0.5"/>
<line x1="24" y1="15.91" x2="24.96" y2="15.91" stroke="#969696" stroke-width="0.5"/>
<line x1="24" y1="12.92" x2="24.96" y2="12.92" stroke="#969696" stroke-width="0.5"/>
<line x1="24" y1="10.33" x2="24.96" y2="10.33" stroke="#969696" stroke-width="0.5"/>
<line x1="24" y1="8.04" x2="24.96" y2="8.04" stroke="#969696" stroke-width="0.5"/>
<line x1="24" y1="6" x2="25.6" y2="6" stroke="#969696" stroke-width="0.5"/>
<line x1="193.4" y1="6" x2="195" y2="6" stroke="#9090ff" stroke-width="0.5"/>
<line x1="193.4" y1="20.89" x2="195" y2="20.89" stroke="#9090ff" stroke-width="0.5"/>
<line x1="193.4" y1="35.78" x2="195" y2="35.78" stroke="#9090ff" stroke-width="0.5"/>
<line x1="193.4" y1="50.67" x2="195" y2="50.67" stroke="#9090ff" stroke-width="0.5"/>
<line x1="193.4" y1="65.56" x2="195" y2="65.56" stroke="#9090ff" stroke-width="0.5"/>
<line x1="193.4" y1="80.44" x2="195" y2="80.44" stroke="#9090ff" stroke-width="0.5"/>
<line x1="193.4" y1="95.33" x2="195" y2="95.33" stroke="#9090ff" stroke-width="0.5"/>
<line x1="193.4" y1="110.22" x2="195" y2="110.22" stroke="#9090ff" stroke-width="0.5"/>
<line x1="193.4" y1="125.11" x2="195" y2="125.11" stroke="#9090ff" stroke-width="0.5"/>
<line x1="193.4" y1="140" x2="195" y2="140" stroke="#9090ff" stroke-width="0.5"/>
<line x1="24" y1="6" x2="195" y2="6" stroke="#969696" stroke-width="0.8"/>
<line x1="24" y1="140" x2="195" y2="140" stroke="#969696" stroke-width="0.8"/>
<line x1="24" y1="6" x2="24" y2="140" stroke="#969696" stroke-width="0.8"/>
<line x1="195" y1="6" x2="195" y2="140" stroke="#9090ff" stroke-width="0.9"/>
<text x="22.2" y="143" font-family="Liberation Sans" font-size="5.6" fill="#262626" stroke="#262626" stroke-width="0.12" text-anchor="end">10<tspan font-size="3.8" dy="-2.3">0</tspan></text>
<text x="22.2" y="98.33" font-family="Liberation Sans" font-size="5.6" fill="#262626" stroke="#262626" stroke-width="0.12" text-anchor="end">10<tspan font-size="3.8" dy="-2.3">1</tspan></text>
<text x="22.2" y="53.67" font-family="Liberation Sans" font-size="5.6" fill="#262626" stroke="#262626" stroke-width="0.12" text-anchor="end">10<tspan font-size="3.8" dy="-2.3">2</tspan></text>
<text x="22.2" y="9" font-family="Liberation Sans" font-size="5.6" fill="#262626" stroke="#262626" stroke-width="0.12" text-anchor="end">10<tspan font-size="3.8" dy="-2.3">3</tspan></text>
<text x="24.8" y="149.4" font-family="Liberation Sans" font-size="5.6" fill="#262626" stroke="#262626" stroke-width="0.12" text-anchor="middle">10<tspan font-size="3.8" dy="-2.3">4</tspan></text>
<text x="110.3" y="149.4" font-family="Liberation Sans" font-size="5.6" fill="#262626" stroke="#262626" stroke-width="0.12" text-anchor="middle">10<tspan font-size="3.8" dy="-2.3">5</tspan></text>
<text x="195.8" y="149.4" font-family="Liberation Sans" font-size="5.6" fill="#262626" stroke="#262626" stroke-width="0.12" text-anchor="middle">10<tspan font-size="3.8" dy="-2.3">6</tspan></text>
<text x="197" y="8.5" font-family="Liberation Sans" font-size="5.4" fill="#1010ff" stroke="#1010ff" stroke-width="0.15" text-anchor="start">0</text>
<text x="197" y="23.39" font-family="Liberation Sans" font-size="5.4" fill="#1010ff" stroke="#1010ff" stroke-width="0.15" text-anchor="start">-20</text>
<text x="197" y="38.28" font-family="Liberation Sans" font-size="5.4" fill="#1010ff" stroke="#1010ff" stroke-width="0.15" text-anchor="start">-40</text>
<text x="197" y="53.17" font-family="Liberation Sans" font-size="5.4" fill="#1010ff" stroke="#1010ff" stroke-width="0.15" text-anchor="start">-60</text>
<text x="197" y="68.06" font-family="Liberation Sans" font-size="5.4" fill="#1010ff" stroke="#1010ff" stroke-width="0.15" text-anchor="start">-80</text>
<text x="197" y="82.94" font-family="Liberation Sans" font-size="5.4" fill="#1010ff" stroke="#1010ff" stroke-width="0.15" text-anchor="start">-100</text>
<text x="197" y="97.83" font-family="Liberation Sans" font-size="5.4" fill="#1010ff" stroke="#1010ff" stroke-width="0.15" text-anchor="start">-120</text>
<text x="197" y="112.72" font-family="Liberation Sans" font-size="5.4" fill="#1010ff" stroke="#1010ff" stroke-width="0.15" text-anchor="start">-140</text>
<text x="197" y="127.61" font-family="Liberation Sans" font-size="5.4" fill="#1010ff" stroke="#1010ff" stroke-width="0.15" text-anchor="start">-160</text>
<text x="197" y="142.5" font-family="Liberation Sans" font-size="5.4" fill="#1010ff" stroke="#1010ff" stroke-width="0.15" text-anchor="start">-180</text>
<text transform="translate(9.5 73.4) rotate(-90)" font-family="Liberation Serif" font-size="7.9" fill="#3a3a3a" text-anchor="middle" textLength="35" lengthAdjust="spacingAndGlyphs">|<tspan font-style="italic">Z</tspan><tspan font-size="5" dy="1.6" font-style="italic">out</tspan><tspan dy="-1.6">| (</tspan><tspan>k&#937;</tspan>)</text>
<text transform="translate(216.9 72.9) rotate(-90)" font-family="Liberation Serif" font-size="7.9" fill="#1010ff" stroke="#1a1aff" stroke-width="0.15" text-anchor="middle" font-style="italic" textLength="53.4" lengthAdjust="spacingAndGlyphs">&lt; Z<tspan font-size="5" dy="1.6">out</tspan><tspan dy="-1.6"> (degrees)</tspan></text>
<text x="109.3" y="157" font-family="Liberation Serif" font-size="7.3" fill="#262626" stroke="#262626" stroke-width="0.1" text-anchor="middle" textLength="50.6" lengthAdjust="spacingAndGlyphs">Frequency (Hz)</text>
<line x1="272.5" y1="140" x2="272.5" y2="138.4" stroke="#969696" stroke-width="0.5"/>
<line x1="272.5" y1="6" x2="272.5" y2="7.6" stroke="#969696" stroke-width="0.5"/>
<line x1="298.39" y1="140" x2="298.39" y2="139.04" stroke="#969696" stroke-width="0.5"/>
<line x1="298.39" y1="6" x2="298.39" y2="6.96" stroke="#969696" stroke-width="0.5"/>
<line x1="313.53" y1="140" x2="313.53" y2="139.04" stroke="#969696" stroke-width="0.5"/>
<line x1="313.53" y1="6" x2="313.53" y2="6.96" stroke="#969696" stroke-width="0.5"/>
<line x1="324.28" y1="140" x2="324.28" y2="139.04" stroke="#969696" stroke-width="0.5"/>
<line x1="324.28" y1="6" x2="324.28" y2="6.96" stroke="#969696" stroke-width="0.5"/>
<line x1="332.61" y1="140" x2="332.61" y2="139.04" stroke="#969696" stroke-width="0.5"/>
<line x1="332.61" y1="6" x2="332.61" y2="6.96" stroke="#969696" stroke-width="0.5"/>
<line x1="339.42" y1="140" x2="339.42" y2="139.04" stroke="#969696" stroke-width="0.5"/>
<line x1="339.42" y1="6" x2="339.42" y2="6.96" stroke="#969696" stroke-width="0.5"/>
<line x1="345.18" y1="140" x2="345.18" y2="139.04" stroke="#969696" stroke-width="0.5"/>
<line x1="345.18" y1="6" x2="345.18" y2="6.96" stroke="#969696" stroke-width="0.5"/>
<line x1="350.17" y1="140" x2="350.17" y2="139.04" stroke="#969696" stroke-width="0.5"/>
<line x1="350.17" y1="6" x2="350.17" y2="6.96" stroke="#969696" stroke-width="0.5"/>
<line x1="354.56" y1="140" x2="354.56" y2="139.04" stroke="#969696" stroke-width="0.5"/>
<line x1="354.56" y1="6" x2="354.56" y2="6.96" stroke="#969696" stroke-width="0.5"/>
<line x1="358.5" y1="140" x2="358.5" y2="138.4" stroke="#969696" stroke-width="0.5"/>
<line x1="358.5" y1="6" x2="358.5" y2="7.6" stroke="#969696" stroke-width="0.5"/>
<line x1="384.39" y1="140" x2="384.39" y2="139.04" stroke="#969696" stroke-width="0.5"/>
<line x1="384.39" y1="6" x2="384.39" y2="6.96" stroke="#969696" stroke-width="0.5"/>
<line x1="399.53" y1="140" x2="399.53" y2="139.04" stroke="#969696" stroke-width="0.5"/>
<line x1="399.53" y1="6" x2="399.53" y2="6.96" stroke="#969696" stroke-width="0.5"/>
<line x1="410.28" y1="140" x2="410.28" y2="139.04" stroke="#969696" stroke-width="0.5"/>
<line x1="410.28" y1="6" x2="410.28" y2="6.96" stroke="#969696" stroke-width="0.5"/>
<line x1="418.61" y1="140" x2="418.61" y2="139.04" stroke="#969696" stroke-width="0.5"/>
<line x1="418.61" y1="6" x2="418.61" y2="6.96" stroke="#969696" stroke-width="0.5"/>
<line x1="425.42" y1="140" x2="425.42" y2="139.04" stroke="#969696" stroke-width="0.5"/>
<line x1="425.42" y1="6" x2="425.42" y2="6.96" stroke="#969696" stroke-width="0.5"/>
<line x1="431.18" y1="140" x2="431.18" y2="139.04" stroke="#969696" stroke-width="0.5"/>
<line x1="431.18" y1="6" x2="431.18" y2="6.96" stroke="#969696" stroke-width="0.5"/>
<line x1="436.17" y1="140" x2="436.17" y2="139.04" stroke="#969696" stroke-width="0.5"/>
<line x1="436.17" y1="6" x2="436.17" y2="6.96" stroke="#969696" stroke-width="0.5"/>
<line x1="440.56" y1="140" x2="440.56" y2="139.04" stroke="#969696" stroke-width="0.5"/>
<line x1="440.56" y1="6" x2="440.56" y2="6.96" stroke="#969696" stroke-width="0.5"/>
<line x1="272.5" y1="140" x2="274.1" y2="140" stroke="#969696" stroke-width="0.5"/>
<line x1="272.5" y1="127.85" x2="273.46" y2="127.85" stroke="#969696" stroke-width="0.5"/>
<line x1="272.5" y1="120.74" x2="273.46" y2="120.74" stroke="#969696" stroke-width="0.5"/>
<line x1="272.5" y1="115.7" x2="273.46" y2="115.7" stroke="#969696" stroke-width="0.5"/>
<line x1="272.5" y1="111.79" x2="273.46" y2="111.79" stroke="#969696" stroke-width="0.5"/>
<line x1="272.5" y1="108.59" x2="273.46" y2="108.59" stroke="#969696" stroke-width="0.5"/>
<line x1="272.5" y1="105.89" x2="273.46" y2="105.89" stroke="#969696" stroke-width="0.5"/>
<line x1="272.5" y1="103.55" x2="273.46" y2="103.55" stroke="#969696" stroke-width="0.5"/>
<line x1="272.5" y1="101.49" x2="273.46" y2="101.49" stroke="#969696" stroke-width="0.5"/>
<line x1="272.5" y1="99.64" x2="274.1" y2="99.64" stroke="#969696" stroke-width="0.5"/>
<line x1="272.5" y1="87.49" x2="273.46" y2="87.49" stroke="#969696" stroke-width="0.5"/>
<line x1="272.5" y1="80.38" x2="273.46" y2="80.38" stroke="#969696" stroke-width="0.5"/>
<line x1="272.5" y1="75.34" x2="273.46" y2="75.34" stroke="#969696" stroke-width="0.5"/>
<line x1="272.5" y1="71.43" x2="273.46" y2="71.43" stroke="#969696" stroke-width="0.5"/>
<line x1="272.5" y1="68.23" x2="273.46" y2="68.23" stroke="#969696" stroke-width="0.5"/>
<line x1="272.5" y1="65.53" x2="273.46" y2="65.53" stroke="#969696" stroke-width="0.5"/>
<line x1="272.5" y1="63.19" x2="273.46" y2="63.19" stroke="#969696" stroke-width="0.5"/>
<line x1="272.5" y1="61.12" x2="273.46" y2="61.12" stroke="#969696" stroke-width="0.5"/>
<line x1="272.5" y1="59.28" x2="274.1" y2="59.28" stroke="#969696" stroke-width="0.5"/>
<line x1="272.5" y1="47.13" x2="273.46" y2="47.13" stroke="#969696" stroke-width="0.5"/>
<line x1="272.5" y1="40.02" x2="273.46" y2="40.02" stroke="#969696" stroke-width="0.5"/>
<line x1="272.5" y1="34.98" x2="273.46" y2="34.98" stroke="#969696" stroke-width="0.5"/>
<line x1="272.5" y1="31.07" x2="273.46" y2="31.07" stroke="#969696" stroke-width="0.5"/>
<line x1="272.5" y1="27.87" x2="273.46" y2="27.87" stroke="#969696" stroke-width="0.5"/>
<line x1="272.5" y1="25.17" x2="273.46" y2="25.17" stroke="#969696" stroke-width="0.5"/>
<line x1="272.5" y1="22.83" x2="273.46" y2="22.83" stroke="#969696" stroke-width="0.5"/>
<line x1="272.5" y1="20.76" x2="273.46" y2="20.76" stroke="#969696" stroke-width="0.5"/>
<line x1="272.5" y1="18.92" x2="274.1" y2="18.92" stroke="#969696" stroke-width="0.5"/>
<line x1="272.5" y1="6.77" x2="273.46" y2="6.77" stroke="#969696" stroke-width="0.5"/>
<line x1="442.9" y1="6" x2="444.5" y2="6" stroke="#9090ff" stroke-width="0.5"/>
<line x1="442.9" y1="20.89" x2="444.5" y2="20.89" stroke="#9090ff" stroke-width="0.5"/>
<line x1="442.9" y1="35.78" x2="444.5" y2="35.78" stroke="#9090ff" stroke-width="0.5"/>
<line x1="442.9" y1="50.67" x2="444.5" y2="50.67" stroke="#9090ff" stroke-width="0.5"/>
<line x1="442.9" y1="65.56" x2="444.5" y2="65.56" stroke="#9090ff" stroke-width="0.5"/>
<line x1="442.9" y1="80.44" x2="444.5" y2="80.44" stroke="#9090ff" stroke-width="0.5"/>
<line x1="442.9" y1="95.33" x2="444.5" y2="95.33" stroke="#9090ff" stroke-width="0.5"/>
<line x1="442.9" y1="110.22" x2="444.5" y2="110.22" stroke="#9090ff" stroke-width="0.5"/>
<line x1="442.9" y1="125.11" x2="444.5" y2="125.11" stroke="#9090ff" stroke-width="0.5"/>
<line x1="442.9" y1="140" x2="444.5" y2="140" stroke="#9090ff" stroke-width="0.5"/>
<line x1="272.5" y1="6" x2="444.5" y2="6" stroke="#969696" stroke-width="0.8"/>
<line x1="272.5" y1="140" x2="444.5" y2="140" stroke="#969696" stroke-width="0.8"/>
<line x1="272.5" y1="6" x2="272.5" y2="140" stroke="#969696" stroke-width="0.8"/>
<line x1="444.5" y1="6" x2="444.5" y2="140" stroke="#9090ff" stroke-width="0.9"/>
<text x="270.7" y="143" font-family="Liberation Sans" font-size="5.6" fill="#262626" stroke="#262626" stroke-width="0.12" text-anchor="end">10<tspan font-size="3.8" dy="-2.3">0</tspan></text>
<text x="270.7" y="102.64" font-family="Liberation Sans" font-size="5.6" fill="#262626" stroke="#262626" stroke-width="0.12" text-anchor="end">10<tspan font-size="3.8" dy="-2.3">1</tspan></text>
<text x="270.7" y="62.28" font-family="Liberation Sans" font-size="5.6" fill="#262626" stroke="#262626" stroke-width="0.12" text-anchor="end">10<tspan font-size="3.8" dy="-2.3">2</tspan></text>
<text x="270.7" y="21.92" font-family="Liberation Sans" font-size="5.6" fill="#262626" stroke="#262626" stroke-width="0.12" text-anchor="end">10<tspan font-size="3.8" dy="-2.3">3</tspan></text>
<text x="273.3" y="149.4" font-family="Liberation Sans" font-size="5.6" fill="#262626" stroke="#262626" stroke-width="0.12" text-anchor="middle">10<tspan font-size="3.8" dy="-2.3">4</tspan></text>
<text x="359.3" y="149.4" font-family="Liberation Sans" font-size="5.6" fill="#262626" stroke="#262626" stroke-width="0.12" text-anchor="middle">10<tspan font-size="3.8" dy="-2.3">5</tspan></text>
<text x="445.3" y="149.4" font-family="Liberation Sans" font-size="5.6" fill="#262626" stroke="#262626" stroke-width="0.12" text-anchor="middle">10<tspan font-size="3.8" dy="-2.3">6</tspan></text>
<text x="446.5" y="8.5" font-family="Liberation Sans" font-size="5.4" fill="#1010ff" stroke="#1010ff" stroke-width="0.15" text-anchor="start">0</text>
<text x="446.5" y="23.39" font-family="Liberation Sans" font-size="5.4" fill="#1010ff" stroke="#1010ff" stroke-width="0.15" text-anchor="start">-20</text>
<text x="446.5" y="38.28" font-family="Liberation Sans" font-size="5.4" fill="#1010ff" stroke="#1010ff" stroke-width="0.15" text-anchor="start">-40</text>
<text x="446.5" y="53.17" font-family="Liberation Sans" font-size="5.4" fill="#1010ff" stroke="#1010ff" stroke-width="0.15" text-anchor="start">-60</text>
<text x="446.5" y="68.06" font-family="Liberation Sans" font-size="5.4" fill="#1010ff" stroke="#1010ff" stroke-width="0.15" text-anchor="start">-80</text>
<text x="446.5" y="82.94" font-family="Liberation Sans" font-size="5.4" fill="#1010ff" stroke="#1010ff" stroke-width="0.15" text-anchor="start">-100</text>
<text x="446.5" y="97.83" font-family="Liberation Sans" font-size="5.4" fill="#1010ff" stroke="#1010ff" stroke-width="0.15" text-anchor="start">-120</text>
<text x="446.5" y="112.72" font-family="Liberation Sans" font-size="5.4" fill="#1010ff" stroke="#1010ff" stroke-width="0.15" text-anchor="start">-140</text>
<text x="446.5" y="127.61" font-family="Liberation Sans" font-size="5.4" fill="#1010ff" stroke="#1010ff" stroke-width="0.15" text-anchor="start">-160</text>
<text x="446.5" y="142.5" font-family="Liberation Sans" font-size="5.4" fill="#1010ff" stroke="#1010ff" stroke-width="0.15" text-anchor="start">-180</text>
<text transform="translate(256.9 74) rotate(-90)" font-family="Liberation Serif" font-size="7.9" fill="#3a3a3a" text-anchor="middle" textLength="36.3" lengthAdjust="spacingAndGlyphs">|<tspan font-style="italic">Z</tspan><tspan font-size="5" dy="1.6" font-style="italic">out</tspan><tspan dy="-1.6">| (</tspan><tspan font-style="italic">k&#937;</tspan>)</text>
<text transform="translate(466.1 72.3) rotate(-90)" font-family="Liberation Serif" font-size="7.9" fill="#1010ff" stroke="#1a1aff" stroke-width="0.15" text-anchor="middle" font-style="italic" textLength="52.6" lengthAdjust="spacingAndGlyphs">&lt; Z<tspan font-size="5" dy="1.6">out</tspan><tspan dy="-1.6"> (degrees)</tspan></text>
<text x="358.7" y="157.2" font-family="Liberation Serif" font-size="7.3" fill="#262626" stroke="#262626" stroke-width="0.1" text-anchor="middle" textLength="50.2" lengthAdjust="spacingAndGlyphs">Frequency (Hz)</text>
<line x1="25" y1="324.5" x2="25" y2="322.9" stroke="#969696" stroke-width="0.5"/>
<line x1="25" y1="190.5" x2="25" y2="192.1" stroke="#969696" stroke-width="0.5"/>
<line x1="50.59" y1="324.5" x2="50.59" y2="323.54" stroke="#969696" stroke-width="0.5"/>
<line x1="50.59" y1="190.5" x2="50.59" y2="191.46" stroke="#969696" stroke-width="0.5"/>
<line x1="65.56" y1="324.5" x2="65.56" y2="323.54" stroke="#969696" stroke-width="0.5"/>
<line x1="65.56" y1="190.5" x2="65.56" y2="191.46" stroke="#969696" stroke-width="0.5"/>
<line x1="76.18" y1="324.5" x2="76.18" y2="323.54" stroke="#969696" stroke-width="0.5"/>
<line x1="76.18" y1="190.5" x2="76.18" y2="191.46" stroke="#969696" stroke-width="0.5"/>
<line x1="84.41" y1="324.5" x2="84.41" y2="323.54" stroke="#969696" stroke-width="0.5"/>
<line x1="84.41" y1="190.5" x2="84.41" y2="191.46" stroke="#969696" stroke-width="0.5"/>
<line x1="91.14" y1="324.5" x2="91.14" y2="323.54" stroke="#969696" stroke-width="0.5"/>
<line x1="91.14" y1="190.5" x2="91.14" y2="191.46" stroke="#969696" stroke-width="0.5"/>
<line x1="96.83" y1="324.5" x2="96.83" y2="323.54" stroke="#969696" stroke-width="0.5"/>
<line x1="96.83" y1="190.5" x2="96.83" y2="191.46" stroke="#969696" stroke-width="0.5"/>
<line x1="101.76" y1="324.5" x2="101.76" y2="323.54" stroke="#969696" stroke-width="0.5"/>
<line x1="101.76" y1="190.5" x2="101.76" y2="191.46" stroke="#969696" stroke-width="0.5"/>
<line x1="106.11" y1="324.5" x2="106.11" y2="323.54" stroke="#969696" stroke-width="0.5"/>
<line x1="106.11" y1="190.5" x2="106.11" y2="191.46" stroke="#969696" stroke-width="0.5"/>
<line x1="110" y1="324.5" x2="110" y2="322.9" stroke="#969696" stroke-width="0.5"/>
<line x1="110" y1="190.5" x2="110" y2="192.1" stroke="#969696" stroke-width="0.5"/>
<line x1="135.59" y1="324.5" x2="135.59" y2="323.54" stroke="#969696" stroke-width="0.5"/>
<line x1="135.59" y1="190.5" x2="135.59" y2="191.46" stroke="#969696" stroke-width="0.5"/>
<line x1="150.56" y1="324.5" x2="150.56" y2="323.54" stroke="#969696" stroke-width="0.5"/>
<line x1="150.56" y1="190.5" x2="150.56" y2="191.46" stroke="#969696" stroke-width="0.5"/>
<line x1="161.18" y1="324.5" x2="161.18" y2="323.54" stroke="#969696" stroke-width="0.5"/>
<line x1="161.18" y1="190.5" x2="161.18" y2="191.46" stroke="#969696" stroke-width="0.5"/>
<line x1="169.41" y1="324.5" x2="169.41" y2="323.54" stroke="#969696" stroke-width="0.5"/>
<line x1="169.41" y1="190.5" x2="169.41" y2="191.46" stroke="#969696" stroke-width="0.5"/>
<line x1="176.14" y1="324.5" x2="176.14" y2="323.54" stroke="#969696" stroke-width="0.5"/>
<line x1="176.14" y1="190.5" x2="176.14" y2="191.46" stroke="#969696" stroke-width="0.5"/>
<line x1="181.83" y1="324.5" x2="181.83" y2="323.54" stroke="#969696" stroke-width="0.5"/>
<line x1="181.83" y1="190.5" x2="181.83" y2="191.46" stroke="#969696" stroke-width="0.5"/>
<line x1="186.76" y1="324.5" x2="186.76" y2="323.54" stroke="#969696" stroke-width="0.5"/>
<line x1="186.76" y1="190.5" x2="186.76" y2="191.46" stroke="#969696" stroke-width="0.5"/>
<line x1="191.11" y1="324.5" x2="191.11" y2="323.54" stroke="#969696" stroke-width="0.5"/>
<line x1="191.11" y1="190.5" x2="191.11" y2="191.46" stroke="#969696" stroke-width="0.5"/>
<line x1="25" y1="324.5" x2="26.6" y2="324.5" stroke="#969696" stroke-width="0.5"/>
<line x1="25" y1="312.46" x2="25.96" y2="312.46" stroke="#969696" stroke-width="0.5"/>
<line x1="25" y1="305.42" x2="25.96" y2="305.42" stroke="#969696" stroke-width="0.5"/>
<line x1="25" y1="300.42" x2="25.96" y2="300.42" stroke="#969696" stroke-width="0.5"/>
<line x1="25" y1="296.54" x2="25.96" y2="296.54" stroke="#969696" stroke-width="0.5"/>
<line x1="25" y1="293.37" x2="25.96" y2="293.37" stroke="#969696" stroke-width="0.5"/>
<line x1="25" y1="290.7" x2="25.96" y2="290.7" stroke="#969696" stroke-width="0.5"/>
<line x1="25" y1="288.38" x2="25.96" y2="288.38" stroke="#969696" stroke-width="0.5"/>
<line x1="25" y1="286.33" x2="25.96" y2="286.33" stroke="#969696" stroke-width="0.5"/>
<line x1="25" y1="284.5" x2="26.6" y2="284.5" stroke="#969696" stroke-width="0.5"/>
<line x1="25" y1="272.46" x2="25.96" y2="272.46" stroke="#969696" stroke-width="0.5"/>
<line x1="25" y1="265.42" x2="25.96" y2="265.42" stroke="#969696" stroke-width="0.5"/>
<line x1="25" y1="260.42" x2="25.96" y2="260.42" stroke="#969696" stroke-width="0.5"/>
<line x1="25" y1="256.54" x2="25.96" y2="256.54" stroke="#969696" stroke-width="0.5"/>
<line x1="25" y1="253.37" x2="25.96" y2="253.37" stroke="#969696" stroke-width="0.5"/>
<line x1="25" y1="250.7" x2="25.96" y2="250.7" stroke="#969696" stroke-width="0.5"/>
<line x1="25" y1="248.38" x2="25.96" y2="248.38" stroke="#969696" stroke-width="0.5"/>
<line x1="25" y1="246.33" x2="25.96" y2="246.33" stroke="#969696" stroke-width="0.5"/>
<line x1="25" y1="244.5" x2="26.6" y2="244.5" stroke="#969696" stroke-width="0.5"/>
<line x1="25" y1="232.46" x2="25.96" y2="232.46" stroke="#969696" stroke-width="0.5"/>
<line x1="25" y1="225.42" x2="25.96" y2="225.42" stroke="#969696" stroke-width="0.5"/>
<line x1="25" y1="220.42" x2="25.96" y2="220.42" stroke="#969696" stroke-width="0.5"/>
<line x1="25" y1="216.54" x2="25.96" y2="216.54" stroke="#969696" stroke-width="0.5"/>
<line x1="25" y1="213.37" x2="25.96" y2="213.37" stroke="#969696" stroke-width="0.5"/>
<line x1="25" y1="210.7" x2="25.96" y2="210.7" stroke="#969696" stroke-width="0.5"/>
<line x1="25" y1="208.38" x2="25.96" y2="208.38" stroke="#969696" stroke-width="0.5"/>
<line x1="25" y1="206.33" x2="25.96" y2="206.33" stroke="#969696" stroke-width="0.5"/>
<line x1="25" y1="204.5" x2="26.6" y2="204.5" stroke="#969696" stroke-width="0.5"/>
<line x1="25" y1="192.46" x2="25.96" y2="192.46" stroke="#969696" stroke-width="0.5"/>
<line x1="193.4" y1="190.5" x2="195" y2="190.5" stroke="#9090ff" stroke-width="0.5"/>
<line x1="193.4" y1="207.25" x2="195" y2="207.25" stroke="#9090ff" stroke-width="0.5"/>
<line x1="193.4" y1="224" x2="195" y2="224" stroke="#9090ff" stroke-width="0.5"/>
<line x1="193.4" y1="240.75" x2="195" y2="240.75" stroke="#9090ff" stroke-width="0.5"/>
<line x1="193.4" y1="257.5" x2="195" y2="257.5" stroke="#9090ff" stroke-width="0.5"/>
<line x1="193.4" y1="274.25" x2="195" y2="274.25" stroke="#9090ff" stroke-width="0.5"/>
<line x1="193.4" y1="291" x2="195" y2="291" stroke="#9090ff" stroke-width="0.5"/>
<line x1="193.4" y1="307.75" x2="195" y2="307.75" stroke="#9090ff" stroke-width="0.5"/>
<line x1="193.4" y1="324.5" x2="195" y2="324.5" stroke="#9090ff" stroke-width="0.5"/>
<line x1="25" y1="190.5" x2="195" y2="190.5" stroke="#969696" stroke-width="0.8"/>
<line x1="25" y1="324.5" x2="195" y2="324.5" stroke="#969696" stroke-width="0.8"/>
<line x1="25" y1="190.5" x2="25" y2="324.5" stroke="#969696" stroke-width="0.8"/>
<line x1="195" y1="190.5" x2="195" y2="324.5" stroke="#9090ff" stroke-width="0.9"/>
<text x="23.2" y="327.5" font-family="Liberation Sans" font-size="5.6" fill="#262626" stroke="#262626" stroke-width="0.12" text-anchor="end">10<tspan font-size="3.8" dy="-2.3">0</tspan></text>
<text x="23.2" y="287.5" font-family="Liberation Sans" font-size="5.6" fill="#262626" stroke="#262626" stroke-width="0.12" text-anchor="end">10<tspan font-size="3.8" dy="-2.3">1</tspan></text>
<text x="23.2" y="247.5" font-family="Liberation Sans" font-size="5.6" fill="#262626" stroke="#262626" stroke-width="0.12" text-anchor="end">10<tspan font-size="3.8" dy="-2.3">2</tspan></text>
<text x="23.2" y="207.5" font-family="Liberation Sans" font-size="5.6" fill="#262626" stroke="#262626" stroke-width="0.12" text-anchor="end">10<tspan font-size="3.8" dy="-2.3">3</tspan></text>
<text x="25.8" y="333.9" font-family="Liberation Sans" font-size="5.6" fill="#262626" stroke="#262626" stroke-width="0.12" text-anchor="middle">10<tspan font-size="3.8" dy="-2.3">4</tspan></text>
<text x="110.8" y="333.9" font-family="Liberation Sans" font-size="5.6" fill="#262626" stroke="#262626" stroke-width="0.12" text-anchor="middle">10<tspan font-size="3.8" dy="-2.3">5</tspan></text>
<text x="195.8" y="333.9" font-family="Liberation Sans" font-size="5.6" fill="#262626" stroke="#262626" stroke-width="0.12" text-anchor="middle">10<tspan font-size="3.8" dy="-2.3">6</tspan></text>
<text x="197" y="193" font-family="Liberation Sans" font-size="5.4" fill="#1010ff" stroke="#1010ff" stroke-width="0.15" text-anchor="start">0</text>
<text x="197" y="209.75" font-family="Liberation Sans" font-size="5.4" fill="#1010ff" stroke="#1010ff" stroke-width="0.15" text-anchor="start">-20</text>
<text x="197" y="226.5" font-family="Liberation Sans" font-size="5.4" fill="#1010ff" stroke="#1010ff" stroke-width="0.15" text-anchor="start">-40</text>
<text x="197" y="243.25" font-family="Liberation Sans" font-size="5.4" fill="#1010ff" stroke="#1010ff" stroke-width="0.15" text-anchor="start">-60</text>
<text x="197" y="260" font-family="Liberation Sans" font-size="5.4" fill="#1010ff" stroke="#1010ff" stroke-width="0.15" text-anchor="start">-80</text>
<text x="197" y="276.75" font-family="Liberation Sans" font-size="5.4" fill="#1010ff" stroke="#1010ff" stroke-width="0.15" text-anchor="start">-100</text>
<text x="197" y="293.5" font-family="Liberation Sans" font-size="5.4" fill="#1010ff" stroke="#1010ff" stroke-width="0.15" text-anchor="start">-120</text>
<text x="197" y="310.25" font-family="Liberation Sans" font-size="5.4" fill="#1010ff" stroke="#1010ff" stroke-width="0.15" text-anchor="start">-140</text>
<text x="197" y="327" font-family="Liberation Sans" font-size="5.4" fill="#1010ff" stroke="#1010ff" stroke-width="0.15" text-anchor="start">-160</text>
<text transform="translate(10.1 257) rotate(-90)" font-family="Liberation Serif" font-size="7.9" fill="#3a3a3a" text-anchor="middle" textLength="34.5" lengthAdjust="spacingAndGlyphs">|<tspan font-style="italic">Z</tspan><tspan font-size="5" dy="1.6" font-style="italic">out</tspan><tspan dy="-1.6">| (</tspan><tspan>k&#937;</tspan>)</text>
<text transform="translate(216.5 259) rotate(-90)" font-family="Liberation Serif" font-size="7.9" fill="#1010ff" stroke="#1a1aff" stroke-width="0.15" text-anchor="middle" font-style="italic" textLength="55" lengthAdjust="spacingAndGlyphs">&lt; Z<tspan font-size="5" dy="1.6">out</tspan><tspan dy="-1.6"> (degrees)</tspan></text>
<text x="109.8" y="342.2" font-family="Liberation Serif" font-size="7.3" fill="#262626" stroke="#262626" stroke-width="0.1" text-anchor="middle" textLength="49.3" lengthAdjust="spacingAndGlyphs">Frequency (Hz)</text>
<line x1="274.5" y1="324.5" x2="274.5" y2="322.9" stroke="#969696" stroke-width="0.5"/>
<line x1="274.5" y1="191" x2="274.5" y2="192.6" stroke="#969696" stroke-width="0.5"/>
<line x1="300.09" y1="324.5" x2="300.09" y2="323.54" stroke="#969696" stroke-width="0.5"/>
<line x1="300.09" y1="191" x2="300.09" y2="191.96" stroke="#969696" stroke-width="0.5"/>
<line x1="315.06" y1="324.5" x2="315.06" y2="323.54" stroke="#969696" stroke-width="0.5"/>
<line x1="315.06" y1="191" x2="315.06" y2="191.96" stroke="#969696" stroke-width="0.5"/>
<line x1="325.68" y1="324.5" x2="325.68" y2="323.54" stroke="#969696" stroke-width="0.5"/>
<line x1="325.68" y1="191" x2="325.68" y2="191.96" stroke="#969696" stroke-width="0.5"/>
<line x1="333.91" y1="324.5" x2="333.91" y2="323.54" stroke="#969696" stroke-width="0.5"/>
<line x1="333.91" y1="191" x2="333.91" y2="191.96" stroke="#969696" stroke-width="0.5"/>
<line x1="340.64" y1="324.5" x2="340.64" y2="323.54" stroke="#969696" stroke-width="0.5"/>
<line x1="340.64" y1="191" x2="340.64" y2="191.96" stroke="#969696" stroke-width="0.5"/>
<line x1="346.33" y1="324.5" x2="346.33" y2="323.54" stroke="#969696" stroke-width="0.5"/>
<line x1="346.33" y1="191" x2="346.33" y2="191.96" stroke="#969696" stroke-width="0.5"/>
<line x1="351.26" y1="324.5" x2="351.26" y2="323.54" stroke="#969696" stroke-width="0.5"/>
<line x1="351.26" y1="191" x2="351.26" y2="191.96" stroke="#969696" stroke-width="0.5"/>
<line x1="355.61" y1="324.5" x2="355.61" y2="323.54" stroke="#969696" stroke-width="0.5"/>
<line x1="355.61" y1="191" x2="355.61" y2="191.96" stroke="#969696" stroke-width="0.5"/>
<line x1="359.5" y1="324.5" x2="359.5" y2="322.9" stroke="#969696" stroke-width="0.5"/>
<line x1="359.5" y1="191" x2="359.5" y2="192.6" stroke="#969696" stroke-width="0.5"/>
<line x1="385.09" y1="324.5" x2="385.09" y2="323.54" stroke="#969696" stroke-width="0.5"/>
<line x1="385.09" y1="191" x2="385.09" y2="191.96" stroke="#969696" stroke-width="0.5"/>
<line x1="400.06" y1="324.5" x2="400.06" y2="323.54" stroke="#969696" stroke-width="0.5"/>
<line x1="400.06" y1="191" x2="400.06" y2="191.96" stroke="#969696" stroke-width="0.5"/>
<line x1="410.68" y1="324.5" x2="410.68" y2="323.54" stroke="#969696" stroke-width="0.5"/>
<line x1="410.68" y1="191" x2="410.68" y2="191.96" stroke="#969696" stroke-width="0.5"/>
<line x1="418.91" y1="324.5" x2="418.91" y2="323.54" stroke="#969696" stroke-width="0.5"/>
<line x1="418.91" y1="191" x2="418.91" y2="191.96" stroke="#969696" stroke-width="0.5"/>
<line x1="425.64" y1="324.5" x2="425.64" y2="323.54" stroke="#969696" stroke-width="0.5"/>
<line x1="425.64" y1="191" x2="425.64" y2="191.96" stroke="#969696" stroke-width="0.5"/>
<line x1="431.33" y1="324.5" x2="431.33" y2="323.54" stroke="#969696" stroke-width="0.5"/>
<line x1="431.33" y1="191" x2="431.33" y2="191.96" stroke="#969696" stroke-width="0.5"/>
<line x1="436.26" y1="324.5" x2="436.26" y2="323.54" stroke="#969696" stroke-width="0.5"/>
<line x1="436.26" y1="191" x2="436.26" y2="191.96" stroke="#969696" stroke-width="0.5"/>
<line x1="440.61" y1="324.5" x2="440.61" y2="323.54" stroke="#969696" stroke-width="0.5"/>
<line x1="440.61" y1="191" x2="440.61" y2="191.96" stroke="#969696" stroke-width="0.5"/>
<line x1="274.5" y1="324.5" x2="276.1" y2="324.5" stroke="#969696" stroke-width="0.5"/>
<line x1="274.5" y1="313.24" x2="275.46" y2="313.24" stroke="#969696" stroke-width="0.5"/>
<line x1="274.5" y1="306.66" x2="275.46" y2="306.66" stroke="#969696" stroke-width="0.5"/>
<line x1="274.5" y1="301.99" x2="275.46" y2="301.99" stroke="#969696" stroke-width="0.5"/>
<line x1="274.5" y1="298.36" x2="275.46" y2="298.36" stroke="#969696" stroke-width="0.5"/>
<line x1="274.5" y1="295.4" x2="275.46" y2="295.4" stroke="#969696" stroke-width="0.5"/>
<line x1="274.5" y1="292.9" x2="275.46" y2="292.9" stroke="#969696" stroke-width="0.5"/>
<line x1="274.5" y1="290.73" x2="275.46" y2="290.73" stroke="#969696" stroke-width="0.5"/>
<line x1="274.5" y1="288.82" x2="275.46" y2="288.82" stroke="#969696" stroke-width="0.5"/>
<line x1="274.5" y1="287.11" x2="276.1" y2="287.11" stroke="#969696" stroke-width="0.5"/>
<line x1="274.5" y1="275.85" x2="275.46" y2="275.85" stroke="#969696" stroke-width="0.5"/>
<line x1="274.5" y1="269.26" x2="275.46" y2="269.26" stroke="#969696" stroke-width="0.5"/>
<line x1="274.5" y1="264.59" x2="275.46" y2="264.59" stroke="#969696" stroke-width="0.5"/>
<line x1="274.5" y1="260.97" x2="275.46" y2="260.97" stroke="#969696" stroke-width="0.5"/>
<line x1="274.5" y1="258.01" x2="275.46" y2="258.01" stroke="#969696" stroke-width="0.5"/>
<line x1="274.5" y1="255.5" x2="275.46" y2="255.5" stroke="#969696" stroke-width="0.5"/>
<line x1="274.5" y1="253.33" x2="275.46" y2="253.33" stroke="#969696" stroke-width="0.5"/>
<line x1="274.5" y1="251.42" x2="275.46" y2="251.42" stroke="#969696" stroke-width="0.5"/>
<line x1="274.5" y1="249.71" x2="276.1" y2="249.71" stroke="#969696" stroke-width="0.5"/>
<line x1="274.5" y1="238.45" x2="275.46" y2="238.45" stroke="#969696" stroke-width="0.5"/>
<line x1="274.5" y1="231.87" x2="275.46" y2="231.87" stroke="#969696" stroke-width="0.5"/>
<line x1="274.5" y1="227.2" x2="275.46" y2="227.2" stroke="#969696" stroke-width="0.5"/>
<line x1="274.5" y1="223.57" x2="275.46" y2="223.57" stroke="#969696" stroke-width="0.5"/>
<line x1="274.5" y1="220.61" x2="275.46" y2="220.61" stroke="#969696" stroke-width="0.5"/>
<line x1="274.5" y1="218.11" x2="275.46" y2="218.11" stroke="#969696" stroke-width="0.5"/>
<line x1="274.5" y1="215.94" x2="275.46" y2="215.94" stroke="#969696" stroke-width="0.5"/>
<line x1="274.5" y1="214.03" x2="275.46" y2="214.03" stroke="#969696" stroke-width="0.5"/>
<line x1="274.5" y1="212.32" x2="276.1" y2="212.32" stroke="#969696" stroke-width="0.5"/>
<line x1="274.5" y1="201.06" x2="275.46" y2="201.06" stroke="#969696" stroke-width="0.5"/>
<line x1="274.5" y1="194.47" x2="275.46" y2="194.47" stroke="#969696" stroke-width="0.5"/>
<line x1="442.9" y1="191" x2="444.5" y2="191" stroke="#9090ff" stroke-width="0.5"/>
<line x1="442.9" y1="205.83" x2="444.5" y2="205.83" stroke="#9090ff" stroke-width="0.5"/>
<line x1="442.9" y1="220.67" x2="444.5" y2="220.67" stroke="#9090ff" stroke-width="0.5"/>
<line x1="442.9" y1="235.5" x2="444.5" y2="235.5" stroke="#9090ff" stroke-width="0.5"/>
<line x1="442.9" y1="250.33" x2="444.5" y2="250.33" stroke="#9090ff" stroke-width="0.5"/>
<line x1="442.9" y1="265.17" x2="444.5" y2="265.17" stroke="#9090ff" stroke-width="0.5"/>
<line x1="442.9" y1="280" x2="444.5" y2="280" stroke="#9090ff" stroke-width="0.5"/>
<line x1="442.9" y1="294.83" x2="444.5" y2="294.83" stroke="#9090ff" stroke-width="0.5"/>
<line x1="442.9" y1="309.67" x2="444.5" y2="309.67" stroke="#9090ff" stroke-width="0.5"/>
<line x1="442.9" y1="324.5" x2="444.5" y2="324.5" stroke="#9090ff" stroke-width="0.5"/>
<line x1="274.5" y1="191" x2="444.5" y2="191" stroke="#969696" stroke-width="0.8"/>
<line x1="274.5" y1="324.5" x2="444.5" y2="324.5" stroke="#969696" stroke-width="0.8"/>
<line x1="274.5" y1="191" x2="274.5" y2="324.5" stroke="#969696" stroke-width="0.8"/>
<line x1="444.5" y1="191" x2="444.5" y2="324.5" stroke="#9090ff" stroke-width="0.9"/>
<text x="272.7" y="327.5" font-family="Liberation Sans" font-size="5.6" fill="#262626" stroke="#262626" stroke-width="0.12" text-anchor="end">10<tspan font-size="3.8" dy="-2.3">0</tspan></text>
<text x="272.7" y="290.11" font-family="Liberation Sans" font-size="5.6" fill="#262626" stroke="#262626" stroke-width="0.12" text-anchor="end">10<tspan font-size="3.8" dy="-2.3">1</tspan></text>
<text x="272.7" y="252.71" font-family="Liberation Sans" font-size="5.6" fill="#262626" stroke="#262626" stroke-width="0.12" text-anchor="end">10<tspan font-size="3.8" dy="-2.3">2</tspan></text>
<text x="272.7" y="215.32" font-family="Liberation Sans" font-size="5.6" fill="#262626" stroke="#262626" stroke-width="0.12" text-anchor="end">10<tspan font-size="3.8" dy="-2.3">3</tspan></text>
<text x="275.3" y="333.9" font-family="Liberation Sans" font-size="5.6" fill="#262626" stroke="#262626" stroke-width="0.12" text-anchor="middle">10<tspan font-size="3.8" dy="-2.3">4</tspan></text>
<text x="360.3" y="333.9" font-family="Liberation Sans" font-size="5.6" fill="#262626" stroke="#262626" stroke-width="0.12" text-anchor="middle">10<tspan font-size="3.8" dy="-2.3">5</tspan></text>
<text x="445.3" y="333.9" font-family="Liberation Sans" font-size="5.6" fill="#262626" stroke="#262626" stroke-width="0.12" text-anchor="middle">10<tspan font-size="3.8" dy="-2.3">6</tspan></text>
<text x="446.5" y="193.5" font-family="Liberation Sans" font-size="5.4" fill="#1010ff" stroke="#1010ff" stroke-width="0.15" text-anchor="start">0</text>
<text x="446.5" y="208.33" font-family="Liberation Sans" font-size="5.4" fill="#1010ff" stroke="#1010ff" stroke-width="0.15" text-anchor="start">-20</text>
<text x="446.5" y="223.17" font-family="Liberation Sans" font-size="5.4" fill="#1010ff" stroke="#1010ff" stroke-width="0.15" text-anchor="start">-40</text>
<text x="446.5" y="238" font-family="Liberation Sans" font-size="5.4" fill="#1010ff" stroke="#1010ff" stroke-width="0.15" text-anchor="start">-60</text>
<text x="446.5" y="252.83" font-family="Liberation Sans" font-size="5.4" fill="#1010ff" stroke="#1010ff" stroke-width="0.15" text-anchor="start">-80</text>
<text x="446.5" y="267.67" font-family="Liberation Sans" font-size="5.4" fill="#1010ff" stroke="#1010ff" stroke-width="0.15" text-anchor="start">-100</text>
<text x="446.5" y="282.5" font-family="Liberation Sans" font-size="5.4" fill="#1010ff" stroke="#1010ff" stroke-width="0.15" text-anchor="start">-120</text>
<text x="446.5" y="297.33" font-family="Liberation Sans" font-size="5.4" fill="#1010ff" stroke="#1010ff" stroke-width="0.15" text-anchor="start">-140</text>
<text x="446.5" y="312.17" font-family="Liberation Sans" font-size="5.4" fill="#1010ff" stroke="#1010ff" stroke-width="0.15" text-anchor="start">-160</text>
<text x="446.5" y="327" font-family="Liberation Sans" font-size="5.4" fill="#1010ff" stroke="#1010ff" stroke-width="0.15" text-anchor="start">-180</text>
<text transform="translate(258.9 258) rotate(-90)" font-family="Liberation Serif" font-size="7.9" fill="#3a3a3a" text-anchor="middle" textLength="35" lengthAdjust="spacingAndGlyphs">|<tspan font-style="italic">Z</tspan><tspan font-size="5" dy="1.6" font-style="italic">out</tspan><tspan dy="-1.6">| (</tspan><tspan font-style="italic">k&#937;</tspan>)</text>
<text transform="translate(466.1 258) rotate(-90)" font-family="Liberation Serif" font-size="7.9" fill="#1010ff" stroke="#1a1aff" stroke-width="0.15" text-anchor="middle" font-style="italic" textLength="53" lengthAdjust="spacingAndGlyphs">&lt; Z<tspan font-size="5" dy="1.6">out</tspan><tspan dy="-1.6"> (degrees)</tspan></text>
<text x="359.5" y="342.2" font-family="Liberation Serif" font-size="7.3" fill="#262626" stroke="#262626" stroke-width="0.1" text-anchor="middle" textLength="49.9" lengthAdjust="spacingAndGlyphs">Frequency (Hz)</text>
<line x1="25.5" y1="510.3" x2="25.5" y2="508.7" stroke="#969696" stroke-width="0.5"/>
<line x1="25.5" y1="376.7" x2="25.5" y2="378.3" stroke="#969696" stroke-width="0.5"/>
<text x="25.5" y="517.5" font-family="Liberation Sans" font-size="5.4" fill="#262626" stroke="#262626" stroke-width="0.12" text-anchor="middle">90</text>
<line x1="57.26" y1="510.3" x2="57.26" y2="508.7" stroke="#969696" stroke-width="0.5"/>
<line x1="57.26" y1="376.7" x2="57.26" y2="378.3" stroke="#969696" stroke-width="0.5"/>
<text x="57.26" y="517.5" font-family="Liberation Sans" font-size="5.4" fill="#262626" stroke="#262626" stroke-width="0.12" text-anchor="middle">95</text>
<line x1="89.02" y1="510.3" x2="89.02" y2="508.7" stroke="#969696" stroke-width="0.5"/>
<line x1="89.02" y1="376.7" x2="89.02" y2="378.3" stroke="#969696" stroke-width="0.5"/>
<text x="89.02" y="517.5" font-family="Liberation Sans" font-size="5.4" fill="#262626" stroke="#262626" stroke-width="0.12" text-anchor="middle">100</text>
<line x1="120.78" y1="510.3" x2="120.78" y2="508.7" stroke="#969696" stroke-width="0.5"/>
<line x1="120.78" y1="376.7" x2="120.78" y2="378.3" stroke="#969696" stroke-width="0.5"/>
<text x="120.78" y="517.5" font-family="Liberation Sans" font-size="5.4" fill="#262626" stroke="#262626" stroke-width="0.12" text-anchor="middle">105</text>
<line x1="152.54" y1="510.3" x2="152.54" y2="508.7" stroke="#969696" stroke-width="0.5"/>
<line x1="152.54" y1="376.7" x2="152.54" y2="378.3" stroke="#969696" stroke-width="0.5"/>
<text x="152.54" y="517.5" font-family="Liberation Sans" font-size="5.4" fill="#262626" stroke="#262626" stroke-width="0.12" text-anchor="middle">110</text>
<line x1="184.3" y1="510.3" x2="184.3" y2="508.7" stroke="#969696" stroke-width="0.5"/>
<line x1="184.3" y1="376.7" x2="184.3" y2="378.3" stroke="#969696" stroke-width="0.5"/>
<text x="184.3" y="517.5" font-family="Liberation Sans" font-size="5.4" fill="#262626" stroke="#262626" stroke-width="0.12" text-anchor="middle">115</text>
<line x1="25.5" y1="376.7" x2="27.1" y2="376.7" stroke="#969696" stroke-width="0.5"/>
<text x="23.3" y="378.7" font-family="Liberation Sans" font-size="5.4" fill="#262626" stroke="#262626" stroke-width="0.12" text-anchor="end">3</text>
<line x1="25.5" y1="393.4" x2="27.1" y2="393.4" stroke="#969696" stroke-width="0.5"/>
<text x="23.3" y="395.4" font-family="Liberation Sans" font-size="5.4" fill="#262626" stroke="#262626" stroke-width="0.12" text-anchor="end">2.5</text>
<line x1="25.5" y1="410.1" x2="27.1" y2="410.1" stroke="#969696" stroke-width="0.5"/>
<text x="23.3" y="412.1" font-family="Liberation Sans" font-size="5.4" fill="#262626" stroke="#262626" stroke-width="0.12" text-anchor="end">2</text>
<line x1="25.5" y1="426.8" x2="27.1" y2="426.8" stroke="#969696" stroke-width="0.5"/>
<text x="23.3" y="428.8" font-family="Liberation Sans" font-size="5.4" fill="#262626" stroke="#262626" stroke-width="0.12" text-anchor="end">1.5</text>
<line x1="25.5" y1="443.5" x2="27.1" y2="443.5" stroke="#969696" stroke-width="0.5"/>
<text x="23.3" y="445.5" font-family="Liberation Sans" font-size="5.4" fill="#262626" stroke="#262626" stroke-width="0.12" text-anchor="end">1</text>
<line x1="25.5" y1="460.2" x2="27.1" y2="460.2" stroke="#969696" stroke-width="0.5"/>
<text x="23.3" y="462.2" font-family="Liberation Sans" font-size="5.4" fill="#262626" stroke="#262626" stroke-width="0.12" text-anchor="end">0.5</text>
<line x1="25.5" y1="476.9" x2="27.1" y2="476.9" stroke="#969696" stroke-width="0.5"/>
<text x="23.3" y="478.9" font-family="Liberation Sans" font-size="5.4" fill="#262626" stroke="#262626" stroke-width="0.12" text-anchor="end">0</text>
<line x1="25.5" y1="493.6" x2="27.1" y2="493.6" stroke="#969696" stroke-width="0.5"/>
<text x="23.3" y="495.6" font-family="Liberation Sans" font-size="5.4" fill="#262626" stroke="#262626" stroke-width="0.12" text-anchor="end">-0.5</text>
<line x1="25.5" y1="510.3" x2="27.1" y2="510.3" stroke="#969696" stroke-width="0.5"/>
<text x="23.3" y="512.3" font-family="Liberation Sans" font-size="5.4" fill="#262626" stroke="#262626" stroke-width="0.12" text-anchor="end">-1</text>
<line x1="195.4" y1="376.7" x2="197" y2="376.7" stroke="#9090ff" stroke-width="0.5"/>
<text x="199" y="378.7" font-family="Liberation Sans" font-size="5.4" fill="#1010ff" stroke="#1010ff" stroke-width="0.15" text-anchor="start">1</text>
<line x1="195.4" y1="390.06" x2="197" y2="390.06" stroke="#9090ff" stroke-width="0.5"/>
<text x="199" y="392.06" font-family="Liberation Sans" font-size="5.4" fill="#1010ff" stroke="#1010ff" stroke-width="0.15" text-anchor="start">0.8</text>
<line x1="195.4" y1="403.42" x2="197" y2="403.42" stroke="#9090ff" stroke-width="0.5"/>
<text x="199" y="405.42" font-family="Liberation Sans" font-size="5.4" fill="#1010ff" stroke="#1010ff" stroke-width="0.15" text-anchor="start">0.6</text>
<line x1="195.4" y1="416.78" x2="197" y2="416.78" stroke="#9090ff" stroke-width="0.5"/>
<text x="199" y="418.78" font-family="Liberation Sans" font-size="5.4" fill="#1010ff" stroke="#1010ff" stroke-width="0.15" text-anchor="start">0.4</text>
<line x1="195.4" y1="430.14" x2="197" y2="430.14" stroke="#9090ff" stroke-width="0.5"/>
<text x="199" y="432.14" font-family="Liberation Sans" font-size="5.4" fill="#1010ff" stroke="#1010ff" stroke-width="0.15" text-anchor="start">0.2</text>
<line x1="195.4" y1="443.5" x2="197" y2="443.5" stroke="#9090ff" stroke-width="0.5"/>
<text x="199" y="445.5" font-family="Liberation Sans" font-size="5.4" fill="#1010ff" stroke="#1010ff" stroke-width="0.15" text-anchor="start">0</text>
<line x1="195.4" y1="456.86" x2="197" y2="456.86" stroke="#9090ff" stroke-width="0.5"/>
<text x="199" y="458.86" font-family="Liberation Sans" font-size="5.4" fill="#1010ff" stroke="#1010ff" stroke-width="0.15" text-anchor="start">-0.2</text>
<line x1="195.4" y1="470.22" x2="197" y2="470.22" stroke="#9090ff" stroke-width="0.5"/>
<text x="199" y="472.22" font-family="Liberation Sans" font-size="5.4" fill="#1010ff" stroke="#1010ff" stroke-width="0.15" text-anchor="start">-0.4</text>
<line x1="195.4" y1="483.58" x2="197" y2="483.58" stroke="#9090ff" stroke-width="0.5"/>
<text x="199" y="485.58" font-family="Liberation Sans" font-size="5.4" fill="#1010ff" stroke="#1010ff" stroke-width="0.15" text-anchor="start">-0.6</text>
<line x1="195.4" y1="496.94" x2="197" y2="496.94" stroke="#9090ff" stroke-width="0.5"/>
<text x="199" y="498.94" font-family="Liberation Sans" font-size="5.4" fill="#1010ff" stroke="#1010ff" stroke-width="0.15" text-anchor="start">-0.8</text>
<line x1="195.4" y1="510.3" x2="197" y2="510.3" stroke="#9090ff" stroke-width="0.5"/>
<text x="199" y="512.3" font-family="Liberation Sans" font-size="5.4" fill="#1010ff" stroke="#1010ff" stroke-width="0.15" text-anchor="start">-1</text>
<line x1="25.5" y1="376.7" x2="197" y2="376.7" stroke="#969696" stroke-width="0.8"/>
<line x1="25.5" y1="510.3" x2="197" y2="510.3" stroke="#969696" stroke-width="0.8"/>
<line x1="25.5" y1="376.7" x2="25.5" y2="510.3" stroke="#969696" stroke-width="0.8"/>
<line x1="197" y1="376.7" x2="197" y2="510.3" stroke="#9090ff" stroke-width="0.9"/>
<text transform="translate(11.48 445.6) rotate(-90)" font-family="Liberation Serif" font-size="7.6" fill="#262626" stroke="#262626" stroke-width="0.1" text-anchor="middle" font-style="italic" textLength="35.5" lengthAdjust="spacingAndGlyphs">Voltage (V)</text>
<text transform="translate(217.38 442.7) rotate(-90)" font-family="Liberation Serif" font-size="7.6" fill="#1010ff" stroke="#1a1aff" stroke-width="0.15" text-anchor="middle" font-style="italic" textLength="47.6" lengthAdjust="spacingAndGlyphs">Current (mA)</text>
<text x="113.2" y="525.3" font-family="Liberation Serif" font-size="7.3" fill="#262626" stroke="#262626" stroke-width="0.1" text-anchor="middle" textLength="35" lengthAdjust="spacingAndGlyphs">Time (us)</text>
<line x1="286.93" y1="510.3" x2="286.93" y2="508.7" stroke="#969696" stroke-width="0.5"/>
<line x1="286.93" y1="375.6" x2="286.93" y2="377.2" stroke="#969696" stroke-width="0.5"/>
<text x="286.93" y="517.5" font-family="Liberation Sans" font-size="5.4" fill="#262626" stroke="#262626" stroke-width="0.12" text-anchor="middle">80</text>
<line x1="318.74" y1="510.3" x2="318.74" y2="508.7" stroke="#969696" stroke-width="0.5"/>
<line x1="318.74" y1="375.6" x2="318.74" y2="377.2" stroke="#969696" stroke-width="0.5"/>
<text x="318.74" y="517.5" font-family="Liberation Sans" font-size="5.4" fill="#262626" stroke="#262626" stroke-width="0.12" text-anchor="middle">85</text>
<line x1="350.56" y1="510.3" x2="350.56" y2="508.7" stroke="#969696" stroke-width="0.5"/>
<line x1="350.56" y1="375.6" x2="350.56" y2="377.2" stroke="#969696" stroke-width="0.5"/>
<text x="350.56" y="517.5" font-family="Liberation Sans" font-size="5.4" fill="#262626" stroke="#262626" stroke-width="0.12" text-anchor="middle">90</text>
<line x1="382.37" y1="510.3" x2="382.37" y2="508.7" stroke="#969696" stroke-width="0.5"/>
<line x1="382.37" y1="375.6" x2="382.37" y2="377.2" stroke="#969696" stroke-width="0.5"/>
<text x="382.37" y="517.5" font-family="Liberation Sans" font-size="5.4" fill="#262626" stroke="#262626" stroke-width="0.12" text-anchor="middle">95</text>
<line x1="414.19" y1="510.3" x2="414.19" y2="508.7" stroke="#969696" stroke-width="0.5"/>
<line x1="414.19" y1="375.6" x2="414.19" y2="377.2" stroke="#969696" stroke-width="0.5"/>
<text x="414.19" y="517.5" font-family="Liberation Sans" font-size="5.4" fill="#262626" stroke="#262626" stroke-width="0.12" text-anchor="middle">100</text>
<line x1="446" y1="510.3" x2="446" y2="508.7" stroke="#969696" stroke-width="0.5"/>
<line x1="446" y1="375.6" x2="446" y2="377.2" stroke="#969696" stroke-width="0.5"/>
<text x="446" y="517.5" font-family="Liberation Sans" font-size="5.4" fill="#262626" stroke="#262626" stroke-width="0.12" text-anchor="middle">105</text>
<line x1="274.2" y1="375.6" x2="275.8" y2="375.6" stroke="#969696" stroke-width="0.5"/>
<text x="272" y="377.6" font-family="Liberation Sans" font-size="5.4" fill="#262626" stroke="#262626" stroke-width="0.12" text-anchor="end">3</text>
<line x1="274.2" y1="392.44" x2="275.8" y2="392.44" stroke="#969696" stroke-width="0.5"/>
<text x="272" y="394.44" font-family="Liberation Sans" font-size="5.4" fill="#262626" stroke="#262626" stroke-width="0.12" text-anchor="end">2.5</text>
<line x1="274.2" y1="409.28" x2="275.8" y2="409.28" stroke="#969696" stroke-width="0.5"/>
<text x="272" y="411.28" font-family="Liberation Sans" font-size="5.4" fill="#262626" stroke="#262626" stroke-width="0.12" text-anchor="end">2</text>
<line x1="274.2" y1="426.11" x2="275.8" y2="426.11" stroke="#969696" stroke-width="0.5"/>
<text x="272" y="428.11" font-family="Liberation Sans" font-size="5.4" fill="#262626" stroke="#262626" stroke-width="0.12" text-anchor="end">1.5</text>
<line x1="274.2" y1="442.95" x2="275.8" y2="442.95" stroke="#969696" stroke-width="0.5"/>
<text x="272" y="444.95" font-family="Liberation Sans" font-size="5.4" fill="#262626" stroke="#262626" stroke-width="0.12" text-anchor="end">1</text>
<line x1="274.2" y1="459.79" x2="275.8" y2="459.79" stroke="#969696" stroke-width="0.5"/>
<text x="272" y="461.79" font-family="Liberation Sans" font-size="5.4" fill="#262626" stroke="#262626" stroke-width="0.12" text-anchor="end">0.5</text>
<line x1="274.2" y1="476.62" x2="275.8" y2="476.62" stroke="#969696" stroke-width="0.5"/>
<text x="272" y="478.62" font-family="Liberation Sans" font-size="5.4" fill="#262626" stroke="#262626" stroke-width="0.12" text-anchor="end">0</text>
<line x1="274.2" y1="493.46" x2="275.8" y2="493.46" stroke="#969696" stroke-width="0.5"/>
<text x="272" y="495.46" font-family="Liberation Sans" font-size="5.4" fill="#262626" stroke="#262626" stroke-width="0.12" text-anchor="end">-0.5</text>
<line x1="274.2" y1="510.3" x2="275.8" y2="510.3" stroke="#969696" stroke-width="0.5"/>
<text x="272" y="512.3" font-family="Liberation Sans" font-size="5.4" fill="#262626" stroke="#262626" stroke-width="0.12" text-anchor="end">-1</text>
<line x1="444.4" y1="375.6" x2="446" y2="375.6" stroke="#9090ff" stroke-width="0.5"/>
<text x="448" y="377.6" font-family="Liberation Sans" font-size="5.4" fill="#1010ff" stroke="#1010ff" stroke-width="0.15" text-anchor="start">1</text>
<line x1="444.4" y1="389.07" x2="446" y2="389.07" stroke="#9090ff" stroke-width="0.5"/>
<text x="448" y="391.07" font-family="Liberation Sans" font-size="5.4" fill="#1010ff" stroke="#1010ff" stroke-width="0.15" text-anchor="start">0.8</text>
<line x1="444.4" y1="402.54" x2="446" y2="402.54" stroke="#9090ff" stroke-width="0.5"/>
<text x="448" y="404.54" font-family="Liberation Sans" font-size="5.4" fill="#1010ff" stroke="#1010ff" stroke-width="0.15" text-anchor="start">0.6</text>
<line x1="444.4" y1="416.01" x2="446" y2="416.01" stroke="#9090ff" stroke-width="0.5"/>
<text x="448" y="418.01" font-family="Liberation Sans" font-size="5.4" fill="#1010ff" stroke="#1010ff" stroke-width="0.15" text-anchor="start">0.4</text>
<line x1="444.4" y1="429.48" x2="446" y2="429.48" stroke="#9090ff" stroke-width="0.5"/>
<text x="448" y="431.48" font-family="Liberation Sans" font-size="5.4" fill="#1010ff" stroke="#1010ff" stroke-width="0.15" text-anchor="start">0.2</text>
<line x1="444.4" y1="442.95" x2="446" y2="442.95" stroke="#9090ff" stroke-width="0.5"/>
<text x="448" y="444.95" font-family="Liberation Sans" font-size="5.4" fill="#1010ff" stroke="#1010ff" stroke-width="0.15" text-anchor="start">0</text>
<line x1="444.4" y1="456.42" x2="446" y2="456.42" stroke="#9090ff" stroke-width="0.5"/>
<text x="448" y="458.42" font-family="Liberation Sans" font-size="5.4" fill="#1010ff" stroke="#1010ff" stroke-width="0.15" text-anchor="start">-0.2</text>
<line x1="444.4" y1="469.89" x2="446" y2="469.89" stroke="#9090ff" stroke-width="0.5"/>
<text x="448" y="471.89" font-family="Liberation Sans" font-size="5.4" fill="#1010ff" stroke="#1010ff" stroke-width="0.15" text-anchor="start">-0.4</text>
<line x1="444.4" y1="483.36" x2="446" y2="483.36" stroke="#9090ff" stroke-width="0.5"/>
<text x="448" y="485.36" font-family="Liberation Sans" font-size="5.4" fill="#1010ff" stroke="#1010ff" stroke-width="0.15" text-anchor="start">-0.6</text>
<line x1="444.4" y1="496.83" x2="446" y2="496.83" stroke="#9090ff" stroke-width="0.5"/>
<text x="448" y="498.83" font-family="Liberation Sans" font-size="5.4" fill="#1010ff" stroke="#1010ff" stroke-width="0.15" text-anchor="start">-0.8</text>
<line x1="444.4" y1="510.3" x2="446" y2="510.3" stroke="#9090ff" stroke-width="0.5"/>
<text x="448" y="512.3" font-family="Liberation Sans" font-size="5.4" fill="#1010ff" stroke="#1010ff" stroke-width="0.15" text-anchor="start">-1</text>
<line x1="274.2" y1="375.6" x2="446" y2="375.6" stroke="#969696" stroke-width="0.8"/>
<line x1="274.2" y1="510.3" x2="446" y2="510.3" stroke="#969696" stroke-width="0.8"/>
<line x1="274.2" y1="375.6" x2="274.2" y2="510.3" stroke="#969696" stroke-width="0.8"/>
<line x1="446" y1="375.6" x2="446" y2="510.3" stroke="#9090ff" stroke-width="0.9"/>
<text transform="translate(258.08 442.5) rotate(-90)" font-family="Liberation Serif" font-size="7.6" fill="#262626" stroke="#262626" stroke-width="0.1" text-anchor="middle" font-style="italic" textLength="39.5" lengthAdjust="spacingAndGlyphs">Voltage (V)</text>
<text transform="translate(466.48 441) rotate(-90)" font-family="Liberation Serif" font-size="7.6" fill="#1010ff" stroke="#1a1aff" stroke-width="0.15" text-anchor="middle" font-style="italic" textLength="44.7" lengthAdjust="spacingAndGlyphs">Current (mA)</text>
<text x="360.3" y="525.3" font-family="Liberation Serif" font-size="7.3" fill="#262626" stroke="#262626" stroke-width="0.1" text-anchor="middle" textLength="31.7" lengthAdjust="spacingAndGlyphs">Time (us)</text>
<rect x="40.7" y="42.4" width="30.5" height="91.6" fill="#fff" stroke="#a6a6a6" stroke-width="0.7"/>
<line x1="43.2" y1="47.20" x2="54.3" y2="47.20" stroke="#0072BD" stroke-width="1.7"/>
<text x="56" y="49.70" font-family="Liberation Sans" font-size="5.7" fill="#1a1a1a" stroke="#1a1a1a" stroke-width="0.12">2.25k</text>
<line x1="43.2" y1="54.65" x2="54.3" y2="54.65" stroke="#D95319" stroke-width="1.7"/>
<text x="56" y="57.15" font-family="Liberation Sans" font-size="5.7" fill="#1a1a1a" stroke="#1a1a1a" stroke-width="0.12">2.49k</text>
<line x1="43.2" y1="62.10" x2="54.3" y2="62.10" stroke="#EDB120" stroke-width="1.7"/>
<text x="56" y="64.60" font-family="Liberation Sans" font-size="5.7" fill="#1a1a1a" stroke="#1a1a1a" stroke-width="0.12">3k</text>
<line x1="43.2" y1="69.55" x2="54.3" y2="69.55" stroke="#7E2F8E" stroke-width="1.7"/>
<text x="56" y="72.05" font-family="Liberation Sans" font-size="5.7" fill="#1a1a1a" stroke="#1a1a1a" stroke-width="0.12">4k</text>
<line x1="43.2" y1="77.00" x2="54.3" y2="77.00" stroke="#77AC30" stroke-width="1.7"/>
<text x="56" y="79.50" font-family="Liberation Sans" font-size="5.7" fill="#1a1a1a" stroke="#1a1a1a" stroke-width="0.12">5k</text>
<line x1="43.2" y1="84.45" x2="54.3" y2="84.45" stroke="#4DBEEE" stroke-width="1.7"/>
<text x="56" y="86.95" font-family="Liberation Sans" font-size="5.7" fill="#1a1a1a" stroke="#1a1a1a" stroke-width="0.12">6k</text>
<line x1="43.2" y1="91.90" x2="54.3" y2="91.90" stroke="#cc4466" stroke-width="0.85" opacity="0.85"/>
<text x="56" y="94.40" font-family="Liberation Sans" font-size="5.7" fill="#1a1a1a" stroke="#1a1a1a" stroke-width="0.12">2.25k</text>
<line x1="43.2" y1="99.35" x2="54.3" y2="99.35" stroke="#cc4466" stroke-width="0.85" opacity="0.85" stroke-dasharray="3.4 2.4"/>
<text x="56" y="101.85" font-family="Liberation Sans" font-size="5.7" fill="#1a1a1a" stroke="#1a1a1a" stroke-width="0.12">2.49k</text>
<line x1="43.2" y1="106.80" x2="54.3" y2="106.80" stroke="#cc4466" stroke-width="0.85" opacity="0.45"/>
<text x="56" y="109.30" font-family="Liberation Sans" font-size="5.7" fill="#1a1a1a" stroke="#1a1a1a" stroke-width="0.12">3k</text>
<line x1="43.2" y1="114.25" x2="54.3" y2="114.25" stroke="#cc4466" stroke-width="0.85" opacity="0.75" stroke-dasharray="3 1.2 0.8 1.2"/>
<text x="56" y="116.75" font-family="Liberation Sans" font-size="5.7" fill="#1a1a1a" stroke="#1a1a1a" stroke-width="0.12">4k</text>
<line x1="43.2" y1="121.70" x2="54.3" y2="121.70" stroke="#A2142F" stroke-width="0.85" opacity="0.85"/>
<circle cx="48.75" cy="121.70" r="1.6" fill="none" stroke="#A2142F" stroke-width="0.6"/>
<text x="56" y="124.20" font-family="Liberation Sans" font-size="5.7" fill="#1a1a1a" stroke="#1a1a1a" stroke-width="0.12">5k</text>
<line x1="43.2" y1="129.15" x2="54.3" y2="129.15" stroke="#A2142F" stroke-width="0.85" opacity="0.85"/>
<path d="M48.75 127.25 L47.04 130.29 L50.46 130.29 Z" fill="none" stroke="#A2142F" stroke-width="0.6"/>
<text x="56" y="131.65" font-family="Liberation Sans" font-size="5.7" fill="#1a1a1a" stroke="#1a1a1a" stroke-width="0.12">6k</text>
<rect x="152.4" y="382.3" width="39.099999999999994" height="80.0" fill="#fff" stroke="#a6a6a6" stroke-width="0.7"/>
<line x1="154.5" y1="387.70" x2="166.4" y2="387.70" stroke="#0072BD" stroke-width="1.7" />
<text x="167.3" y="389.30" font-family="Liberation Sans" font-size="6.2" fill="#1a1a1a" stroke="#1a1a1a" stroke-width="0.1">V<tspan font-size="4.1" dy="2.6">DAC</tspan></text>
<line x1="154.5" y1="397.45" x2="166.4" y2="397.45" stroke="#D95319" stroke-width="1.5" />
<text x="167.3" y="399.05" font-family="Liberation Sans" font-size="6.2" fill="#1a1a1a" stroke="#1a1a1a" stroke-width="0.1">V<tspan font-size="4.1" dy="2.6">o1</tspan></text>
<line x1="154.5" y1="407.20" x2="166.4" y2="407.20" stroke="#EDB120" stroke-width="0.7" opacity="0.75"/>
<text x="167.3" y="408.80" font-family="Liberation Sans" font-size="6.2" fill="#1a1a1a" stroke="#1a1a1a" stroke-width="0.1">I<tspan font-size="4.1" dy="2.6">L</tspan><tspan dx="0.4" dy="-2.6">(2.25k)</tspan></text>
<line x1="154.5" y1="416.95" x2="166.4" y2="416.95" stroke="#EDB120" stroke-width="0.7" opacity="0.7" stroke-dasharray="3.4 2.4"/>
<text x="167.3" y="418.55" font-family="Liberation Sans" font-size="6.2" fill="#1a1a1a" stroke="#1a1a1a" stroke-width="0.1">I<tspan font-size="4.1" dy="2.6">L</tspan><tspan dx="0.4" dy="-2.6">(2.49k)</tspan></text>
<line x1="154.5" y1="426.70" x2="166.4" y2="426.70" stroke="#EDB120" stroke-width="0.7" opacity="0.6" stroke-dasharray="0.6 0.9"/>
<text x="167.3" y="428.30" font-family="Liberation Sans" font-size="6.2" fill="#1a1a1a" stroke="#1a1a1a" stroke-width="0.1">I<tspan font-size="4.1" dy="2.6">L</tspan><tspan dx="0.4" dy="-2.6">(3k)</tspan></text>
<line x1="154.5" y1="436.45" x2="166.4" y2="436.45" stroke="#EDB120" stroke-width="0.7" opacity="0.7" stroke-dasharray="3 1.2 0.8 1.2"/>
<text x="167.3" y="438.05" font-family="Liberation Sans" font-size="6.2" fill="#1a1a1a" stroke="#1a1a1a" stroke-width="0.1">I<tspan font-size="4.1" dy="2.6">L</tspan><tspan dx="0.4" dy="-2.6">(4k)</tspan></text>
<line x1="154.5" y1="446.20" x2="166.4" y2="446.20" stroke="#EDB120" stroke-width="0.7" />
<circle cx="160.4" cy="446.20" r="1.7" fill="none" stroke="#EDB120" stroke-width="0.7"/>
<text x="167.3" y="447.80" font-family="Liberation Sans" font-size="6.2" fill="#1a1a1a" stroke="#1a1a1a" stroke-width="0.1">I<tspan font-size="4.1" dy="2.6">L</tspan><tspan dx="0.4" dy="-2.6">(5k)</tspan></text>
<line x1="154.5" y1="455.95" x2="166.4" y2="455.95" stroke="#EDB120" stroke-width="0.7" />
<path d="M160.4 453.95 L158.60 457.15 L162.20 457.15 Z" fill="none" stroke="#EDB120" stroke-width="0.7"/>
<text x="167.3" y="457.55" font-family="Liberation Sans" font-size="6.2" fill="#1a1a1a" stroke="#1a1a1a" stroke-width="0.1">I<tspan font-size="4.1" dy="2.6">L</tspan><tspan dx="0.4" dy="-2.6">(6k)</tspan></text>
<text x="108.6" y="176.5" font-family="Liberation Serif" font-size="10.9" fill="#1a1a1a" stroke="#1a1a1a" stroke-width="0.22" text-anchor="middle" textLength="124" lengthAdjust="spacingAndGlyphs">(<tspan font-weight="bold">a</tspan>) Single-ended/ADA4625</text>
<text x="357.6" y="176.5" font-family="Liberation Serif" font-size="10.9" fill="#1a1a1a" stroke="#1a1a1a" stroke-width="0.22" text-anchor="middle" textLength="121" lengthAdjust="spacingAndGlyphs">(<tspan font-weight="bold">b</tspan>) Single-ended/OPAx210</text>
<text x="107.6" y="361" font-family="Liberation Serif" font-size="10.9" fill="#1a1a1a" stroke="#1a1a1a" stroke-width="0.22" text-anchor="middle" textLength="102.6" lengthAdjust="spacingAndGlyphs">(<tspan font-weight="bold">c</tspan>) Mirrored/ADA4625</text>
<text x="357.6" y="361" font-family="Liberation Serif" font-size="10.9" fill="#1a1a1a" stroke="#1a1a1a" stroke-width="0.22" text-anchor="middle" textLength="105.5" lengthAdjust="spacingAndGlyphs">(<tspan font-weight="bold">d</tspan>) Mirrored/OPAx210</text>
<text x="107.5" y="545.5" font-family="Liberation Serif" font-size="10.9" fill="#1a1a1a" stroke="#1a1a1a" stroke-width="0.22" text-anchor="middle" textLength="161.2" lengthAdjust="spacingAndGlyphs">(<tspan font-weight="bold">e</tspan>) Transient, Single-ended/OPAx210</text>
<text x="358.4" y="545.5" font-family="Liberation Serif" font-size="10.9" fill="#1a1a1a" stroke="#1a1a1a" stroke-width="0.22" text-anchor="middle" textLength="150" lengthAdjust="spacingAndGlyphs">(<tspan font-weight="bold">f</tspan>) Transient, Mirrored/ADA4625</text>
</svg>
</body></html>
